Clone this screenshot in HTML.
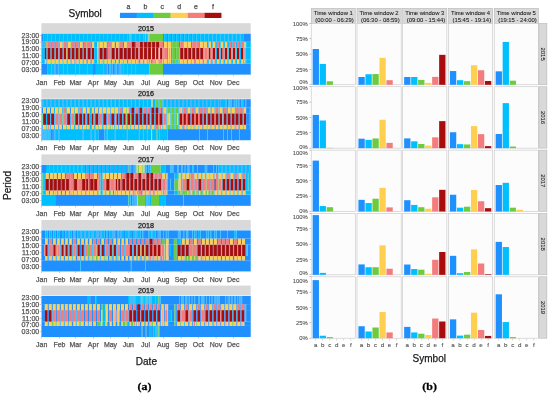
<!DOCTYPE html><html><head><meta charset="utf-8"><style>html,body{margin:0;padding:0;background:#fff;}svg{display:block;will-change:transform;filter:blur(0.3px)} text{stroke-width:0.25px}</style></head><body>
<svg width="550" height="395" viewBox="0 0 550 395" font-family='"Liberation Sans", sans-serif'>
<rect width="550" height="395" fill="#fff"/>
<text x="68.5" y="17.2" font-size="10" fill="#1a1a1a" shape-rendering="auto" stroke="#1a1a1a">Symbol</text>
<rect x="120.00" y="12.8" width="16.95" height="5.2" fill="#1E90FF"/>
<text x="128.45" y="8.6" font-size="7" fill="#4d4d4d" text-anchor="middle" stroke="#4d4d4d">a</text>
<rect x="136.90" y="12.8" width="16.95" height="5.2" fill="#00BFFF"/>
<text x="145.35" y="8.6" font-size="7" fill="#4d4d4d" text-anchor="middle" stroke="#4d4d4d">b</text>
<rect x="153.80" y="12.8" width="16.95" height="5.2" fill="#6CCB3F"/>
<text x="162.25" y="8.6" font-size="7" fill="#4d4d4d" text-anchor="middle" stroke="#4d4d4d">c</text>
<rect x="170.70" y="12.8" width="16.95" height="5.2" fill="#FFCF50"/>
<text x="179.15" y="8.6" font-size="7" fill="#4d4d4d" text-anchor="middle" stroke="#4d4d4d">d</text>
<rect x="187.60" y="12.8" width="16.95" height="5.2" fill="#F47C7C"/>
<text x="196.05" y="8.6" font-size="7" fill="#4d4d4d" text-anchor="middle" stroke="#4d4d4d">e</text>
<rect x="204.50" y="12.8" width="16.95" height="5.2" fill="#A80C0C"/>
<text x="212.95" y="8.6" font-size="7" fill="#4d4d4d" text-anchor="middle" stroke="#4d4d4d">f</text>
<rect x="41.4" y="23.20" width="209.30" height="9.9" fill="#D9D9D9"/>
<text x="146.05" y="30.80" font-size="7.2" fill="#1a1a1a" text-anchor="middle" stroke="#1a1a1a">2015</text>
<rect x="41.40" y="63.50" width="5.76" height="11.13" fill="#1E90FF"/>
<rect x="47.13" y="63.50" width="4.04" height="11.13" fill="#00BFFF"/>
<rect x="51.15" y="63.50" width="0.60" height="11.13" fill="#1E90FF"/>
<rect x="51.72" y="63.50" width="2.32" height="11.13" fill="#00BFFF"/>
<rect x="54.02" y="63.50" width="0.60" height="11.13" fill="#1E90FF"/>
<rect x="54.59" y="63.50" width="1.18" height="11.13" fill="#00BFFF"/>
<rect x="55.74" y="63.50" width="1.18" height="11.13" fill="#1E90FF"/>
<rect x="56.88" y="63.50" width="1.18" height="11.13" fill="#00BFFF"/>
<rect x="58.03" y="63.50" width="0.60" height="11.13" fill="#1E90FF"/>
<rect x="58.61" y="63.50" width="4.62" height="11.13" fill="#00BFFF"/>
<rect x="63.19" y="63.50" width="0.60" height="11.13" fill="#1E90FF"/>
<rect x="63.77" y="63.50" width="3.47" height="11.13" fill="#00BFFF"/>
<rect x="67.21" y="63.50" width="0.60" height="11.13" fill="#1E90FF"/>
<rect x="67.78" y="63.50" width="7.49" height="11.13" fill="#00BFFF"/>
<rect x="75.24" y="63.50" width="0.60" height="11.13" fill="#1E90FF"/>
<rect x="75.81" y="63.50" width="3.47" height="11.13" fill="#00BFFF"/>
<rect x="79.25" y="63.50" width="0.60" height="11.13" fill="#1E90FF"/>
<rect x="79.82" y="63.50" width="7.49" height="11.13" fill="#00BFFF"/>
<rect x="87.28" y="63.50" width="0.60" height="11.13" fill="#1E90FF"/>
<rect x="87.85" y="63.50" width="5.19" height="11.13" fill="#00BFFF"/>
<rect x="93.02" y="63.50" width="2.90" height="11.13" fill="#1E90FF"/>
<rect x="95.88" y="63.50" width="7.49" height="11.13" fill="#00BFFF"/>
<rect x="103.34" y="63.50" width="0.60" height="11.13" fill="#1E90FF"/>
<rect x="103.91" y="63.50" width="2.32" height="11.13" fill="#00BFFF"/>
<rect x="106.21" y="63.50" width="1.18" height="11.13" fill="#1E90FF"/>
<rect x="107.35" y="63.50" width="0.60" height="11.13" fill="#00BFFF"/>
<rect x="107.93" y="63.50" width="1.18" height="11.13" fill="#1E90FF"/>
<rect x="109.07" y="63.50" width="0.60" height="11.13" fill="#00BFFF"/>
<rect x="109.65" y="63.50" width="0.60" height="11.13" fill="#1E90FF"/>
<rect x="110.22" y="63.50" width="2.32" height="11.13" fill="#00BFFF"/>
<rect x="112.51" y="63.50" width="2.32" height="11.13" fill="#1E90FF"/>
<rect x="114.81" y="63.50" width="0.60" height="11.13" fill="#00BFFF"/>
<rect x="115.38" y="63.50" width="1.18" height="11.13" fill="#1E90FF"/>
<rect x="116.53" y="63.50" width="0.60" height="11.13" fill="#00BFFF"/>
<rect x="117.10" y="63.50" width="1.75" height="11.13" fill="#1E90FF"/>
<rect x="118.82" y="63.50" width="0.60" height="11.13" fill="#00BFFF"/>
<rect x="119.40" y="63.50" width="0.60" height="11.13" fill="#1E90FF"/>
<rect x="119.97" y="63.50" width="0.60" height="11.13" fill="#00BFFF"/>
<rect x="120.54" y="63.50" width="0.60" height="11.13" fill="#1E90FF"/>
<rect x="121.12" y="63.50" width="2.32" height="11.13" fill="#00BFFF"/>
<rect x="123.41" y="63.50" width="0.60" height="11.13" fill="#1E90FF"/>
<rect x="123.98" y="63.50" width="3.47" height="11.13" fill="#00BFFF"/>
<rect x="127.43" y="63.50" width="0.60" height="11.13" fill="#1E90FF"/>
<rect x="128.00" y="63.50" width="3.47" height="11.13" fill="#00BFFF"/>
<rect x="131.44" y="63.50" width="0.60" height="11.13" fill="#1E90FF"/>
<rect x="132.01" y="63.50" width="3.47" height="11.13" fill="#00BFFF"/>
<rect x="135.45" y="63.50" width="0.60" height="11.13" fill="#1E90FF"/>
<rect x="136.03" y="63.50" width="13.22" height="11.13" fill="#00BFFF"/>
<rect x="149.22" y="63.50" width="13.79" height="11.13" fill="#6CCB3F"/>
<rect x="162.98" y="63.50" width="87.75" height="11.13" fill="#1E90FF"/>
<rect x="41.40" y="59.23" width="3.47" height="4.30" fill="#00BFFF"/>
<rect x="44.84" y="59.23" width="1.18" height="4.30" fill="#FFCF50"/>
<rect x="45.99" y="59.23" width="0.60" height="4.30" fill="#F47C7C"/>
<rect x="46.56" y="59.23" width="0.60" height="4.30" fill="#00BFFF"/>
<rect x="47.13" y="59.23" width="0.60" height="4.30" fill="#6CCB3F"/>
<rect x="47.71" y="59.23" width="2.90" height="4.30" fill="#FFCF50"/>
<rect x="50.58" y="59.23" width="0.60" height="4.30" fill="#6CCB3F"/>
<rect x="51.15" y="59.23" width="0.60" height="4.30" fill="#00BFFF"/>
<rect x="51.72" y="59.23" width="2.90" height="4.30" fill="#FFCF50"/>
<rect x="54.59" y="59.23" width="0.60" height="4.30" fill="#6CCB3F"/>
<rect x="55.16" y="59.23" width="0.60" height="4.30" fill="#00BFFF"/>
<rect x="55.74" y="59.23" width="2.90" height="4.30" fill="#FFCF50"/>
<rect x="58.61" y="59.23" width="1.18" height="4.30" fill="#00BFFF"/>
<rect x="59.75" y="59.23" width="2.90" height="4.30" fill="#FFCF50"/>
<rect x="62.62" y="59.23" width="0.60" height="4.30" fill="#00BFFF"/>
<rect x="63.19" y="59.23" width="0.60" height="4.30" fill="#6CCB3F"/>
<rect x="63.77" y="59.23" width="2.90" height="4.30" fill="#FFCF50"/>
<rect x="66.63" y="59.23" width="1.18" height="4.30" fill="#00BFFF"/>
<rect x="67.78" y="59.23" width="2.90" height="4.30" fill="#FFCF50"/>
<rect x="70.65" y="59.23" width="0.60" height="4.30" fill="#1E90FF"/>
<rect x="71.22" y="59.23" width="0.60" height="4.30" fill="#00BFFF"/>
<rect x="71.80" y="59.23" width="0.60" height="4.30" fill="#F47C7C"/>
<rect x="72.37" y="59.23" width="1.75" height="4.30" fill="#FFCF50"/>
<rect x="74.09" y="59.23" width="0.60" height="4.30" fill="#F47C7C"/>
<rect x="74.66" y="59.23" width="0.60" height="4.30" fill="#00BFFF"/>
<rect x="75.24" y="59.23" width="0.60" height="4.30" fill="#6CCB3F"/>
<rect x="75.81" y="59.23" width="0.60" height="4.30" fill="#FFCF50"/>
<rect x="76.38" y="59.23" width="0.60" height="4.30" fill="#F47C7C"/>
<rect x="76.96" y="59.23" width="1.75" height="4.30" fill="#FFCF50"/>
<rect x="78.68" y="59.23" width="0.60" height="4.30" fill="#00BFFF"/>
<rect x="79.25" y="59.23" width="0.60" height="4.30" fill="#1E90FF"/>
<rect x="79.82" y="59.23" width="2.90" height="4.30" fill="#FFCF50"/>
<rect x="82.69" y="59.23" width="1.18" height="4.30" fill="#00BFFF"/>
<rect x="83.84" y="59.23" width="2.32" height="4.30" fill="#FFCF50"/>
<rect x="86.13" y="59.23" width="0.60" height="4.30" fill="#F47C7C"/>
<rect x="86.71" y="59.23" width="1.18" height="4.30" fill="#00BFFF"/>
<rect x="87.85" y="59.23" width="2.32" height="4.30" fill="#FFCF50"/>
<rect x="90.15" y="59.23" width="0.60" height="4.30" fill="#F47C7C"/>
<rect x="90.72" y="59.23" width="1.18" height="4.30" fill="#00BFFF"/>
<rect x="91.87" y="59.23" width="1.75" height="4.30" fill="#FFCF50"/>
<rect x="93.59" y="59.23" width="0.60" height="4.30" fill="#6CCB3F"/>
<rect x="94.16" y="59.23" width="2.90" height="4.30" fill="#00BFFF"/>
<rect x="97.03" y="59.23" width="0.60" height="4.30" fill="#6CCB3F"/>
<rect x="97.60" y="59.23" width="0.60" height="4.30" fill="#FFCF50"/>
<rect x="98.18" y="59.23" width="0.60" height="4.30" fill="#6CCB3F"/>
<rect x="98.75" y="59.23" width="0.60" height="4.30" fill="#00BFFF"/>
<rect x="99.32" y="59.23" width="0.60" height="4.30" fill="#1E90FF"/>
<rect x="99.90" y="59.23" width="1.75" height="4.30" fill="#FFCF50"/>
<rect x="101.62" y="59.23" width="0.60" height="4.30" fill="#6CCB3F"/>
<rect x="102.19" y="59.23" width="0.60" height="4.30" fill="#FFCF50"/>
<rect x="102.76" y="59.23" width="0.60" height="4.30" fill="#1E90FF"/>
<rect x="103.34" y="59.23" width="0.60" height="4.30" fill="#00BFFF"/>
<rect x="103.91" y="59.23" width="0.60" height="4.30" fill="#FFCF50"/>
<rect x="104.48" y="59.23" width="0.60" height="4.30" fill="#6CCB3F"/>
<rect x="105.06" y="59.23" width="1.75" height="4.30" fill="#FFCF50"/>
<rect x="106.78" y="59.23" width="0.60" height="4.30" fill="#6CCB3F"/>
<rect x="107.35" y="59.23" width="0.60" height="4.30" fill="#00BFFF"/>
<rect x="107.93" y="59.23" width="2.90" height="4.30" fill="#FFCF50"/>
<rect x="110.79" y="59.23" width="1.18" height="4.30" fill="#00BFFF"/>
<rect x="111.94" y="59.23" width="1.75" height="4.30" fill="#FFCF50"/>
<rect x="113.66" y="59.23" width="0.60" height="4.30" fill="#6CCB3F"/>
<rect x="114.23" y="59.23" width="0.60" height="4.30" fill="#FFCF50"/>
<rect x="114.81" y="59.23" width="1.18" height="4.30" fill="#00BFFF"/>
<rect x="115.96" y="59.23" width="2.32" height="4.30" fill="#FFCF50"/>
<rect x="118.25" y="59.23" width="0.60" height="4.30" fill="#6CCB3F"/>
<rect x="118.82" y="59.23" width="1.18" height="4.30" fill="#00BFFF"/>
<rect x="119.97" y="59.23" width="1.75" height="4.30" fill="#FFCF50"/>
<rect x="121.69" y="59.23" width="0.60" height="4.30" fill="#6CCB3F"/>
<rect x="122.26" y="59.23" width="0.60" height="4.30" fill="#FFCF50"/>
<rect x="122.84" y="59.23" width="0.60" height="4.30" fill="#1E90FF"/>
<rect x="123.41" y="59.23" width="0.60" height="4.30" fill="#6CCB3F"/>
<rect x="123.98" y="59.23" width="1.75" height="4.30" fill="#FFCF50"/>
<rect x="125.70" y="59.23" width="0.60" height="4.30" fill="#6CCB3F"/>
<rect x="126.28" y="59.23" width="0.60" height="4.30" fill="#FFCF50"/>
<rect x="126.85" y="59.23" width="1.18" height="4.30" fill="#00BFFF"/>
<rect x="128.00" y="59.23" width="0.60" height="4.30" fill="#F47C7C"/>
<rect x="128.57" y="59.23" width="0.60" height="4.30" fill="#FFCF50"/>
<rect x="129.15" y="59.23" width="0.60" height="4.30" fill="#F47C7C"/>
<rect x="129.72" y="59.23" width="1.18" height="4.30" fill="#FFCF50"/>
<rect x="130.87" y="59.23" width="0.60" height="4.30" fill="#00BFFF"/>
<rect x="131.44" y="59.23" width="0.60" height="4.30" fill="#6CCB3F"/>
<rect x="132.01" y="59.23" width="1.75" height="4.30" fill="#FFCF50"/>
<rect x="133.73" y="59.23" width="0.60" height="4.30" fill="#F47C7C"/>
<rect x="134.31" y="59.23" width="0.60" height="4.30" fill="#FFCF50"/>
<rect x="134.88" y="59.23" width="1.18" height="4.30" fill="#6CCB3F"/>
<rect x="136.03" y="59.23" width="1.18" height="4.30" fill="#FFCF50"/>
<rect x="137.17" y="59.23" width="0.60" height="4.30" fill="#F47C7C"/>
<rect x="137.75" y="59.23" width="0.60" height="4.30" fill="#FFCF50"/>
<rect x="138.32" y="59.23" width="0.60" height="4.30" fill="#F47C7C"/>
<rect x="138.90" y="59.23" width="1.18" height="4.30" fill="#00BFFF"/>
<rect x="140.04" y="59.23" width="0.60" height="4.30" fill="#F47C7C"/>
<rect x="140.62" y="59.23" width="1.18" height="4.30" fill="#FFCF50"/>
<rect x="141.76" y="59.23" width="0.60" height="4.30" fill="#F47C7C"/>
<rect x="142.34" y="59.23" width="0.60" height="4.30" fill="#FFCF50"/>
<rect x="142.91" y="59.23" width="0.60" height="4.30" fill="#00BFFF"/>
<rect x="143.48" y="59.23" width="0.60" height="4.30" fill="#1E90FF"/>
<rect x="144.06" y="59.23" width="0.60" height="4.30" fill="#FFCF50"/>
<rect x="144.63" y="59.23" width="0.60" height="4.30" fill="#F47C7C"/>
<rect x="145.20" y="59.23" width="1.75" height="4.30" fill="#FFCF50"/>
<rect x="146.92" y="59.23" width="0.60" height="4.30" fill="#00BFFF"/>
<rect x="147.50" y="59.23" width="0.60" height="4.30" fill="#6CCB3F"/>
<rect x="148.07" y="59.23" width="0.60" height="4.30" fill="#FFCF50"/>
<rect x="148.64" y="59.23" width="1.75" height="4.30" fill="#F47C7C"/>
<rect x="150.37" y="59.23" width="0.60" height="4.30" fill="#FFCF50"/>
<rect x="150.94" y="59.23" width="1.18" height="4.30" fill="#00BFFF"/>
<rect x="152.09" y="59.23" width="1.75" height="4.30" fill="#F47C7C"/>
<rect x="153.81" y="59.23" width="0.60" height="4.30" fill="#FFCF50"/>
<rect x="154.38" y="59.23" width="0.60" height="4.30" fill="#F47C7C"/>
<rect x="154.95" y="59.23" width="0.60" height="4.30" fill="#1E90FF"/>
<rect x="155.53" y="59.23" width="0.60" height="4.30" fill="#6CCB3F"/>
<rect x="156.10" y="59.23" width="2.32" height="4.30" fill="#FFCF50"/>
<rect x="158.39" y="59.23" width="0.60" height="4.30" fill="#F47C7C"/>
<rect x="158.97" y="59.23" width="0.60" height="4.30" fill="#00BFFF"/>
<rect x="159.54" y="59.23" width="0.60" height="4.30" fill="#6CCB3F"/>
<rect x="160.11" y="59.23" width="2.32" height="4.30" fill="#F47C7C"/>
<rect x="162.41" y="59.23" width="0.60" height="4.30" fill="#FFCF50"/>
<rect x="162.98" y="59.23" width="0.60" height="4.30" fill="#1E90FF"/>
<rect x="163.56" y="59.23" width="0.60" height="4.30" fill="#6CCB3F"/>
<rect x="164.13" y="59.23" width="2.90" height="4.30" fill="#FFCF50"/>
<rect x="167.00" y="59.23" width="0.60" height="4.30" fill="#6CCB3F"/>
<rect x="167.57" y="59.23" width="0.60" height="4.30" fill="#00BFFF"/>
<rect x="168.14" y="59.23" width="1.18" height="4.30" fill="#FFCF50"/>
<rect x="169.29" y="59.23" width="0.60" height="4.30" fill="#6CCB3F"/>
<rect x="169.86" y="59.23" width="1.18" height="4.30" fill="#FFCF50"/>
<rect x="171.01" y="59.23" width="1.18" height="4.30" fill="#00BFFF"/>
<rect x="172.16" y="59.23" width="0.60" height="4.30" fill="#6CCB3F"/>
<rect x="172.73" y="59.23" width="1.18" height="4.30" fill="#00BFFF"/>
<rect x="173.88" y="59.23" width="1.75" height="4.30" fill="#6CCB3F"/>
<rect x="175.60" y="59.23" width="1.18" height="4.30" fill="#00BFFF"/>
<rect x="176.75" y="59.23" width="1.18" height="4.30" fill="#6CCB3F"/>
<rect x="177.89" y="59.23" width="0.60" height="4.30" fill="#00BFFF"/>
<rect x="178.47" y="59.23" width="0.60" height="4.30" fill="#6CCB3F"/>
<rect x="179.04" y="59.23" width="0.60" height="4.30" fill="#00BFFF"/>
<rect x="179.61" y="59.23" width="0.60" height="4.30" fill="#6CCB3F"/>
<rect x="180.19" y="59.23" width="2.90" height="4.30" fill="#FFCF50"/>
<rect x="183.05" y="59.23" width="0.60" height="4.30" fill="#6CCB3F"/>
<rect x="183.63" y="59.23" width="0.60" height="4.30" fill="#00BFFF"/>
<rect x="184.20" y="59.23" width="2.90" height="4.30" fill="#FFCF50"/>
<rect x="187.07" y="59.23" width="1.18" height="4.30" fill="#00BFFF"/>
<rect x="188.22" y="59.23" width="2.90" height="4.30" fill="#FFCF50"/>
<rect x="191.08" y="59.23" width="0.60" height="4.30" fill="#00BFFF"/>
<rect x="191.66" y="59.23" width="0.60" height="4.30" fill="#6CCB3F"/>
<rect x="192.23" y="59.23" width="1.75" height="4.30" fill="#FFCF50"/>
<rect x="193.95" y="59.23" width="1.18" height="4.30" fill="#F47C7C"/>
<rect x="195.10" y="59.23" width="1.18" height="4.30" fill="#6CCB3F"/>
<rect x="196.25" y="59.23" width="0.60" height="4.30" fill="#FFCF50"/>
<rect x="196.82" y="59.23" width="0.60" height="4.30" fill="#F47C7C"/>
<rect x="197.39" y="59.23" width="1.75" height="4.30" fill="#FFCF50"/>
<rect x="199.11" y="59.23" width="0.60" height="4.30" fill="#00BFFF"/>
<rect x="199.69" y="59.23" width="0.60" height="4.30" fill="#6CCB3F"/>
<rect x="200.26" y="59.23" width="2.32" height="4.30" fill="#FFCF50"/>
<rect x="202.55" y="59.23" width="0.60" height="4.30" fill="#F47C7C"/>
<rect x="203.13" y="59.23" width="1.18" height="4.30" fill="#00BFFF"/>
<rect x="204.27" y="59.23" width="1.75" height="4.30" fill="#FFCF50"/>
<rect x="205.99" y="59.23" width="0.60" height="4.30" fill="#F47C7C"/>
<rect x="206.57" y="59.23" width="0.60" height="4.30" fill="#FFCF50"/>
<rect x="207.14" y="59.23" width="1.75" height="4.30" fill="#00BFFF"/>
<rect x="208.86" y="59.23" width="1.75" height="4.30" fill="#FFCF50"/>
<rect x="210.58" y="59.23" width="0.60" height="4.30" fill="#F47C7C"/>
<rect x="211.16" y="59.23" width="0.60" height="4.30" fill="#00BFFF"/>
<rect x="211.73" y="59.23" width="0.60" height="4.30" fill="#1E90FF"/>
<rect x="212.30" y="59.23" width="0.60" height="4.30" fill="#00BFFF"/>
<rect x="212.88" y="59.23" width="1.75" height="4.30" fill="#FFCF50"/>
<rect x="214.60" y="59.23" width="0.60" height="4.30" fill="#F47C7C"/>
<rect x="215.17" y="59.23" width="1.75" height="4.30" fill="#00BFFF"/>
<rect x="216.89" y="59.23" width="2.32" height="4.30" fill="#FFCF50"/>
<rect x="219.19" y="59.23" width="0.60" height="4.30" fill="#6CCB3F"/>
<rect x="219.76" y="59.23" width="1.18" height="4.30" fill="#00BFFF"/>
<rect x="220.91" y="59.23" width="2.32" height="4.30" fill="#FFCF50"/>
<rect x="223.20" y="59.23" width="0.60" height="4.30" fill="#6CCB3F"/>
<rect x="223.77" y="59.23" width="1.18" height="4.30" fill="#00BFFF"/>
<rect x="224.92" y="59.23" width="0.60" height="4.30" fill="#F47C7C"/>
<rect x="225.49" y="59.23" width="1.75" height="4.30" fill="#FFCF50"/>
<rect x="227.21" y="59.23" width="0.60" height="4.30" fill="#00BFFF"/>
<rect x="227.79" y="59.23" width="0.60" height="4.30" fill="#6CCB3F"/>
<rect x="228.36" y="59.23" width="0.60" height="4.30" fill="#00BFFF"/>
<rect x="228.93" y="59.23" width="2.32" height="4.30" fill="#FFCF50"/>
<rect x="231.23" y="59.23" width="1.75" height="4.30" fill="#00BFFF"/>
<rect x="232.95" y="59.23" width="2.32" height="4.30" fill="#FFCF50"/>
<rect x="235.24" y="59.23" width="1.75" height="4.30" fill="#00BFFF"/>
<rect x="236.96" y="59.23" width="2.32" height="4.30" fill="#FFCF50"/>
<rect x="239.26" y="59.23" width="1.75" height="4.30" fill="#00BFFF"/>
<rect x="240.98" y="59.23" width="0.60" height="4.30" fill="#FFCF50"/>
<rect x="241.55" y="59.23" width="0.60" height="4.30" fill="#F47C7C"/>
<rect x="242.12" y="59.23" width="1.18" height="4.30" fill="#FFCF50"/>
<rect x="243.27" y="59.23" width="1.18" height="4.30" fill="#00BFFF"/>
<rect x="244.42" y="59.23" width="0.60" height="4.30" fill="#FFCF50"/>
<rect x="244.99" y="59.23" width="0.60" height="4.30" fill="#00BFFF"/>
<rect x="245.57" y="59.23" width="0.60" height="4.30" fill="#F47C7C"/>
<rect x="246.14" y="59.23" width="4.59" height="4.30" fill="#00BFFF"/>
<rect x="41.40" y="47.69" width="3.47" height="11.56" fill="#00BFFF"/>
<rect x="44.84" y="47.69" width="1.75" height="11.56" fill="#A80C0C"/>
<rect x="46.56" y="47.69" width="1.18" height="11.56" fill="#00BFFF"/>
<rect x="47.71" y="47.69" width="2.90" height="11.56" fill="#A80C0C"/>
<rect x="50.58" y="47.69" width="0.60" height="11.56" fill="#00BFFF"/>
<rect x="51.15" y="47.69" width="0.60" height="11.56" fill="#1E90FF"/>
<rect x="51.72" y="47.69" width="2.90" height="11.56" fill="#A80C0C"/>
<rect x="54.59" y="47.69" width="0.60" height="11.56" fill="#00BFFF"/>
<rect x="55.16" y="47.69" width="0.60" height="11.56" fill="#6CCB3F"/>
<rect x="55.74" y="47.69" width="2.32" height="11.56" fill="#A80C0C"/>
<rect x="58.03" y="47.69" width="0.60" height="11.56" fill="#F47C7C"/>
<rect x="58.61" y="47.69" width="0.60" height="11.56" fill="#1E90FF"/>
<rect x="59.18" y="47.69" width="0.60" height="11.56" fill="#00BFFF"/>
<rect x="59.75" y="47.69" width="2.90" height="11.56" fill="#A80C0C"/>
<rect x="62.62" y="47.69" width="0.60" height="11.56" fill="#1E90FF"/>
<rect x="63.19" y="47.69" width="0.60" height="11.56" fill="#F47C7C"/>
<rect x="63.77" y="47.69" width="2.32" height="11.56" fill="#A80C0C"/>
<rect x="66.06" y="47.69" width="0.60" height="11.56" fill="#F47C7C"/>
<rect x="66.63" y="47.69" width="0.60" height="11.56" fill="#6CCB3F"/>
<rect x="67.21" y="47.69" width="0.60" height="11.56" fill="#00BFFF"/>
<rect x="67.78" y="47.69" width="2.90" height="11.56" fill="#A80C0C"/>
<rect x="70.65" y="47.69" width="0.60" height="11.56" fill="#00BFFF"/>
<rect x="71.22" y="47.69" width="0.60" height="11.56" fill="#1E90FF"/>
<rect x="71.80" y="47.69" width="2.90" height="11.56" fill="#A80C0C"/>
<rect x="74.66" y="47.69" width="0.60" height="11.56" fill="#00BFFF"/>
<rect x="75.24" y="47.69" width="0.60" height="11.56" fill="#1E90FF"/>
<rect x="75.81" y="47.69" width="2.90" height="11.56" fill="#A80C0C"/>
<rect x="78.68" y="47.69" width="0.60" height="11.56" fill="#6CCB3F"/>
<rect x="79.25" y="47.69" width="0.60" height="11.56" fill="#00BFFF"/>
<rect x="79.82" y="47.69" width="2.90" height="11.56" fill="#A80C0C"/>
<rect x="82.69" y="47.69" width="1.18" height="11.56" fill="#00BFFF"/>
<rect x="83.84" y="47.69" width="2.32" height="11.56" fill="#A80C0C"/>
<rect x="86.13" y="47.69" width="0.60" height="11.56" fill="#F47C7C"/>
<rect x="86.71" y="47.69" width="1.18" height="11.56" fill="#00BFFF"/>
<rect x="87.85" y="47.69" width="2.90" height="11.56" fill="#A80C0C"/>
<rect x="90.72" y="47.69" width="0.60" height="11.56" fill="#1E90FF"/>
<rect x="91.29" y="47.69" width="0.60" height="11.56" fill="#00BFFF"/>
<rect x="91.87" y="47.69" width="2.32" height="11.56" fill="#A80C0C"/>
<rect x="94.16" y="47.69" width="2.90" height="11.56" fill="#00BFFF"/>
<rect x="97.03" y="47.69" width="0.60" height="11.56" fill="#F47C7C"/>
<rect x="97.60" y="47.69" width="0.60" height="11.56" fill="#FFCF50"/>
<rect x="98.18" y="47.69" width="0.60" height="11.56" fill="#F47C7C"/>
<rect x="98.75" y="47.69" width="1.18" height="11.56" fill="#00BFFF"/>
<rect x="99.90" y="47.69" width="2.90" height="11.56" fill="#A80C0C"/>
<rect x="102.76" y="47.69" width="1.18" height="11.56" fill="#00BFFF"/>
<rect x="103.91" y="47.69" width="2.90" height="11.56" fill="#A80C0C"/>
<rect x="106.78" y="47.69" width="1.18" height="11.56" fill="#1E90FF"/>
<rect x="107.93" y="47.69" width="2.90" height="11.56" fill="#F47C7C"/>
<rect x="110.79" y="47.69" width="1.18" height="11.56" fill="#00BFFF"/>
<rect x="111.94" y="47.69" width="2.90" height="11.56" fill="#A80C0C"/>
<rect x="114.81" y="47.69" width="0.60" height="11.56" fill="#00BFFF"/>
<rect x="115.38" y="47.69" width="0.60" height="11.56" fill="#F47C7C"/>
<rect x="115.96" y="47.69" width="2.32" height="11.56" fill="#A80C0C"/>
<rect x="118.25" y="47.69" width="0.60" height="11.56" fill="#F47C7C"/>
<rect x="118.82" y="47.69" width="1.18" height="11.56" fill="#1E90FF"/>
<rect x="119.97" y="47.69" width="2.90" height="11.56" fill="#A80C0C"/>
<rect x="122.84" y="47.69" width="0.60" height="11.56" fill="#1E90FF"/>
<rect x="123.41" y="47.69" width="0.60" height="11.56" fill="#00BFFF"/>
<rect x="123.98" y="47.69" width="2.90" height="11.56" fill="#A80C0C"/>
<rect x="126.85" y="47.69" width="1.18" height="11.56" fill="#1E90FF"/>
<rect x="128.00" y="47.69" width="2.90" height="11.56" fill="#A80C0C"/>
<rect x="130.87" y="47.69" width="0.60" height="11.56" fill="#1E90FF"/>
<rect x="131.44" y="47.69" width="0.60" height="11.56" fill="#6CCB3F"/>
<rect x="132.01" y="47.69" width="2.90" height="11.56" fill="#A80C0C"/>
<rect x="134.88" y="47.69" width="1.18" height="11.56" fill="#00BFFF"/>
<rect x="136.03" y="47.69" width="2.32" height="11.56" fill="#A80C0C"/>
<rect x="138.32" y="47.69" width="0.60" height="11.56" fill="#F47C7C"/>
<rect x="138.90" y="47.69" width="0.60" height="11.56" fill="#1E90FF"/>
<rect x="139.47" y="47.69" width="0.60" height="11.56" fill="#00BFFF"/>
<rect x="140.04" y="47.69" width="2.90" height="11.56" fill="#A80C0C"/>
<rect x="142.91" y="47.69" width="0.60" height="11.56" fill="#F47C7C"/>
<rect x="143.48" y="47.69" width="0.60" height="11.56" fill="#6CCB3F"/>
<rect x="144.06" y="47.69" width="2.90" height="11.56" fill="#A80C0C"/>
<rect x="146.92" y="47.69" width="0.60" height="11.56" fill="#1E90FF"/>
<rect x="147.50" y="47.69" width="0.60" height="11.56" fill="#00BFFF"/>
<rect x="148.07" y="47.69" width="2.90" height="11.56" fill="#A80C0C"/>
<rect x="150.94" y="47.69" width="1.18" height="11.56" fill="#FFCF50"/>
<rect x="152.09" y="47.69" width="2.90" height="11.56" fill="#A80C0C"/>
<rect x="154.95" y="47.69" width="1.18" height="11.56" fill="#FFCF50"/>
<rect x="156.10" y="47.69" width="2.32" height="11.56" fill="#A80C0C"/>
<rect x="158.39" y="47.69" width="0.60" height="11.56" fill="#F47C7C"/>
<rect x="158.97" y="47.69" width="1.18" height="11.56" fill="#FFCF50"/>
<rect x="160.11" y="47.69" width="2.32" height="11.56" fill="#A80C0C"/>
<rect x="162.41" y="47.69" width="1.18" height="11.56" fill="#F47C7C"/>
<rect x="163.56" y="47.69" width="0.60" height="11.56" fill="#00BFFF"/>
<rect x="164.13" y="47.69" width="2.90" height="11.56" fill="#F47C7C"/>
<rect x="167.00" y="47.69" width="1.18" height="11.56" fill="#00BFFF"/>
<rect x="168.14" y="47.69" width="1.18" height="11.56" fill="#FFCF50"/>
<rect x="169.29" y="47.69" width="1.18" height="11.56" fill="#F47C7C"/>
<rect x="170.44" y="47.69" width="0.60" height="11.56" fill="#FFCF50"/>
<rect x="171.01" y="47.69" width="1.18" height="11.56" fill="#00BFFF"/>
<rect x="172.16" y="47.69" width="2.90" height="11.56" fill="#6CCB3F"/>
<rect x="175.03" y="47.69" width="1.18" height="11.56" fill="#00BFFF"/>
<rect x="176.17" y="47.69" width="3.47" height="11.56" fill="#6CCB3F"/>
<rect x="179.61" y="47.69" width="0.60" height="11.56" fill="#F47C7C"/>
<rect x="180.19" y="47.69" width="2.90" height="11.56" fill="#A80C0C"/>
<rect x="183.05" y="47.69" width="0.60" height="11.56" fill="#1E90FF"/>
<rect x="183.63" y="47.69" width="0.60" height="11.56" fill="#00BFFF"/>
<rect x="184.20" y="47.69" width="2.90" height="11.56" fill="#A80C0C"/>
<rect x="187.07" y="47.69" width="1.18" height="11.56" fill="#00BFFF"/>
<rect x="188.22" y="47.69" width="2.90" height="11.56" fill="#A80C0C"/>
<rect x="191.08" y="47.69" width="0.60" height="11.56" fill="#00BFFF"/>
<rect x="191.66" y="47.69" width="0.60" height="11.56" fill="#6CCB3F"/>
<rect x="192.23" y="47.69" width="2.90" height="11.56" fill="#A80C0C"/>
<rect x="195.10" y="47.69" width="0.60" height="11.56" fill="#F47C7C"/>
<rect x="195.67" y="47.69" width="0.60" height="11.56" fill="#00BFFF"/>
<rect x="196.25" y="47.69" width="2.90" height="11.56" fill="#A80C0C"/>
<rect x="199.11" y="47.69" width="1.18" height="11.56" fill="#00BFFF"/>
<rect x="200.26" y="47.69" width="2.90" height="11.56" fill="#A80C0C"/>
<rect x="203.13" y="47.69" width="0.60" height="11.56" fill="#00BFFF"/>
<rect x="203.70" y="47.69" width="0.60" height="11.56" fill="#6CCB3F"/>
<rect x="204.27" y="47.69" width="3.47" height="11.56" fill="#F47C7C"/>
<rect x="207.72" y="47.69" width="0.60" height="11.56" fill="#6CCB3F"/>
<rect x="208.29" y="47.69" width="0.60" height="11.56" fill="#F47C7C"/>
<rect x="208.86" y="47.69" width="1.75" height="11.56" fill="#A80C0C"/>
<rect x="210.58" y="47.69" width="0.60" height="11.56" fill="#F47C7C"/>
<rect x="211.16" y="47.69" width="0.60" height="11.56" fill="#00BFFF"/>
<rect x="211.73" y="47.69" width="1.18" height="11.56" fill="#F47C7C"/>
<rect x="212.88" y="47.69" width="2.32" height="11.56" fill="#A80C0C"/>
<rect x="215.17" y="47.69" width="0.60" height="11.56" fill="#6CCB3F"/>
<rect x="215.74" y="47.69" width="1.18" height="11.56" fill="#00BFFF"/>
<rect x="216.89" y="47.69" width="2.32" height="11.56" fill="#A80C0C"/>
<rect x="219.19" y="47.69" width="0.60" height="11.56" fill="#00BFFF"/>
<rect x="219.76" y="47.69" width="0.60" height="11.56" fill="#F47C7C"/>
<rect x="220.33" y="47.69" width="0.60" height="11.56" fill="#00BFFF"/>
<rect x="220.91" y="47.69" width="1.75" height="11.56" fill="#A80C0C"/>
<rect x="222.63" y="47.69" width="0.60" height="11.56" fill="#F47C7C"/>
<rect x="223.20" y="47.69" width="1.18" height="11.56" fill="#00BFFF"/>
<rect x="224.35" y="47.69" width="0.60" height="11.56" fill="#F47C7C"/>
<rect x="224.92" y="47.69" width="2.32" height="11.56" fill="#A80C0C"/>
<rect x="227.21" y="47.69" width="0.60" height="11.56" fill="#00BFFF"/>
<rect x="227.79" y="47.69" width="0.60" height="11.56" fill="#6CCB3F"/>
<rect x="228.36" y="47.69" width="0.60" height="11.56" fill="#00BFFF"/>
<rect x="228.93" y="47.69" width="2.32" height="11.56" fill="#A80C0C"/>
<rect x="231.23" y="47.69" width="0.60" height="11.56" fill="#6CCB3F"/>
<rect x="231.80" y="47.69" width="0.60" height="11.56" fill="#00BFFF"/>
<rect x="232.38" y="47.69" width="0.60" height="11.56" fill="#F47C7C"/>
<rect x="232.95" y="47.69" width="2.32" height="11.56" fill="#A80C0C"/>
<rect x="235.24" y="47.69" width="0.60" height="11.56" fill="#00BFFF"/>
<rect x="235.82" y="47.69" width="0.60" height="11.56" fill="#6CCB3F"/>
<rect x="236.39" y="47.69" width="0.60" height="11.56" fill="#00BFFF"/>
<rect x="236.96" y="47.69" width="2.32" height="11.56" fill="#A80C0C"/>
<rect x="239.26" y="47.69" width="1.75" height="11.56" fill="#00BFFF"/>
<rect x="240.98" y="47.69" width="2.32" height="11.56" fill="#A80C0C"/>
<rect x="243.27" y="47.69" width="0.60" height="11.56" fill="#6CCB3F"/>
<rect x="243.85" y="47.69" width="0.60" height="11.56" fill="#00BFFF"/>
<rect x="244.42" y="47.69" width="1.18" height="11.56" fill="#F47C7C"/>
<rect x="245.57" y="47.69" width="5.16" height="11.56" fill="#00BFFF"/>
<rect x="41.40" y="41.71" width="1.18" height="6.01" fill="#00BFFF"/>
<rect x="42.55" y="41.71" width="0.60" height="6.01" fill="#1E90FF"/>
<rect x="43.12" y="41.71" width="1.75" height="6.01" fill="#00BFFF"/>
<rect x="44.84" y="41.71" width="1.75" height="6.01" fill="#F47C7C"/>
<rect x="46.56" y="41.71" width="1.18" height="6.01" fill="#6CCB3F"/>
<rect x="47.71" y="41.71" width="2.90" height="6.01" fill="#F47C7C"/>
<rect x="50.58" y="41.71" width="1.18" height="6.01" fill="#1E90FF"/>
<rect x="51.72" y="41.71" width="2.90" height="6.01" fill="#F47C7C"/>
<rect x="54.59" y="41.71" width="1.18" height="6.01" fill="#1E90FF"/>
<rect x="55.74" y="41.71" width="2.90" height="6.01" fill="#F47C7C"/>
<rect x="58.61" y="41.71" width="1.18" height="6.01" fill="#1E90FF"/>
<rect x="59.75" y="41.71" width="2.90" height="6.01" fill="#FFCF50"/>
<rect x="62.62" y="41.71" width="0.60" height="6.01" fill="#1E90FF"/>
<rect x="63.19" y="41.71" width="0.60" height="6.01" fill="#6CCB3F"/>
<rect x="63.77" y="41.71" width="2.90" height="6.01" fill="#F47C7C"/>
<rect x="66.63" y="41.71" width="1.18" height="6.01" fill="#1E90FF"/>
<rect x="67.78" y="41.71" width="2.90" height="6.01" fill="#FFCF50"/>
<rect x="70.65" y="41.71" width="0.60" height="6.01" fill="#6CCB3F"/>
<rect x="71.22" y="41.71" width="0.60" height="6.01" fill="#1E90FF"/>
<rect x="71.80" y="41.71" width="2.90" height="6.01" fill="#F47C7C"/>
<rect x="74.66" y="41.71" width="1.18" height="6.01" fill="#1E90FF"/>
<rect x="75.81" y="41.71" width="2.90" height="6.01" fill="#F47C7C"/>
<rect x="78.68" y="41.71" width="1.18" height="6.01" fill="#1E90FF"/>
<rect x="79.82" y="41.71" width="2.90" height="6.01" fill="#FFCF50"/>
<rect x="82.69" y="41.71" width="1.18" height="6.01" fill="#1E90FF"/>
<rect x="83.84" y="41.71" width="2.90" height="6.01" fill="#F47C7C"/>
<rect x="86.71" y="41.71" width="0.60" height="6.01" fill="#6CCB3F"/>
<rect x="87.28" y="41.71" width="0.60" height="6.01" fill="#1E90FF"/>
<rect x="87.85" y="41.71" width="2.90" height="6.01" fill="#F47C7C"/>
<rect x="90.72" y="41.71" width="1.18" height="6.01" fill="#1E90FF"/>
<rect x="91.87" y="41.71" width="2.32" height="6.01" fill="#FFCF50"/>
<rect x="94.16" y="41.71" width="2.90" height="6.01" fill="#00BFFF"/>
<rect x="97.03" y="41.71" width="1.75" height="6.01" fill="#FFCF50"/>
<rect x="98.75" y="41.71" width="0.60" height="6.01" fill="#1E90FF"/>
<rect x="99.32" y="41.71" width="0.60" height="6.01" fill="#6CCB3F"/>
<rect x="99.90" y="41.71" width="2.90" height="6.01" fill="#FFCF50"/>
<rect x="102.76" y="41.71" width="0.60" height="6.01" fill="#6CCB3F"/>
<rect x="103.34" y="41.71" width="0.60" height="6.01" fill="#1E90FF"/>
<rect x="103.91" y="41.71" width="2.90" height="6.01" fill="#FFCF50"/>
<rect x="106.78" y="41.71" width="1.18" height="6.01" fill="#00BFFF"/>
<rect x="107.93" y="41.71" width="2.90" height="6.01" fill="#F47C7C"/>
<rect x="110.79" y="41.71" width="0.60" height="6.01" fill="#1E90FF"/>
<rect x="111.37" y="41.71" width="0.60" height="6.01" fill="#00BFFF"/>
<rect x="111.94" y="41.71" width="2.90" height="6.01" fill="#FFCF50"/>
<rect x="114.81" y="41.71" width="1.18" height="6.01" fill="#1E90FF"/>
<rect x="115.96" y="41.71" width="2.90" height="6.01" fill="#FFCF50"/>
<rect x="118.82" y="41.71" width="0.60" height="6.01" fill="#1E90FF"/>
<rect x="119.40" y="41.71" width="0.60" height="6.01" fill="#6CCB3F"/>
<rect x="119.97" y="41.71" width="2.90" height="6.01" fill="#F47C7C"/>
<rect x="122.84" y="41.71" width="1.18" height="6.01" fill="#1E90FF"/>
<rect x="123.98" y="41.71" width="2.90" height="6.01" fill="#FFCF50"/>
<rect x="126.85" y="41.71" width="0.60" height="6.01" fill="#1E90FF"/>
<rect x="127.43" y="41.71" width="0.60" height="6.01" fill="#00BFFF"/>
<rect x="128.00" y="41.71" width="2.90" height="6.01" fill="#F47C7C"/>
<rect x="130.87" y="41.71" width="0.60" height="6.01" fill="#00BFFF"/>
<rect x="131.44" y="41.71" width="0.60" height="6.01" fill="#1E90FF"/>
<rect x="132.01" y="41.71" width="2.90" height="6.01" fill="#A80C0C"/>
<rect x="134.88" y="41.71" width="1.18" height="6.01" fill="#1E90FF"/>
<rect x="136.03" y="41.71" width="2.90" height="6.01" fill="#F47C7C"/>
<rect x="138.90" y="41.71" width="0.60" height="6.01" fill="#1E90FF"/>
<rect x="139.47" y="41.71" width="0.60" height="6.01" fill="#00BFFF"/>
<rect x="140.04" y="41.71" width="2.90" height="6.01" fill="#A80C0C"/>
<rect x="142.91" y="41.71" width="0.60" height="6.01" fill="#00BFFF"/>
<rect x="143.48" y="41.71" width="0.60" height="6.01" fill="#1E90FF"/>
<rect x="144.06" y="41.71" width="2.90" height="6.01" fill="#A80C0C"/>
<rect x="146.92" y="41.71" width="1.18" height="6.01" fill="#1E90FF"/>
<rect x="148.07" y="41.71" width="2.90" height="6.01" fill="#A80C0C"/>
<rect x="150.94" y="41.71" width="1.18" height="6.01" fill="#6CCB3F"/>
<rect x="152.09" y="41.71" width="2.90" height="6.01" fill="#A80C0C"/>
<rect x="154.95" y="41.71" width="1.18" height="6.01" fill="#6CCB3F"/>
<rect x="156.10" y="41.71" width="2.90" height="6.01" fill="#A80C0C"/>
<rect x="158.97" y="41.71" width="1.18" height="6.01" fill="#6CCB3F"/>
<rect x="160.11" y="41.71" width="2.90" height="6.01" fill="#F47C7C"/>
<rect x="162.98" y="41.71" width="1.18" height="6.01" fill="#1E90FF"/>
<rect x="164.13" y="41.71" width="2.90" height="6.01" fill="#FFCF50"/>
<rect x="167.00" y="41.71" width="0.60" height="6.01" fill="#00BFFF"/>
<rect x="167.57" y="41.71" width="0.60" height="6.01" fill="#1E90FF"/>
<rect x="168.14" y="41.71" width="2.90" height="6.01" fill="#FFCF50"/>
<rect x="171.01" y="41.71" width="0.60" height="6.01" fill="#1E90FF"/>
<rect x="171.58" y="41.71" width="0.60" height="6.01" fill="#00BFFF"/>
<rect x="172.16" y="41.71" width="3.47" height="6.01" fill="#6CCB3F"/>
<rect x="175.60" y="41.71" width="0.60" height="6.01" fill="#1E90FF"/>
<rect x="176.17" y="41.71" width="2.90" height="6.01" fill="#6CCB3F"/>
<rect x="179.04" y="41.71" width="1.18" height="6.01" fill="#1E90FF"/>
<rect x="180.19" y="41.71" width="2.90" height="6.01" fill="#F47C7C"/>
<rect x="183.05" y="41.71" width="0.60" height="6.01" fill="#00BFFF"/>
<rect x="183.63" y="41.71" width="0.60" height="6.01" fill="#6CCB3F"/>
<rect x="184.20" y="41.71" width="2.90" height="6.01" fill="#FFCF50"/>
<rect x="187.07" y="41.71" width="0.60" height="6.01" fill="#6CCB3F"/>
<rect x="187.64" y="41.71" width="0.60" height="6.01" fill="#1E90FF"/>
<rect x="188.22" y="41.71" width="2.90" height="6.01" fill="#FFCF50"/>
<rect x="191.08" y="41.71" width="1.18" height="6.01" fill="#1E90FF"/>
<rect x="192.23" y="41.71" width="2.90" height="6.01" fill="#F47C7C"/>
<rect x="195.10" y="41.71" width="0.60" height="6.01" fill="#1E90FF"/>
<rect x="195.67" y="41.71" width="0.60" height="6.01" fill="#00BFFF"/>
<rect x="196.25" y="41.71" width="2.90" height="6.01" fill="#F47C7C"/>
<rect x="199.11" y="41.71" width="1.18" height="6.01" fill="#00BFFF"/>
<rect x="200.26" y="41.71" width="2.90" height="6.01" fill="#FFCF50"/>
<rect x="203.13" y="41.71" width="0.60" height="6.01" fill="#00BFFF"/>
<rect x="203.70" y="41.71" width="0.60" height="6.01" fill="#1E90FF"/>
<rect x="204.27" y="41.71" width="2.90" height="6.01" fill="#FFCF50"/>
<rect x="207.14" y="41.71" width="1.18" height="6.01" fill="#1E90FF"/>
<rect x="208.29" y="41.71" width="0.60" height="6.01" fill="#00BFFF"/>
<rect x="208.86" y="41.71" width="2.32" height="6.01" fill="#FFCF50"/>
<rect x="211.16" y="41.71" width="1.18" height="6.01" fill="#1E90FF"/>
<rect x="212.30" y="41.71" width="0.60" height="6.01" fill="#00BFFF"/>
<rect x="212.88" y="41.71" width="2.32" height="6.01" fill="#FFCF50"/>
<rect x="215.17" y="41.71" width="0.60" height="6.01" fill="#1E90FF"/>
<rect x="215.74" y="41.71" width="1.18" height="6.01" fill="#00BFFF"/>
<rect x="216.89" y="41.71" width="2.32" height="6.01" fill="#F47C7C"/>
<rect x="219.19" y="41.71" width="1.18" height="6.01" fill="#1E90FF"/>
<rect x="220.33" y="41.71" width="0.60" height="6.01" fill="#00BFFF"/>
<rect x="220.91" y="41.71" width="2.32" height="6.01" fill="#FFCF50"/>
<rect x="223.20" y="41.71" width="0.60" height="6.01" fill="#1E90FF"/>
<rect x="223.77" y="41.71" width="1.18" height="6.01" fill="#00BFFF"/>
<rect x="224.92" y="41.71" width="2.32" height="6.01" fill="#FFCF50"/>
<rect x="227.21" y="41.71" width="1.75" height="6.01" fill="#00BFFF"/>
<rect x="228.93" y="41.71" width="2.32" height="6.01" fill="#F47C7C"/>
<rect x="231.23" y="41.71" width="1.18" height="6.01" fill="#1E90FF"/>
<rect x="232.38" y="41.71" width="0.60" height="6.01" fill="#00BFFF"/>
<rect x="232.95" y="41.71" width="2.32" height="6.01" fill="#F47C7C"/>
<rect x="235.24" y="41.71" width="0.60" height="6.01" fill="#6CCB3F"/>
<rect x="235.82" y="41.71" width="1.18" height="6.01" fill="#00BFFF"/>
<rect x="236.96" y="41.71" width="2.32" height="6.01" fill="#F47C7C"/>
<rect x="239.26" y="41.71" width="1.18" height="6.01" fill="#1E90FF"/>
<rect x="240.40" y="41.71" width="0.60" height="6.01" fill="#00BFFF"/>
<rect x="240.98" y="41.71" width="2.32" height="6.01" fill="#F47C7C"/>
<rect x="243.27" y="41.71" width="0.60" height="6.01" fill="#1E90FF"/>
<rect x="243.85" y="41.71" width="0.60" height="6.01" fill="#00BFFF"/>
<rect x="244.42" y="41.71" width="0.60" height="6.01" fill="#FFCF50"/>
<rect x="244.99" y="41.71" width="0.60" height="6.01" fill="#F47C7C"/>
<rect x="245.57" y="41.71" width="0.60" height="6.01" fill="#FFCF50"/>
<rect x="246.14" y="41.71" width="4.59" height="6.01" fill="#00BFFF"/>
<rect x="41.40" y="33.60" width="2.32" height="8.14" fill="#1E90FF"/>
<rect x="43.69" y="33.60" width="3.47" height="8.14" fill="#00BFFF"/>
<rect x="47.13" y="33.60" width="0.60" height="8.14" fill="#1E90FF"/>
<rect x="47.71" y="33.60" width="3.47" height="8.14" fill="#00BFFF"/>
<rect x="51.15" y="33.60" width="0.60" height="8.14" fill="#1E90FF"/>
<rect x="51.72" y="33.60" width="3.47" height="8.14" fill="#00BFFF"/>
<rect x="55.16" y="33.60" width="0.60" height="8.14" fill="#1E90FF"/>
<rect x="55.74" y="33.60" width="3.47" height="8.14" fill="#00BFFF"/>
<rect x="59.18" y="33.60" width="0.60" height="8.14" fill="#1E90FF"/>
<rect x="59.75" y="33.60" width="3.47" height="8.14" fill="#00BFFF"/>
<rect x="63.19" y="33.60" width="0.60" height="8.14" fill="#1E90FF"/>
<rect x="63.77" y="33.60" width="3.47" height="8.14" fill="#00BFFF"/>
<rect x="67.21" y="33.60" width="0.60" height="8.14" fill="#1E90FF"/>
<rect x="67.78" y="33.60" width="3.47" height="8.14" fill="#00BFFF"/>
<rect x="71.22" y="33.60" width="0.60" height="8.14" fill="#1E90FF"/>
<rect x="71.80" y="33.60" width="3.47" height="8.14" fill="#00BFFF"/>
<rect x="75.24" y="33.60" width="0.60" height="8.14" fill="#1E90FF"/>
<rect x="75.81" y="33.60" width="3.47" height="8.14" fill="#00BFFF"/>
<rect x="79.25" y="33.60" width="0.60" height="8.14" fill="#1E90FF"/>
<rect x="79.82" y="33.60" width="3.47" height="8.14" fill="#00BFFF"/>
<rect x="83.27" y="33.60" width="0.60" height="8.14" fill="#1E90FF"/>
<rect x="83.84" y="33.60" width="3.47" height="8.14" fill="#00BFFF"/>
<rect x="87.28" y="33.60" width="0.60" height="8.14" fill="#1E90FF"/>
<rect x="87.85" y="33.60" width="3.47" height="8.14" fill="#00BFFF"/>
<rect x="91.29" y="33.60" width="0.60" height="8.14" fill="#1E90FF"/>
<rect x="91.87" y="33.60" width="3.47" height="8.14" fill="#00BFFF"/>
<rect x="95.31" y="33.60" width="0.60" height="8.14" fill="#1E90FF"/>
<rect x="95.88" y="33.60" width="3.47" height="8.14" fill="#00BFFF"/>
<rect x="99.32" y="33.60" width="0.60" height="8.14" fill="#1E90FF"/>
<rect x="99.90" y="33.60" width="3.47" height="8.14" fill="#00BFFF"/>
<rect x="103.34" y="33.60" width="0.60" height="8.14" fill="#1E90FF"/>
<rect x="103.91" y="33.60" width="3.47" height="8.14" fill="#00BFFF"/>
<rect x="107.35" y="33.60" width="0.60" height="8.14" fill="#1E90FF"/>
<rect x="107.93" y="33.60" width="3.47" height="8.14" fill="#00BFFF"/>
<rect x="111.37" y="33.60" width="0.60" height="8.14" fill="#1E90FF"/>
<rect x="111.94" y="33.60" width="3.47" height="8.14" fill="#00BFFF"/>
<rect x="115.38" y="33.60" width="0.60" height="8.14" fill="#1E90FF"/>
<rect x="115.96" y="33.60" width="3.47" height="8.14" fill="#00BFFF"/>
<rect x="119.40" y="33.60" width="0.60" height="8.14" fill="#1E90FF"/>
<rect x="119.97" y="33.60" width="3.47" height="8.14" fill="#00BFFF"/>
<rect x="123.41" y="33.60" width="0.60" height="8.14" fill="#1E90FF"/>
<rect x="123.98" y="33.60" width="3.47" height="8.14" fill="#00BFFF"/>
<rect x="127.43" y="33.60" width="0.60" height="8.14" fill="#1E90FF"/>
<rect x="128.00" y="33.60" width="1.75" height="8.14" fill="#00BFFF"/>
<rect x="129.72" y="33.60" width="0.60" height="8.14" fill="#6CCB3F"/>
<rect x="130.29" y="33.60" width="1.18" height="8.14" fill="#00BFFF"/>
<rect x="131.44" y="33.60" width="0.60" height="8.14" fill="#1E90FF"/>
<rect x="132.01" y="33.60" width="3.47" height="8.14" fill="#00BFFF"/>
<rect x="135.45" y="33.60" width="0.60" height="8.14" fill="#1E90FF"/>
<rect x="136.03" y="33.60" width="3.47" height="8.14" fill="#00BFFF"/>
<rect x="139.47" y="33.60" width="0.60" height="8.14" fill="#1E90FF"/>
<rect x="140.04" y="33.60" width="3.47" height="8.14" fill="#00BFFF"/>
<rect x="143.48" y="33.60" width="0.60" height="8.14" fill="#1E90FF"/>
<rect x="144.06" y="33.60" width="1.18" height="8.14" fill="#00BFFF"/>
<rect x="145.20" y="33.60" width="0.60" height="8.14" fill="#6CCB3F"/>
<rect x="145.78" y="33.60" width="1.75" height="8.14" fill="#00BFFF"/>
<rect x="147.50" y="33.60" width="0.60" height="8.14" fill="#1E90FF"/>
<rect x="148.07" y="33.60" width="0.60" height="8.14" fill="#00BFFF"/>
<rect x="148.64" y="33.60" width="0.60" height="8.14" fill="#FFCF50"/>
<rect x="149.22" y="33.60" width="13.79" height="8.14" fill="#6CCB3F"/>
<rect x="162.98" y="33.60" width="1.18" height="8.14" fill="#1E90FF"/>
<rect x="164.13" y="33.60" width="2.90" height="8.14" fill="#00BFFF"/>
<rect x="167.00" y="33.60" width="1.18" height="8.14" fill="#1E90FF"/>
<rect x="168.14" y="33.60" width="2.90" height="8.14" fill="#00BFFF"/>
<rect x="171.01" y="33.60" width="1.18" height="8.14" fill="#1E90FF"/>
<rect x="172.16" y="33.60" width="2.90" height="8.14" fill="#00BFFF"/>
<rect x="175.03" y="33.60" width="1.18" height="8.14" fill="#1E90FF"/>
<rect x="176.17" y="33.60" width="2.90" height="8.14" fill="#00BFFF"/>
<rect x="179.04" y="33.60" width="1.18" height="8.14" fill="#1E90FF"/>
<rect x="180.19" y="33.60" width="2.90" height="8.14" fill="#00BFFF"/>
<rect x="183.05" y="33.60" width="1.18" height="8.14" fill="#1E90FF"/>
<rect x="184.20" y="33.60" width="2.90" height="8.14" fill="#00BFFF"/>
<rect x="187.07" y="33.60" width="1.18" height="8.14" fill="#1E90FF"/>
<rect x="188.22" y="33.60" width="2.90" height="8.14" fill="#00BFFF"/>
<rect x="191.08" y="33.60" width="1.18" height="8.14" fill="#1E90FF"/>
<rect x="192.23" y="33.60" width="2.90" height="8.14" fill="#00BFFF"/>
<rect x="195.10" y="33.60" width="1.18" height="8.14" fill="#1E90FF"/>
<rect x="196.25" y="33.60" width="2.90" height="8.14" fill="#00BFFF"/>
<rect x="199.11" y="33.60" width="1.18" height="8.14" fill="#1E90FF"/>
<rect x="200.26" y="33.60" width="2.90" height="8.14" fill="#00BFFF"/>
<rect x="203.13" y="33.60" width="1.18" height="8.14" fill="#1E90FF"/>
<rect x="204.27" y="33.60" width="2.90" height="8.14" fill="#00BFFF"/>
<rect x="207.14" y="33.60" width="1.18" height="8.14" fill="#1E90FF"/>
<rect x="208.29" y="33.60" width="2.90" height="8.14" fill="#00BFFF"/>
<rect x="211.16" y="33.60" width="1.18" height="8.14" fill="#1E90FF"/>
<rect x="212.30" y="33.60" width="2.90" height="8.14" fill="#00BFFF"/>
<rect x="215.17" y="33.60" width="1.18" height="8.14" fill="#1E90FF"/>
<rect x="216.32" y="33.60" width="2.90" height="8.14" fill="#00BFFF"/>
<rect x="219.19" y="33.60" width="1.18" height="8.14" fill="#1E90FF"/>
<rect x="220.33" y="33.60" width="2.90" height="8.14" fill="#00BFFF"/>
<rect x="223.20" y="33.60" width="1.18" height="8.14" fill="#1E90FF"/>
<rect x="224.35" y="33.60" width="2.90" height="8.14" fill="#00BFFF"/>
<rect x="227.21" y="33.60" width="1.18" height="8.14" fill="#1E90FF"/>
<rect x="228.36" y="33.60" width="2.90" height="8.14" fill="#00BFFF"/>
<rect x="231.23" y="33.60" width="1.18" height="8.14" fill="#1E90FF"/>
<rect x="232.38" y="33.60" width="2.90" height="8.14" fill="#00BFFF"/>
<rect x="235.24" y="33.60" width="1.18" height="8.14" fill="#1E90FF"/>
<rect x="236.39" y="33.60" width="2.90" height="8.14" fill="#00BFFF"/>
<rect x="239.26" y="33.60" width="1.18" height="8.14" fill="#1E90FF"/>
<rect x="240.40" y="33.60" width="2.90" height="8.14" fill="#00BFFF"/>
<rect x="243.27" y="33.60" width="7.46" height="8.14" fill="#1E90FF"/>
<text x="39.3" y="37.51" font-size="7.1" fill="#555555" text-anchor="end" stroke="#555555">23:00</text>
<rect x="39.6" y="35.06" width="1.6" height="0.5" fill="#999"/>
<text x="39.3" y="44.40" font-size="7.1" fill="#555555" text-anchor="end" stroke="#555555">19:00</text>
<rect x="39.6" y="41.89" width="1.6" height="0.5" fill="#999"/>
<text x="39.3" y="51.30" font-size="7.1" fill="#555555" text-anchor="end" stroke="#555555">15:00</text>
<rect x="39.6" y="48.73" width="1.6" height="0.5" fill="#999"/>
<text x="39.3" y="58.19" font-size="7.1" fill="#555555" text-anchor="end" stroke="#555555">11:00</text>
<rect x="39.6" y="55.56" width="1.6" height="0.5" fill="#999"/>
<text x="39.3" y="65.08" font-size="7.1" fill="#555555" text-anchor="end" stroke="#555555">07:00</text>
<rect x="39.6" y="62.39" width="1.6" height="0.5" fill="#999"/>
<text x="39.3" y="71.97" font-size="7.1" fill="#555555" text-anchor="end" stroke="#555555">03:00</text>
<rect x="39.6" y="69.22" width="1.6" height="0.5" fill="#999"/>
<text x="41.69" y="84.80" font-size="7" fill="#555555" text-anchor="middle" stroke="#555555">Jan</text>
<rect x="41.44" y="74.60" width="0.5" height="1.6" fill="#999"/>
<text x="59.47" y="84.80" font-size="7" fill="#555555" text-anchor="middle" stroke="#555555">Feb</text>
<rect x="59.22" y="74.60" width="0.5" height="1.6" fill="#999"/>
<text x="75.52" y="84.80" font-size="7" fill="#555555" text-anchor="middle" stroke="#555555">Mar</text>
<rect x="75.27" y="74.60" width="0.5" height="1.6" fill="#999"/>
<text x="93.30" y="84.80" font-size="7" fill="#555555" text-anchor="middle" stroke="#555555">Apr</text>
<rect x="93.05" y="74.60" width="0.5" height="1.6" fill="#999"/>
<text x="110.51" y="84.80" font-size="7" fill="#555555" text-anchor="middle" stroke="#555555">May</text>
<rect x="110.26" y="74.60" width="0.5" height="1.6" fill="#999"/>
<text x="128.29" y="84.80" font-size="7" fill="#555555" text-anchor="middle" stroke="#555555">Jun</text>
<rect x="128.04" y="74.60" width="0.5" height="1.6" fill="#999"/>
<text x="145.49" y="84.80" font-size="7" fill="#555555" text-anchor="middle" stroke="#555555">Jul</text>
<rect x="145.24" y="74.60" width="0.5" height="1.6" fill="#999"/>
<text x="163.27" y="84.80" font-size="7" fill="#555555" text-anchor="middle" stroke="#555555">Aug</text>
<rect x="163.02" y="74.60" width="0.5" height="1.6" fill="#999"/>
<text x="181.05" y="84.80" font-size="7" fill="#555555" text-anchor="middle" stroke="#555555">Sep</text>
<rect x="180.80" y="74.60" width="0.5" height="1.6" fill="#999"/>
<text x="198.25" y="84.80" font-size="7" fill="#555555" text-anchor="middle" stroke="#555555">Oct</text>
<rect x="198.00" y="74.60" width="0.5" height="1.6" fill="#999"/>
<text x="216.03" y="84.80" font-size="7" fill="#555555" text-anchor="middle" stroke="#555555">Nov</text>
<rect x="215.78" y="74.60" width="0.5" height="1.6" fill="#999"/>
<text x="233.24" y="84.80" font-size="7" fill="#555555" text-anchor="middle" stroke="#555555">Dec</text>
<rect x="232.99" y="74.60" width="0.5" height="1.6" fill="#999"/>
<rect x="41.4" y="88.80" width="209.30" height="9.9" fill="#D9D9D9"/>
<text x="146.05" y="96.40" font-size="7.2" fill="#1a1a1a" text-anchor="middle" stroke="#1a1a1a">2016</text>
<rect x="41.40" y="129.10" width="1.18" height="11.13" fill="#00BFFF"/>
<rect x="42.55" y="129.10" width="0.60" height="11.13" fill="#1E90FF"/>
<rect x="43.12" y="129.10" width="0.60" height="11.13" fill="#00BFFF"/>
<rect x="43.69" y="129.10" width="0.60" height="11.13" fill="#1E90FF"/>
<rect x="44.27" y="129.10" width="0.60" height="11.13" fill="#00BFFF"/>
<rect x="44.84" y="129.10" width="0.60" height="11.13" fill="#1E90FF"/>
<rect x="45.41" y="129.10" width="0.60" height="11.13" fill="#00BFFF"/>
<rect x="45.99" y="129.10" width="0.60" height="11.13" fill="#1E90FF"/>
<rect x="46.56" y="129.10" width="1.18" height="11.13" fill="#00BFFF"/>
<rect x="47.71" y="129.10" width="0.60" height="11.13" fill="#1E90FF"/>
<rect x="48.28" y="129.10" width="1.18" height="11.13" fill="#00BFFF"/>
<rect x="49.43" y="129.10" width="0.60" height="11.13" fill="#1E90FF"/>
<rect x="50.00" y="129.10" width="0.60" height="11.13" fill="#00BFFF"/>
<rect x="50.58" y="129.10" width="2.32" height="11.13" fill="#1E90FF"/>
<rect x="52.87" y="129.10" width="1.75" height="11.13" fill="#00BFFF"/>
<rect x="54.59" y="129.10" width="0.60" height="11.13" fill="#1E90FF"/>
<rect x="55.16" y="129.10" width="3.47" height="11.13" fill="#00BFFF"/>
<rect x="58.61" y="129.10" width="0.60" height="11.13" fill="#1E90FF"/>
<rect x="59.18" y="129.10" width="23.54" height="11.13" fill="#00BFFF"/>
<rect x="82.69" y="129.10" width="0.60" height="11.13" fill="#1E90FF"/>
<rect x="83.27" y="129.10" width="7.49" height="11.13" fill="#00BFFF"/>
<rect x="90.72" y="129.10" width="0.60" height="11.13" fill="#1E90FF"/>
<rect x="91.29" y="129.10" width="3.47" height="11.13" fill="#00BFFF"/>
<rect x="94.74" y="129.10" width="0.60" height="11.13" fill="#1E90FF"/>
<rect x="95.31" y="129.10" width="3.47" height="11.13" fill="#00BFFF"/>
<rect x="98.75" y="129.10" width="5.76" height="11.13" fill="#1E90FF"/>
<rect x="104.48" y="129.10" width="2.32" height="11.13" fill="#00BFFF"/>
<rect x="106.78" y="129.10" width="0.60" height="11.13" fill="#1E90FF"/>
<rect x="107.35" y="129.10" width="7.49" height="11.13" fill="#00BFFF"/>
<rect x="114.81" y="129.10" width="0.60" height="11.13" fill="#1E90FF"/>
<rect x="115.38" y="129.10" width="11.50" height="11.13" fill="#00BFFF"/>
<rect x="126.85" y="129.10" width="0.60" height="11.13" fill="#1E90FF"/>
<rect x="127.43" y="129.10" width="11.50" height="11.13" fill="#00BFFF"/>
<rect x="138.90" y="129.10" width="0.60" height="11.13" fill="#1E90FF"/>
<rect x="139.47" y="129.10" width="3.47" height="11.13" fill="#00BFFF"/>
<rect x="142.91" y="129.10" width="0.60" height="11.13" fill="#1E90FF"/>
<rect x="143.48" y="129.10" width="3.47" height="11.13" fill="#00BFFF"/>
<rect x="146.92" y="129.10" width="0.60" height="11.13" fill="#1E90FF"/>
<rect x="147.50" y="129.10" width="4.04" height="11.13" fill="#00BFFF"/>
<rect x="151.51" y="129.10" width="0.60" height="11.13" fill="#FFCF50"/>
<rect x="152.09" y="129.10" width="4.62" height="11.13" fill="#00BFFF"/>
<rect x="156.67" y="129.10" width="0.60" height="11.13" fill="#6CCB3F"/>
<rect x="157.25" y="129.10" width="1.75" height="11.13" fill="#00BFFF"/>
<rect x="158.97" y="129.10" width="0.60" height="11.13" fill="#1E90FF"/>
<rect x="159.54" y="129.10" width="8.06" height="11.13" fill="#00BFFF"/>
<rect x="167.57" y="129.10" width="31.57" height="11.13" fill="#1E90FF"/>
<rect x="199.11" y="129.10" width="0.60" height="11.13" fill="#00BFFF"/>
<rect x="199.69" y="129.10" width="7.49" height="11.13" fill="#1E90FF"/>
<rect x="207.14" y="129.10" width="0.60" height="11.13" fill="#00BFFF"/>
<rect x="207.72" y="129.10" width="15.51" height="11.13" fill="#1E90FF"/>
<rect x="223.20" y="129.10" width="0.60" height="11.13" fill="#00BFFF"/>
<rect x="223.77" y="129.10" width="3.47" height="11.13" fill="#1E90FF"/>
<rect x="227.21" y="129.10" width="0.60" height="11.13" fill="#00BFFF"/>
<rect x="227.79" y="129.10" width="3.47" height="11.13" fill="#1E90FF"/>
<rect x="231.23" y="129.10" width="0.60" height="11.13" fill="#00BFFF"/>
<rect x="231.80" y="129.10" width="7.49" height="11.13" fill="#1E90FF"/>
<rect x="239.26" y="129.10" width="0.60" height="11.13" fill="#00BFFF"/>
<rect x="239.83" y="129.10" width="10.90" height="11.13" fill="#1E90FF"/>
<rect x="41.40" y="124.83" width="0.60" height="4.30" fill="#6CCB3F"/>
<rect x="41.97" y="124.83" width="0.60" height="4.30" fill="#00BFFF"/>
<rect x="42.55" y="124.83" width="0.60" height="4.30" fill="#1E90FF"/>
<rect x="43.12" y="124.83" width="2.90" height="4.30" fill="#FFCF50"/>
<rect x="45.99" y="124.83" width="0.60" height="4.30" fill="#00BFFF"/>
<rect x="46.56" y="124.83" width="0.60" height="4.30" fill="#6CCB3F"/>
<rect x="47.13" y="124.83" width="0.60" height="4.30" fill="#FFCF50"/>
<rect x="47.71" y="124.83" width="1.18" height="4.30" fill="#F47C7C"/>
<rect x="48.86" y="124.83" width="1.18" height="4.30" fill="#FFCF50"/>
<rect x="50.00" y="124.83" width="0.60" height="4.30" fill="#00BFFF"/>
<rect x="50.58" y="124.83" width="0.60" height="4.30" fill="#1E90FF"/>
<rect x="51.15" y="124.83" width="2.90" height="4.30" fill="#FFCF50"/>
<rect x="54.02" y="124.83" width="0.60" height="4.30" fill="#00BFFF"/>
<rect x="54.59" y="124.83" width="0.60" height="4.30" fill="#1E90FF"/>
<rect x="55.16" y="124.83" width="2.90" height="4.30" fill="#FFCF50"/>
<rect x="58.03" y="124.83" width="0.60" height="4.30" fill="#00BFFF"/>
<rect x="58.61" y="124.83" width="0.60" height="4.30" fill="#1E90FF"/>
<rect x="59.18" y="124.83" width="0.60" height="4.30" fill="#FFCF50"/>
<rect x="59.75" y="124.83" width="0.60" height="4.30" fill="#F47C7C"/>
<rect x="60.33" y="124.83" width="1.75" height="4.30" fill="#FFCF50"/>
<rect x="62.05" y="124.83" width="1.18" height="4.30" fill="#1E90FF"/>
<rect x="63.19" y="124.83" width="2.90" height="4.30" fill="#FFCF50"/>
<rect x="66.06" y="124.83" width="0.60" height="4.30" fill="#6CCB3F"/>
<rect x="66.63" y="124.83" width="0.60" height="4.30" fill="#00BFFF"/>
<rect x="67.21" y="124.83" width="2.90" height="4.30" fill="#FFCF50"/>
<rect x="70.08" y="124.83" width="0.60" height="4.30" fill="#1E90FF"/>
<rect x="70.65" y="124.83" width="0.60" height="4.30" fill="#00BFFF"/>
<rect x="71.22" y="124.83" width="2.90" height="4.30" fill="#FFCF50"/>
<rect x="74.09" y="124.83" width="1.18" height="4.30" fill="#00BFFF"/>
<rect x="75.24" y="124.83" width="0.60" height="4.30" fill="#F47C7C"/>
<rect x="75.81" y="124.83" width="2.32" height="4.30" fill="#FFCF50"/>
<rect x="78.10" y="124.83" width="0.60" height="4.30" fill="#1E90FF"/>
<rect x="78.68" y="124.83" width="0.60" height="4.30" fill="#00BFFF"/>
<rect x="79.25" y="124.83" width="0.60" height="4.30" fill="#F47C7C"/>
<rect x="79.82" y="124.83" width="2.32" height="4.30" fill="#FFCF50"/>
<rect x="82.12" y="124.83" width="0.60" height="4.30" fill="#1E90FF"/>
<rect x="82.69" y="124.83" width="0.60" height="4.30" fill="#00BFFF"/>
<rect x="83.27" y="124.83" width="2.90" height="4.30" fill="#FFCF50"/>
<rect x="86.13" y="124.83" width="0.60" height="4.30" fill="#6CCB3F"/>
<rect x="86.71" y="124.83" width="0.60" height="4.30" fill="#00BFFF"/>
<rect x="87.28" y="124.83" width="2.32" height="4.30" fill="#FFCF50"/>
<rect x="89.57" y="124.83" width="2.32" height="4.30" fill="#00BFFF"/>
<rect x="91.87" y="124.83" width="2.32" height="4.30" fill="#FFCF50"/>
<rect x="94.16" y="124.83" width="1.18" height="4.30" fill="#00BFFF"/>
<rect x="95.31" y="124.83" width="0.60" height="4.30" fill="#6CCB3F"/>
<rect x="95.88" y="124.83" width="2.32" height="4.30" fill="#FFCF50"/>
<rect x="98.18" y="124.83" width="0.60" height="4.30" fill="#6CCB3F"/>
<rect x="98.75" y="124.83" width="0.60" height="4.30" fill="#00BFFF"/>
<rect x="99.32" y="124.83" width="2.90" height="4.30" fill="#FFCF50"/>
<rect x="102.19" y="124.83" width="1.18" height="4.30" fill="#00BFFF"/>
<rect x="103.34" y="124.83" width="0.60" height="4.30" fill="#6CCB3F"/>
<rect x="103.91" y="124.83" width="1.18" height="4.30" fill="#FFCF50"/>
<rect x="105.06" y="124.83" width="0.60" height="4.30" fill="#6CCB3F"/>
<rect x="105.63" y="124.83" width="0.60" height="4.30" fill="#FFCF50"/>
<rect x="106.21" y="124.83" width="0.60" height="4.30" fill="#00BFFF"/>
<rect x="106.78" y="124.83" width="0.60" height="4.30" fill="#6CCB3F"/>
<rect x="107.35" y="124.83" width="0.60" height="4.30" fill="#FFCF50"/>
<rect x="107.93" y="124.83" width="0.60" height="4.30" fill="#6CCB3F"/>
<rect x="108.50" y="124.83" width="0.60" height="4.30" fill="#FFCF50"/>
<rect x="109.07" y="124.83" width="0.60" height="4.30" fill="#6CCB3F"/>
<rect x="109.65" y="124.83" width="0.60" height="4.30" fill="#FFCF50"/>
<rect x="110.22" y="124.83" width="1.18" height="4.30" fill="#6CCB3F"/>
<rect x="111.37" y="124.83" width="1.18" height="4.30" fill="#FFCF50"/>
<rect x="112.51" y="124.83" width="0.60" height="4.30" fill="#6CCB3F"/>
<rect x="113.09" y="124.83" width="1.18" height="4.30" fill="#FFCF50"/>
<rect x="114.23" y="124.83" width="0.60" height="4.30" fill="#00BFFF"/>
<rect x="114.81" y="124.83" width="0.60" height="4.30" fill="#1E90FF"/>
<rect x="115.38" y="124.83" width="1.18" height="4.30" fill="#FFCF50"/>
<rect x="116.53" y="124.83" width="0.60" height="4.30" fill="#6CCB3F"/>
<rect x="117.10" y="124.83" width="1.18" height="4.30" fill="#FFCF50"/>
<rect x="118.25" y="124.83" width="0.60" height="4.30" fill="#1E90FF"/>
<rect x="118.82" y="124.83" width="0.60" height="4.30" fill="#00BFFF"/>
<rect x="119.40" y="124.83" width="2.90" height="4.30" fill="#FFCF50"/>
<rect x="122.26" y="124.83" width="0.60" height="4.30" fill="#1E90FF"/>
<rect x="122.84" y="124.83" width="0.60" height="4.30" fill="#00BFFF"/>
<rect x="123.41" y="124.83" width="2.90" height="4.30" fill="#FFCF50"/>
<rect x="126.28" y="124.83" width="0.60" height="4.30" fill="#6CCB3F"/>
<rect x="126.85" y="124.83" width="0.60" height="4.30" fill="#00BFFF"/>
<rect x="127.43" y="124.83" width="0.60" height="4.30" fill="#F47C7C"/>
<rect x="128.00" y="124.83" width="2.32" height="4.30" fill="#FFCF50"/>
<rect x="130.29" y="124.83" width="1.18" height="4.30" fill="#00BFFF"/>
<rect x="131.44" y="124.83" width="2.90" height="4.30" fill="#FFCF50"/>
<rect x="134.31" y="124.83" width="0.60" height="4.30" fill="#1E90FF"/>
<rect x="134.88" y="124.83" width="0.60" height="4.30" fill="#6CCB3F"/>
<rect x="135.45" y="124.83" width="2.90" height="4.30" fill="#FFCF50"/>
<rect x="138.32" y="124.83" width="1.18" height="4.30" fill="#1E90FF"/>
<rect x="139.47" y="124.83" width="1.75" height="4.30" fill="#FFCF50"/>
<rect x="141.19" y="124.83" width="0.60" height="4.30" fill="#F47C7C"/>
<rect x="141.76" y="124.83" width="0.60" height="4.30" fill="#FFCF50"/>
<rect x="142.34" y="124.83" width="0.60" height="4.30" fill="#6CCB3F"/>
<rect x="142.91" y="124.83" width="0.60" height="4.30" fill="#00BFFF"/>
<rect x="143.48" y="124.83" width="2.90" height="4.30" fill="#FFCF50"/>
<rect x="146.35" y="124.83" width="0.60" height="4.30" fill="#1E90FF"/>
<rect x="146.92" y="124.83" width="0.60" height="4.30" fill="#00BFFF"/>
<rect x="147.50" y="124.83" width="1.75" height="4.30" fill="#FFCF50"/>
<rect x="149.22" y="124.83" width="0.60" height="4.30" fill="#F47C7C"/>
<rect x="149.79" y="124.83" width="0.60" height="4.30" fill="#FFCF50"/>
<rect x="150.37" y="124.83" width="0.60" height="4.30" fill="#1E90FF"/>
<rect x="150.94" y="124.83" width="0.60" height="4.30" fill="#00BFFF"/>
<rect x="151.51" y="124.83" width="0.60" height="4.30" fill="#F47C7C"/>
<rect x="152.09" y="124.83" width="2.32" height="4.30" fill="#FFCF50"/>
<rect x="154.38" y="124.83" width="0.60" height="4.30" fill="#00BFFF"/>
<rect x="154.95" y="124.83" width="0.60" height="4.30" fill="#1E90FF"/>
<rect x="155.53" y="124.83" width="2.90" height="4.30" fill="#F47C7C"/>
<rect x="158.39" y="124.83" width="0.60" height="4.30" fill="#6CCB3F"/>
<rect x="158.97" y="124.83" width="0.60" height="4.30" fill="#00BFFF"/>
<rect x="159.54" y="124.83" width="0.60" height="4.30" fill="#FFCF50"/>
<rect x="160.11" y="124.83" width="1.18" height="4.30" fill="#F47C7C"/>
<rect x="161.26" y="124.83" width="1.18" height="4.30" fill="#FFCF50"/>
<rect x="162.41" y="124.83" width="0.60" height="4.30" fill="#00BFFF"/>
<rect x="162.98" y="124.83" width="0.60" height="4.30" fill="#6CCB3F"/>
<rect x="163.56" y="124.83" width="2.90" height="4.30" fill="#FFCF50"/>
<rect x="166.42" y="124.83" width="1.18" height="4.30" fill="#00BFFF"/>
<rect x="167.57" y="124.83" width="2.90" height="4.30" fill="#6CCB3F"/>
<rect x="170.44" y="124.83" width="1.18" height="4.30" fill="#00BFFF"/>
<rect x="171.58" y="124.83" width="2.90" height="4.30" fill="#6CCB3F"/>
<rect x="174.45" y="124.83" width="1.18" height="4.30" fill="#00BFFF"/>
<rect x="175.60" y="124.83" width="2.90" height="4.30" fill="#6CCB3F"/>
<rect x="178.47" y="124.83" width="1.18" height="4.30" fill="#00BFFF"/>
<rect x="179.61" y="124.83" width="2.90" height="4.30" fill="#FFCF50"/>
<rect x="182.48" y="124.83" width="1.18" height="4.30" fill="#1E90FF"/>
<rect x="183.63" y="124.83" width="1.18" height="4.30" fill="#F47C7C"/>
<rect x="184.78" y="124.83" width="1.75" height="4.30" fill="#FFCF50"/>
<rect x="186.50" y="124.83" width="1.18" height="4.30" fill="#00BFFF"/>
<rect x="187.64" y="124.83" width="2.90" height="4.30" fill="#FFCF50"/>
<rect x="190.51" y="124.83" width="0.60" height="4.30" fill="#6CCB3F"/>
<rect x="191.08" y="124.83" width="0.60" height="4.30" fill="#00BFFF"/>
<rect x="191.66" y="124.83" width="1.75" height="4.30" fill="#FFCF50"/>
<rect x="193.38" y="124.83" width="0.60" height="4.30" fill="#F47C7C"/>
<rect x="193.95" y="124.83" width="0.60" height="4.30" fill="#FFCF50"/>
<rect x="194.52" y="124.83" width="0.60" height="4.30" fill="#00BFFF"/>
<rect x="195.10" y="124.83" width="0.60" height="4.30" fill="#6CCB3F"/>
<rect x="195.67" y="124.83" width="2.90" height="4.30" fill="#FFCF50"/>
<rect x="198.54" y="124.83" width="0.60" height="4.30" fill="#00BFFF"/>
<rect x="199.11" y="124.83" width="0.60" height="4.30" fill="#6CCB3F"/>
<rect x="199.69" y="124.83" width="1.18" height="4.30" fill="#FFCF50"/>
<rect x="200.83" y="124.83" width="0.60" height="4.30" fill="#F47C7C"/>
<rect x="201.41" y="124.83" width="0.60" height="4.30" fill="#FFCF50"/>
<rect x="201.98" y="124.83" width="0.60" height="4.30" fill="#F47C7C"/>
<rect x="202.55" y="124.83" width="0.60" height="4.30" fill="#1E90FF"/>
<rect x="203.13" y="124.83" width="0.60" height="4.30" fill="#00BFFF"/>
<rect x="203.70" y="124.83" width="2.90" height="4.30" fill="#FFCF50"/>
<rect x="206.57" y="124.83" width="0.60" height="4.30" fill="#6CCB3F"/>
<rect x="207.14" y="124.83" width="0.60" height="4.30" fill="#00BFFF"/>
<rect x="207.72" y="124.83" width="2.90" height="4.30" fill="#FFCF50"/>
<rect x="210.58" y="124.83" width="0.60" height="4.30" fill="#1E90FF"/>
<rect x="211.16" y="124.83" width="0.60" height="4.30" fill="#00BFFF"/>
<rect x="211.73" y="124.83" width="2.90" height="4.30" fill="#FFCF50"/>
<rect x="214.60" y="124.83" width="1.18" height="4.30" fill="#1E90FF"/>
<rect x="215.74" y="124.83" width="2.32" height="4.30" fill="#FFCF50"/>
<rect x="218.04" y="124.83" width="0.60" height="4.30" fill="#F47C7C"/>
<rect x="218.61" y="124.83" width="0.60" height="4.30" fill="#00BFFF"/>
<rect x="219.19" y="124.83" width="0.60" height="4.30" fill="#1E90FF"/>
<rect x="219.76" y="124.83" width="2.90" height="4.30" fill="#FFCF50"/>
<rect x="222.63" y="124.83" width="0.60" height="4.30" fill="#00BFFF"/>
<rect x="223.20" y="124.83" width="0.60" height="4.30" fill="#6CCB3F"/>
<rect x="223.77" y="124.83" width="2.90" height="4.30" fill="#FFCF50"/>
<rect x="226.64" y="124.83" width="1.18" height="4.30" fill="#00BFFF"/>
<rect x="227.79" y="124.83" width="2.32" height="4.30" fill="#FFCF50"/>
<rect x="230.08" y="124.83" width="0.60" height="4.30" fill="#F47C7C"/>
<rect x="230.66" y="124.83" width="1.18" height="4.30" fill="#6CCB3F"/>
<rect x="231.80" y="124.83" width="2.90" height="4.30" fill="#FFCF50"/>
<rect x="234.67" y="124.83" width="0.60" height="4.30" fill="#1E90FF"/>
<rect x="235.24" y="124.83" width="0.60" height="4.30" fill="#00BFFF"/>
<rect x="235.82" y="124.83" width="0.60" height="4.30" fill="#FFCF50"/>
<rect x="236.39" y="124.83" width="0.60" height="4.30" fill="#F47C7C"/>
<rect x="236.96" y="124.83" width="1.18" height="4.30" fill="#FFCF50"/>
<rect x="238.11" y="124.83" width="0.60" height="4.30" fill="#F47C7C"/>
<rect x="238.68" y="124.83" width="1.18" height="4.30" fill="#00BFFF"/>
<rect x="239.83" y="124.83" width="2.90" height="4.30" fill="#FFCF50"/>
<rect x="242.70" y="124.83" width="0.60" height="4.30" fill="#6CCB3F"/>
<rect x="243.27" y="124.83" width="0.60" height="4.30" fill="#00BFFF"/>
<rect x="243.85" y="124.83" width="2.32" height="4.30" fill="#FFCF50"/>
<rect x="246.14" y="124.83" width="2.90" height="4.30" fill="#1E90FF"/>
<rect x="249.01" y="124.83" width="1.18" height="4.30" fill="#00BFFF"/>
<rect x="250.15" y="124.83" width="0.58" height="4.30" fill="#1E90FF"/>
<rect x="41.40" y="113.29" width="0.60" height="11.56" fill="#6CCB3F"/>
<rect x="41.97" y="113.29" width="0.60" height="11.56" fill="#00BFFF"/>
<rect x="42.55" y="113.29" width="0.60" height="11.56" fill="#6CCB3F"/>
<rect x="43.12" y="113.29" width="2.90" height="11.56" fill="#A80C0C"/>
<rect x="45.99" y="113.29" width="1.18" height="11.56" fill="#00BFFF"/>
<rect x="47.13" y="113.29" width="2.90" height="11.56" fill="#A80C0C"/>
<rect x="50.00" y="113.29" width="0.60" height="11.56" fill="#1E90FF"/>
<rect x="50.58" y="113.29" width="0.60" height="11.56" fill="#00BFFF"/>
<rect x="51.15" y="113.29" width="2.90" height="11.56" fill="#A80C0C"/>
<rect x="54.02" y="113.29" width="0.60" height="11.56" fill="#1E90FF"/>
<rect x="54.59" y="113.29" width="0.60" height="11.56" fill="#00BFFF"/>
<rect x="55.16" y="113.29" width="3.47" height="11.56" fill="#F47C7C"/>
<rect x="58.61" y="113.29" width="0.60" height="11.56" fill="#00BFFF"/>
<rect x="59.18" y="113.29" width="2.90" height="11.56" fill="#F47C7C"/>
<rect x="62.05" y="113.29" width="0.60" height="11.56" fill="#00BFFF"/>
<rect x="62.62" y="113.29" width="0.60" height="11.56" fill="#6CCB3F"/>
<rect x="63.19" y="113.29" width="2.90" height="11.56" fill="#F47C7C"/>
<rect x="66.06" y="113.29" width="0.60" height="11.56" fill="#1E90FF"/>
<rect x="66.63" y="113.29" width="0.60" height="11.56" fill="#F47C7C"/>
<rect x="67.21" y="113.29" width="2.90" height="11.56" fill="#A80C0C"/>
<rect x="70.08" y="113.29" width="0.60" height="11.56" fill="#1E90FF"/>
<rect x="70.65" y="113.29" width="0.60" height="11.56" fill="#00BFFF"/>
<rect x="71.22" y="113.29" width="2.90" height="11.56" fill="#F47C7C"/>
<rect x="74.09" y="113.29" width="0.60" height="11.56" fill="#00BFFF"/>
<rect x="74.66" y="113.29" width="0.60" height="11.56" fill="#6CCB3F"/>
<rect x="75.24" y="113.29" width="2.90" height="11.56" fill="#A80C0C"/>
<rect x="78.10" y="113.29" width="0.60" height="11.56" fill="#F47C7C"/>
<rect x="78.68" y="113.29" width="0.60" height="11.56" fill="#1E90FF"/>
<rect x="79.25" y="113.29" width="2.90" height="11.56" fill="#A80C0C"/>
<rect x="82.12" y="113.29" width="0.60" height="11.56" fill="#00BFFF"/>
<rect x="82.69" y="113.29" width="0.60" height="11.56" fill="#1E90FF"/>
<rect x="83.27" y="113.29" width="2.32" height="11.56" fill="#A80C0C"/>
<rect x="85.56" y="113.29" width="0.60" height="11.56" fill="#F47C7C"/>
<rect x="86.13" y="113.29" width="0.60" height="11.56" fill="#00BFFF"/>
<rect x="86.71" y="113.29" width="0.60" height="11.56" fill="#1E90FF"/>
<rect x="87.28" y="113.29" width="2.32" height="11.56" fill="#A80C0C"/>
<rect x="89.57" y="113.29" width="2.32" height="11.56" fill="#00BFFF"/>
<rect x="91.87" y="113.29" width="1.75" height="11.56" fill="#A80C0C"/>
<rect x="93.59" y="113.29" width="0.60" height="11.56" fill="#F47C7C"/>
<rect x="94.16" y="113.29" width="0.60" height="11.56" fill="#1E90FF"/>
<rect x="94.74" y="113.29" width="0.60" height="11.56" fill="#6CCB3F"/>
<rect x="95.31" y="113.29" width="2.90" height="11.56" fill="#A80C0C"/>
<rect x="98.18" y="113.29" width="0.60" height="11.56" fill="#1E90FF"/>
<rect x="98.75" y="113.29" width="3.47" height="11.56" fill="#F47C7C"/>
<rect x="102.19" y="113.29" width="0.60" height="11.56" fill="#00BFFF"/>
<rect x="102.76" y="113.29" width="0.60" height="11.56" fill="#1E90FF"/>
<rect x="103.34" y="113.29" width="2.90" height="11.56" fill="#A80C0C"/>
<rect x="106.21" y="113.29" width="1.18" height="11.56" fill="#1E90FF"/>
<rect x="107.35" y="113.29" width="2.90" height="11.56" fill="#F47C7C"/>
<rect x="110.22" y="113.29" width="1.18" height="11.56" fill="#1E90FF"/>
<rect x="111.37" y="113.29" width="2.90" height="11.56" fill="#A80C0C"/>
<rect x="114.23" y="113.29" width="1.18" height="11.56" fill="#1E90FF"/>
<rect x="115.38" y="113.29" width="1.18" height="11.56" fill="#F47C7C"/>
<rect x="116.53" y="113.29" width="1.75" height="11.56" fill="#A80C0C"/>
<rect x="118.25" y="113.29" width="1.18" height="11.56" fill="#1E90FF"/>
<rect x="119.40" y="113.29" width="2.90" height="11.56" fill="#A80C0C"/>
<rect x="122.26" y="113.29" width="1.18" height="11.56" fill="#00BFFF"/>
<rect x="123.41" y="113.29" width="2.32" height="11.56" fill="#A80C0C"/>
<rect x="125.70" y="113.29" width="0.60" height="11.56" fill="#F47C7C"/>
<rect x="126.28" y="113.29" width="0.60" height="11.56" fill="#6CCB3F"/>
<rect x="126.85" y="113.29" width="0.60" height="11.56" fill="#00BFFF"/>
<rect x="127.43" y="113.29" width="2.90" height="11.56" fill="#A80C0C"/>
<rect x="130.29" y="113.29" width="0.60" height="11.56" fill="#6CCB3F"/>
<rect x="130.87" y="113.29" width="0.60" height="11.56" fill="#00BFFF"/>
<rect x="131.44" y="113.29" width="2.90" height="11.56" fill="#A80C0C"/>
<rect x="134.31" y="113.29" width="1.18" height="11.56" fill="#00BFFF"/>
<rect x="135.45" y="113.29" width="2.90" height="11.56" fill="#A80C0C"/>
<rect x="138.32" y="113.29" width="1.18" height="11.56" fill="#1E90FF"/>
<rect x="139.47" y="113.29" width="2.90" height="11.56" fill="#A80C0C"/>
<rect x="142.34" y="113.29" width="0.60" height="11.56" fill="#00BFFF"/>
<rect x="142.91" y="113.29" width="0.60" height="11.56" fill="#1E90FF"/>
<rect x="143.48" y="113.29" width="2.90" height="11.56" fill="#A80C0C"/>
<rect x="146.35" y="113.29" width="0.60" height="11.56" fill="#1E90FF"/>
<rect x="146.92" y="113.29" width="0.60" height="11.56" fill="#F47C7C"/>
<rect x="147.50" y="113.29" width="2.32" height="11.56" fill="#A80C0C"/>
<rect x="149.79" y="113.29" width="0.60" height="11.56" fill="#F47C7C"/>
<rect x="150.37" y="113.29" width="0.60" height="11.56" fill="#00BFFF"/>
<rect x="150.94" y="113.29" width="0.60" height="11.56" fill="#1E90FF"/>
<rect x="151.51" y="113.29" width="2.90" height="11.56" fill="#A80C0C"/>
<rect x="154.38" y="113.29" width="1.18" height="11.56" fill="#00BFFF"/>
<rect x="155.53" y="113.29" width="2.90" height="11.56" fill="#A80C0C"/>
<rect x="158.39" y="113.29" width="0.60" height="11.56" fill="#F47C7C"/>
<rect x="158.97" y="113.29" width="0.60" height="11.56" fill="#1E90FF"/>
<rect x="159.54" y="113.29" width="2.90" height="11.56" fill="#A80C0C"/>
<rect x="162.41" y="113.29" width="0.60" height="11.56" fill="#1E90FF"/>
<rect x="162.98" y="113.29" width="0.60" height="11.56" fill="#00BFFF"/>
<rect x="163.56" y="113.29" width="2.90" height="11.56" fill="#F47C7C"/>
<rect x="166.42" y="113.29" width="1.18" height="11.56" fill="#00BFFF"/>
<rect x="167.57" y="113.29" width="1.18" height="11.56" fill="#FFCF50"/>
<rect x="168.72" y="113.29" width="0.60" height="11.56" fill="#6CCB3F"/>
<rect x="169.29" y="113.29" width="1.18" height="11.56" fill="#FFCF50"/>
<rect x="170.44" y="113.29" width="1.18" height="11.56" fill="#00BFFF"/>
<rect x="171.58" y="113.29" width="2.90" height="11.56" fill="#6CCB3F"/>
<rect x="174.45" y="113.29" width="1.18" height="11.56" fill="#00BFFF"/>
<rect x="175.60" y="113.29" width="1.75" height="11.56" fill="#6CCB3F"/>
<rect x="177.32" y="113.29" width="0.60" height="11.56" fill="#FFCF50"/>
<rect x="177.89" y="113.29" width="0.60" height="11.56" fill="#6CCB3F"/>
<rect x="178.47" y="113.29" width="1.18" height="11.56" fill="#00BFFF"/>
<rect x="179.61" y="113.29" width="2.90" height="11.56" fill="#A80C0C"/>
<rect x="182.48" y="113.29" width="0.60" height="11.56" fill="#F47C7C"/>
<rect x="183.05" y="113.29" width="0.60" height="11.56" fill="#1E90FF"/>
<rect x="183.63" y="113.29" width="2.32" height="11.56" fill="#A80C0C"/>
<rect x="185.92" y="113.29" width="1.18" height="11.56" fill="#F47C7C"/>
<rect x="187.07" y="113.29" width="0.60" height="11.56" fill="#1E90FF"/>
<rect x="187.64" y="113.29" width="2.90" height="11.56" fill="#A80C0C"/>
<rect x="190.51" y="113.29" width="0.60" height="11.56" fill="#1E90FF"/>
<rect x="191.08" y="113.29" width="0.60" height="11.56" fill="#6CCB3F"/>
<rect x="191.66" y="113.29" width="2.90" height="11.56" fill="#A80C0C"/>
<rect x="194.52" y="113.29" width="0.60" height="11.56" fill="#F47C7C"/>
<rect x="195.10" y="113.29" width="0.60" height="11.56" fill="#6CCB3F"/>
<rect x="195.67" y="113.29" width="2.32" height="11.56" fill="#A80C0C"/>
<rect x="197.97" y="113.29" width="1.18" height="11.56" fill="#F47C7C"/>
<rect x="199.11" y="113.29" width="0.60" height="11.56" fill="#00BFFF"/>
<rect x="199.69" y="113.29" width="2.90" height="11.56" fill="#A80C0C"/>
<rect x="202.55" y="113.29" width="0.60" height="11.56" fill="#1E90FF"/>
<rect x="203.13" y="113.29" width="0.60" height="11.56" fill="#6CCB3F"/>
<rect x="203.70" y="113.29" width="2.32" height="11.56" fill="#A80C0C"/>
<rect x="205.99" y="113.29" width="0.60" height="11.56" fill="#F47C7C"/>
<rect x="206.57" y="113.29" width="0.60" height="11.56" fill="#00BFFF"/>
<rect x="207.14" y="113.29" width="0.60" height="11.56" fill="#1E90FF"/>
<rect x="207.72" y="113.29" width="2.90" height="11.56" fill="#A80C0C"/>
<rect x="210.58" y="113.29" width="1.18" height="11.56" fill="#1E90FF"/>
<rect x="211.73" y="113.29" width="2.90" height="11.56" fill="#A80C0C"/>
<rect x="214.60" y="113.29" width="1.18" height="11.56" fill="#F47C7C"/>
<rect x="215.74" y="113.29" width="2.90" height="11.56" fill="#A80C0C"/>
<rect x="218.61" y="113.29" width="0.60" height="11.56" fill="#00BFFF"/>
<rect x="219.19" y="113.29" width="0.60" height="11.56" fill="#1E90FF"/>
<rect x="219.76" y="113.29" width="2.32" height="11.56" fill="#A80C0C"/>
<rect x="222.05" y="113.29" width="0.60" height="11.56" fill="#F47C7C"/>
<rect x="222.63" y="113.29" width="0.60" height="11.56" fill="#00BFFF"/>
<rect x="223.20" y="113.29" width="0.60" height="11.56" fill="#F47C7C"/>
<rect x="223.77" y="113.29" width="2.90" height="11.56" fill="#A80C0C"/>
<rect x="226.64" y="113.29" width="0.60" height="11.56" fill="#00BFFF"/>
<rect x="227.21" y="113.29" width="0.60" height="11.56" fill="#1E90FF"/>
<rect x="227.79" y="113.29" width="2.90" height="11.56" fill="#A80C0C"/>
<rect x="230.66" y="113.29" width="0.60" height="11.56" fill="#1E90FF"/>
<rect x="231.23" y="113.29" width="0.60" height="11.56" fill="#00BFFF"/>
<rect x="231.80" y="113.29" width="2.90" height="11.56" fill="#A80C0C"/>
<rect x="234.67" y="113.29" width="1.18" height="11.56" fill="#1E90FF"/>
<rect x="235.82" y="113.29" width="2.90" height="11.56" fill="#A80C0C"/>
<rect x="238.68" y="113.29" width="1.18" height="11.56" fill="#00BFFF"/>
<rect x="239.83" y="113.29" width="2.90" height="11.56" fill="#A80C0C"/>
<rect x="242.70" y="113.29" width="0.60" height="11.56" fill="#00BFFF"/>
<rect x="243.27" y="113.29" width="0.60" height="11.56" fill="#F47C7C"/>
<rect x="243.85" y="113.29" width="2.32" height="11.56" fill="#A80C0C"/>
<rect x="246.14" y="113.29" width="2.90" height="11.56" fill="#1E90FF"/>
<rect x="249.01" y="113.29" width="1.18" height="11.56" fill="#00BFFF"/>
<rect x="250.15" y="113.29" width="0.58" height="11.56" fill="#1E90FF"/>
<rect x="41.40" y="107.31" width="0.60" height="6.01" fill="#6CCB3F"/>
<rect x="41.97" y="107.31" width="1.18" height="6.01" fill="#1E90FF"/>
<rect x="43.12" y="107.31" width="2.90" height="6.01" fill="#FFCF50"/>
<rect x="45.99" y="107.31" width="1.18" height="6.01" fill="#1E90FF"/>
<rect x="47.13" y="107.31" width="2.90" height="6.01" fill="#FFCF50"/>
<rect x="50.00" y="107.31" width="1.18" height="6.01" fill="#1E90FF"/>
<rect x="51.15" y="107.31" width="2.90" height="6.01" fill="#FFCF50"/>
<rect x="54.02" y="107.31" width="1.18" height="6.01" fill="#00BFFF"/>
<rect x="55.16" y="107.31" width="2.90" height="6.01" fill="#FFCF50"/>
<rect x="58.03" y="107.31" width="0.60" height="6.01" fill="#6CCB3F"/>
<rect x="58.61" y="107.31" width="0.60" height="6.01" fill="#1E90FF"/>
<rect x="59.18" y="107.31" width="2.90" height="6.01" fill="#FFCF50"/>
<rect x="62.05" y="107.31" width="0.60" height="6.01" fill="#00BFFF"/>
<rect x="62.62" y="107.31" width="0.60" height="6.01" fill="#1E90FF"/>
<rect x="63.19" y="107.31" width="2.90" height="6.01" fill="#F47C7C"/>
<rect x="66.06" y="107.31" width="0.60" height="6.01" fill="#1E90FF"/>
<rect x="66.63" y="107.31" width="0.60" height="6.01" fill="#6CCB3F"/>
<rect x="67.21" y="107.31" width="2.90" height="6.01" fill="#FFCF50"/>
<rect x="70.08" y="107.31" width="1.18" height="6.01" fill="#1E90FF"/>
<rect x="71.22" y="107.31" width="2.90" height="6.01" fill="#FFCF50"/>
<rect x="74.09" y="107.31" width="0.60" height="6.01" fill="#1E90FF"/>
<rect x="74.66" y="107.31" width="0.60" height="6.01" fill="#6CCB3F"/>
<rect x="75.24" y="107.31" width="2.90" height="6.01" fill="#FFCF50"/>
<rect x="78.10" y="107.31" width="0.60" height="6.01" fill="#00BFFF"/>
<rect x="78.68" y="107.31" width="0.60" height="6.01" fill="#1E90FF"/>
<rect x="79.25" y="107.31" width="2.90" height="6.01" fill="#F47C7C"/>
<rect x="82.12" y="107.31" width="0.60" height="6.01" fill="#00BFFF"/>
<rect x="82.69" y="107.31" width="0.60" height="6.01" fill="#1E90FF"/>
<rect x="83.27" y="107.31" width="2.90" height="6.01" fill="#FFCF50"/>
<rect x="86.13" y="107.31" width="1.18" height="6.01" fill="#1E90FF"/>
<rect x="87.28" y="107.31" width="2.32" height="6.01" fill="#FFCF50"/>
<rect x="89.57" y="107.31" width="2.32" height="6.01" fill="#00BFFF"/>
<rect x="91.87" y="107.31" width="2.32" height="6.01" fill="#FFCF50"/>
<rect x="94.16" y="107.31" width="1.18" height="6.01" fill="#1E90FF"/>
<rect x="95.31" y="107.31" width="2.90" height="6.01" fill="#FFCF50"/>
<rect x="98.18" y="107.31" width="1.18" height="6.01" fill="#1E90FF"/>
<rect x="99.32" y="107.31" width="2.90" height="6.01" fill="#FFCF50"/>
<rect x="102.19" y="107.31" width="0.60" height="6.01" fill="#1E90FF"/>
<rect x="102.76" y="107.31" width="0.60" height="6.01" fill="#00BFFF"/>
<rect x="103.34" y="107.31" width="2.90" height="6.01" fill="#FFCF50"/>
<rect x="106.21" y="107.31" width="0.60" height="6.01" fill="#00BFFF"/>
<rect x="106.78" y="107.31" width="0.60" height="6.01" fill="#1E90FF"/>
<rect x="107.35" y="107.31" width="2.90" height="6.01" fill="#FFCF50"/>
<rect x="110.22" y="107.31" width="0.60" height="6.01" fill="#1E90FF"/>
<rect x="110.79" y="107.31" width="0.60" height="6.01" fill="#00BFFF"/>
<rect x="111.37" y="107.31" width="2.90" height="6.01" fill="#FFCF50"/>
<rect x="114.23" y="107.31" width="0.60" height="6.01" fill="#6CCB3F"/>
<rect x="114.81" y="107.31" width="0.60" height="6.01" fill="#1E90FF"/>
<rect x="115.38" y="107.31" width="2.90" height="6.01" fill="#FFCF50"/>
<rect x="118.25" y="107.31" width="0.60" height="6.01" fill="#1E90FF"/>
<rect x="118.82" y="107.31" width="0.60" height="6.01" fill="#00BFFF"/>
<rect x="119.40" y="107.31" width="2.90" height="6.01" fill="#F47C7C"/>
<rect x="122.26" y="107.31" width="1.18" height="6.01" fill="#1E90FF"/>
<rect x="123.41" y="107.31" width="2.90" height="6.01" fill="#FFCF50"/>
<rect x="126.28" y="107.31" width="1.18" height="6.01" fill="#6CCB3F"/>
<rect x="127.43" y="107.31" width="1.18" height="6.01" fill="#FFCF50"/>
<rect x="128.57" y="107.31" width="1.75" height="6.01" fill="#F47C7C"/>
<rect x="130.29" y="107.31" width="1.18" height="6.01" fill="#1E90FF"/>
<rect x="131.44" y="107.31" width="2.90" height="6.01" fill="#A80C0C"/>
<rect x="134.31" y="107.31" width="1.18" height="6.01" fill="#1E90FF"/>
<rect x="135.45" y="107.31" width="2.90" height="6.01" fill="#F47C7C"/>
<rect x="138.32" y="107.31" width="1.18" height="6.01" fill="#1E90FF"/>
<rect x="139.47" y="107.31" width="2.90" height="6.01" fill="#A80C0C"/>
<rect x="142.34" y="107.31" width="0.60" height="6.01" fill="#00BFFF"/>
<rect x="142.91" y="107.31" width="0.60" height="6.01" fill="#1E90FF"/>
<rect x="143.48" y="107.31" width="2.90" height="6.01" fill="#F47C7C"/>
<rect x="146.35" y="107.31" width="1.18" height="6.01" fill="#1E90FF"/>
<rect x="147.50" y="107.31" width="2.90" height="6.01" fill="#F47C7C"/>
<rect x="150.37" y="107.31" width="1.18" height="6.01" fill="#1E90FF"/>
<rect x="151.51" y="107.31" width="2.90" height="6.01" fill="#A80C0C"/>
<rect x="154.38" y="107.31" width="0.60" height="6.01" fill="#1E90FF"/>
<rect x="154.95" y="107.31" width="0.60" height="6.01" fill="#00BFFF"/>
<rect x="155.53" y="107.31" width="2.90" height="6.01" fill="#A80C0C"/>
<rect x="158.39" y="107.31" width="1.18" height="6.01" fill="#1E90FF"/>
<rect x="159.54" y="107.31" width="1.75" height="6.01" fill="#F47C7C"/>
<rect x="161.26" y="107.31" width="0.60" height="6.01" fill="#A80C0C"/>
<rect x="161.84" y="107.31" width="0.60" height="6.01" fill="#F47C7C"/>
<rect x="162.41" y="107.31" width="1.18" height="6.01" fill="#1E90FF"/>
<rect x="163.56" y="107.31" width="2.90" height="6.01" fill="#FFCF50"/>
<rect x="166.42" y="107.31" width="1.18" height="6.01" fill="#00BFFF"/>
<rect x="167.57" y="107.31" width="2.90" height="6.01" fill="#6CCB3F"/>
<rect x="170.44" y="107.31" width="1.18" height="6.01" fill="#00BFFF"/>
<rect x="171.58" y="107.31" width="2.90" height="6.01" fill="#6CCB3F"/>
<rect x="174.45" y="107.31" width="1.18" height="6.01" fill="#00BFFF"/>
<rect x="175.60" y="107.31" width="2.90" height="6.01" fill="#6CCB3F"/>
<rect x="178.47" y="107.31" width="1.18" height="6.01" fill="#00BFFF"/>
<rect x="179.61" y="107.31" width="0.60" height="6.01" fill="#FFCF50"/>
<rect x="180.19" y="107.31" width="0.60" height="6.01" fill="#F47C7C"/>
<rect x="180.76" y="107.31" width="1.75" height="6.01" fill="#FFCF50"/>
<rect x="182.48" y="107.31" width="0.60" height="6.01" fill="#1E90FF"/>
<rect x="183.05" y="107.31" width="0.60" height="6.01" fill="#00BFFF"/>
<rect x="183.63" y="107.31" width="2.90" height="6.01" fill="#F47C7C"/>
<rect x="186.50" y="107.31" width="1.18" height="6.01" fill="#1E90FF"/>
<rect x="187.64" y="107.31" width="2.90" height="6.01" fill="#FFCF50"/>
<rect x="190.51" y="107.31" width="0.60" height="6.01" fill="#1E90FF"/>
<rect x="191.08" y="107.31" width="0.60" height="6.01" fill="#6CCB3F"/>
<rect x="191.66" y="107.31" width="2.90" height="6.01" fill="#F47C7C"/>
<rect x="194.52" y="107.31" width="1.18" height="6.01" fill="#1E90FF"/>
<rect x="195.67" y="107.31" width="2.90" height="6.01" fill="#FFCF50"/>
<rect x="198.54" y="107.31" width="1.18" height="6.01" fill="#1E90FF"/>
<rect x="199.69" y="107.31" width="2.90" height="6.01" fill="#F47C7C"/>
<rect x="202.55" y="107.31" width="0.60" height="6.01" fill="#1E90FF"/>
<rect x="203.13" y="107.31" width="0.60" height="6.01" fill="#00BFFF"/>
<rect x="203.70" y="107.31" width="2.90" height="6.01" fill="#F47C7C"/>
<rect x="206.57" y="107.31" width="1.18" height="6.01" fill="#1E90FF"/>
<rect x="207.72" y="107.31" width="2.90" height="6.01" fill="#FFCF50"/>
<rect x="210.58" y="107.31" width="1.18" height="6.01" fill="#1E90FF"/>
<rect x="211.73" y="107.31" width="2.90" height="6.01" fill="#FFCF50"/>
<rect x="214.60" y="107.31" width="0.60" height="6.01" fill="#1E90FF"/>
<rect x="215.17" y="107.31" width="0.60" height="6.01" fill="#00BFFF"/>
<rect x="215.74" y="107.31" width="2.90" height="6.01" fill="#F47C7C"/>
<rect x="218.61" y="107.31" width="0.60" height="6.01" fill="#00BFFF"/>
<rect x="219.19" y="107.31" width="0.60" height="6.01" fill="#1E90FF"/>
<rect x="219.76" y="107.31" width="2.90" height="6.01" fill="#FFCF50"/>
<rect x="222.63" y="107.31" width="1.18" height="6.01" fill="#1E90FF"/>
<rect x="223.77" y="107.31" width="2.90" height="6.01" fill="#F47C7C"/>
<rect x="226.64" y="107.31" width="1.18" height="6.01" fill="#1E90FF"/>
<rect x="227.79" y="107.31" width="2.90" height="6.01" fill="#FFCF50"/>
<rect x="230.66" y="107.31" width="0.60" height="6.01" fill="#1E90FF"/>
<rect x="231.23" y="107.31" width="0.60" height="6.01" fill="#00BFFF"/>
<rect x="231.80" y="107.31" width="2.90" height="6.01" fill="#FFCF50"/>
<rect x="234.67" y="107.31" width="0.60" height="6.01" fill="#6CCB3F"/>
<rect x="235.24" y="107.31" width="0.60" height="6.01" fill="#1E90FF"/>
<rect x="235.82" y="107.31" width="2.90" height="6.01" fill="#F47C7C"/>
<rect x="238.68" y="107.31" width="0.60" height="6.01" fill="#1E90FF"/>
<rect x="239.26" y="107.31" width="0.60" height="6.01" fill="#00BFFF"/>
<rect x="239.83" y="107.31" width="2.90" height="6.01" fill="#F47C7C"/>
<rect x="242.70" y="107.31" width="0.60" height="6.01" fill="#1E90FF"/>
<rect x="243.27" y="107.31" width="0.60" height="6.01" fill="#00BFFF"/>
<rect x="243.85" y="107.31" width="2.32" height="6.01" fill="#FFCF50"/>
<rect x="246.14" y="107.31" width="2.90" height="6.01" fill="#1E90FF"/>
<rect x="249.01" y="107.31" width="1.18" height="6.01" fill="#00BFFF"/>
<rect x="250.15" y="107.31" width="0.58" height="6.01" fill="#1E90FF"/>
<rect x="41.40" y="99.20" width="1.18" height="8.14" fill="#00BFFF"/>
<rect x="42.55" y="99.20" width="0.60" height="8.14" fill="#1E90FF"/>
<rect x="43.12" y="99.20" width="3.47" height="8.14" fill="#00BFFF"/>
<rect x="46.56" y="99.20" width="0.60" height="8.14" fill="#1E90FF"/>
<rect x="47.13" y="99.20" width="3.47" height="8.14" fill="#00BFFF"/>
<rect x="50.58" y="99.20" width="0.60" height="8.14" fill="#1E90FF"/>
<rect x="51.15" y="99.20" width="3.47" height="8.14" fill="#00BFFF"/>
<rect x="54.59" y="99.20" width="0.60" height="8.14" fill="#1E90FF"/>
<rect x="55.16" y="99.20" width="3.47" height="8.14" fill="#00BFFF"/>
<rect x="58.61" y="99.20" width="0.60" height="8.14" fill="#1E90FF"/>
<rect x="59.18" y="99.20" width="3.47" height="8.14" fill="#00BFFF"/>
<rect x="62.62" y="99.20" width="0.60" height="8.14" fill="#1E90FF"/>
<rect x="63.19" y="99.20" width="3.47" height="8.14" fill="#00BFFF"/>
<rect x="66.63" y="99.20" width="0.60" height="8.14" fill="#1E90FF"/>
<rect x="67.21" y="99.20" width="3.47" height="8.14" fill="#00BFFF"/>
<rect x="70.65" y="99.20" width="0.60" height="8.14" fill="#1E90FF"/>
<rect x="71.22" y="99.20" width="3.47" height="8.14" fill="#00BFFF"/>
<rect x="74.66" y="99.20" width="0.60" height="8.14" fill="#1E90FF"/>
<rect x="75.24" y="99.20" width="3.47" height="8.14" fill="#00BFFF"/>
<rect x="78.68" y="99.20" width="0.60" height="8.14" fill="#1E90FF"/>
<rect x="79.25" y="99.20" width="3.47" height="8.14" fill="#00BFFF"/>
<rect x="82.69" y="99.20" width="0.60" height="8.14" fill="#1E90FF"/>
<rect x="83.27" y="99.20" width="3.47" height="8.14" fill="#00BFFF"/>
<rect x="86.71" y="99.20" width="0.60" height="8.14" fill="#1E90FF"/>
<rect x="87.28" y="99.20" width="3.47" height="8.14" fill="#00BFFF"/>
<rect x="90.72" y="99.20" width="0.60" height="8.14" fill="#1E90FF"/>
<rect x="91.29" y="99.20" width="3.47" height="8.14" fill="#00BFFF"/>
<rect x="94.74" y="99.20" width="0.60" height="8.14" fill="#1E90FF"/>
<rect x="95.31" y="99.20" width="3.47" height="8.14" fill="#00BFFF"/>
<rect x="98.75" y="99.20" width="0.60" height="8.14" fill="#1E90FF"/>
<rect x="99.32" y="99.20" width="3.47" height="8.14" fill="#00BFFF"/>
<rect x="102.76" y="99.20" width="0.60" height="8.14" fill="#1E90FF"/>
<rect x="103.34" y="99.20" width="3.47" height="8.14" fill="#00BFFF"/>
<rect x="106.78" y="99.20" width="0.60" height="8.14" fill="#1E90FF"/>
<rect x="107.35" y="99.20" width="3.47" height="8.14" fill="#00BFFF"/>
<rect x="110.79" y="99.20" width="0.60" height="8.14" fill="#1E90FF"/>
<rect x="111.37" y="99.20" width="3.47" height="8.14" fill="#00BFFF"/>
<rect x="114.81" y="99.20" width="0.60" height="8.14" fill="#1E90FF"/>
<rect x="115.38" y="99.20" width="3.47" height="8.14" fill="#00BFFF"/>
<rect x="118.82" y="99.20" width="0.60" height="8.14" fill="#1E90FF"/>
<rect x="119.40" y="99.20" width="3.47" height="8.14" fill="#00BFFF"/>
<rect x="122.84" y="99.20" width="0.60" height="8.14" fill="#1E90FF"/>
<rect x="123.41" y="99.20" width="3.47" height="8.14" fill="#00BFFF"/>
<rect x="126.85" y="99.20" width="0.60" height="8.14" fill="#1E90FF"/>
<rect x="127.43" y="99.20" width="3.47" height="8.14" fill="#00BFFF"/>
<rect x="130.87" y="99.20" width="0.60" height="8.14" fill="#1E90FF"/>
<rect x="131.44" y="99.20" width="3.47" height="8.14" fill="#00BFFF"/>
<rect x="134.88" y="99.20" width="0.60" height="8.14" fill="#1E90FF"/>
<rect x="135.45" y="99.20" width="3.47" height="8.14" fill="#00BFFF"/>
<rect x="138.90" y="99.20" width="0.60" height="8.14" fill="#1E90FF"/>
<rect x="139.47" y="99.20" width="3.47" height="8.14" fill="#00BFFF"/>
<rect x="142.91" y="99.20" width="0.60" height="8.14" fill="#1E90FF"/>
<rect x="143.48" y="99.20" width="3.47" height="8.14" fill="#00BFFF"/>
<rect x="146.92" y="99.20" width="0.60" height="8.14" fill="#1E90FF"/>
<rect x="147.50" y="99.20" width="3.47" height="8.14" fill="#00BFFF"/>
<rect x="150.94" y="99.20" width="0.60" height="8.14" fill="#1E90FF"/>
<rect x="151.51" y="99.20" width="1.18" height="8.14" fill="#FFCF50"/>
<rect x="152.66" y="99.20" width="2.32" height="8.14" fill="#00BFFF"/>
<rect x="154.95" y="99.20" width="0.60" height="8.14" fill="#1E90FF"/>
<rect x="155.53" y="99.20" width="2.90" height="8.14" fill="#6CCB3F"/>
<rect x="158.39" y="99.20" width="0.60" height="8.14" fill="#00BFFF"/>
<rect x="158.97" y="99.20" width="0.60" height="8.14" fill="#1E90FF"/>
<rect x="159.54" y="99.20" width="2.90" height="8.14" fill="#6CCB3F"/>
<rect x="162.41" y="99.20" width="0.60" height="8.14" fill="#00BFFF"/>
<rect x="162.98" y="99.20" width="0.60" height="8.14" fill="#1E90FF"/>
<rect x="163.56" y="99.20" width="2.90" height="8.14" fill="#00BFFF"/>
<rect x="166.42" y="99.20" width="1.18" height="8.14" fill="#1E90FF"/>
<rect x="167.57" y="99.20" width="2.90" height="8.14" fill="#00BFFF"/>
<rect x="170.44" y="99.20" width="1.18" height="8.14" fill="#1E90FF"/>
<rect x="171.58" y="99.20" width="2.90" height="8.14" fill="#00BFFF"/>
<rect x="174.45" y="99.20" width="1.18" height="8.14" fill="#1E90FF"/>
<rect x="175.60" y="99.20" width="2.90" height="8.14" fill="#00BFFF"/>
<rect x="178.47" y="99.20" width="1.18" height="8.14" fill="#1E90FF"/>
<rect x="179.61" y="99.20" width="2.90" height="8.14" fill="#00BFFF"/>
<rect x="182.48" y="99.20" width="1.18" height="8.14" fill="#1E90FF"/>
<rect x="183.63" y="99.20" width="2.90" height="8.14" fill="#00BFFF"/>
<rect x="186.50" y="99.20" width="1.18" height="8.14" fill="#1E90FF"/>
<rect x="187.64" y="99.20" width="2.90" height="8.14" fill="#00BFFF"/>
<rect x="190.51" y="99.20" width="1.18" height="8.14" fill="#1E90FF"/>
<rect x="191.66" y="99.20" width="2.90" height="8.14" fill="#00BFFF"/>
<rect x="194.52" y="99.20" width="1.18" height="8.14" fill="#1E90FF"/>
<rect x="195.67" y="99.20" width="2.90" height="8.14" fill="#00BFFF"/>
<rect x="198.54" y="99.20" width="1.18" height="8.14" fill="#1E90FF"/>
<rect x="199.69" y="99.20" width="2.90" height="8.14" fill="#00BFFF"/>
<rect x="202.55" y="99.20" width="1.18" height="8.14" fill="#1E90FF"/>
<rect x="203.70" y="99.20" width="2.90" height="8.14" fill="#00BFFF"/>
<rect x="206.57" y="99.20" width="1.18" height="8.14" fill="#1E90FF"/>
<rect x="207.72" y="99.20" width="2.90" height="8.14" fill="#00BFFF"/>
<rect x="210.58" y="99.20" width="1.18" height="8.14" fill="#1E90FF"/>
<rect x="211.73" y="99.20" width="2.90" height="8.14" fill="#00BFFF"/>
<rect x="214.60" y="99.20" width="1.18" height="8.14" fill="#1E90FF"/>
<rect x="215.74" y="99.20" width="2.32" height="8.14" fill="#00BFFF"/>
<rect x="218.04" y="99.20" width="0.60" height="8.14" fill="#1E90FF"/>
<rect x="218.61" y="99.20" width="1.75" height="8.14" fill="#00BFFF"/>
<rect x="220.33" y="99.20" width="0.60" height="8.14" fill="#1E90FF"/>
<rect x="220.91" y="99.20" width="4.62" height="8.14" fill="#00BFFF"/>
<rect x="225.49" y="99.20" width="0.60" height="8.14" fill="#1E90FF"/>
<rect x="226.07" y="99.20" width="0.60" height="8.14" fill="#00BFFF"/>
<rect x="226.64" y="99.20" width="1.75" height="8.14" fill="#1E90FF"/>
<rect x="228.36" y="99.20" width="0.60" height="8.14" fill="#00BFFF"/>
<rect x="228.93" y="99.20" width="0.60" height="8.14" fill="#1E90FF"/>
<rect x="229.51" y="99.20" width="1.18" height="8.14" fill="#00BFFF"/>
<rect x="230.66" y="99.20" width="0.60" height="8.14" fill="#1E90FF"/>
<rect x="231.23" y="99.20" width="0.60" height="8.14" fill="#00BFFF"/>
<rect x="231.80" y="99.20" width="1.18" height="8.14" fill="#1E90FF"/>
<rect x="232.95" y="99.20" width="1.18" height="8.14" fill="#00BFFF"/>
<rect x="234.10" y="99.20" width="0.60" height="8.14" fill="#1E90FF"/>
<rect x="234.67" y="99.20" width="0.60" height="8.14" fill="#00BFFF"/>
<rect x="235.24" y="99.20" width="1.18" height="8.14" fill="#1E90FF"/>
<rect x="236.39" y="99.20" width="1.75" height="8.14" fill="#00BFFF"/>
<rect x="238.11" y="99.20" width="0.60" height="8.14" fill="#1E90FF"/>
<rect x="238.68" y="99.20" width="0.60" height="8.14" fill="#00BFFF"/>
<rect x="239.26" y="99.20" width="1.75" height="8.14" fill="#1E90FF"/>
<rect x="240.98" y="99.20" width="0.60" height="8.14" fill="#00BFFF"/>
<rect x="241.55" y="99.20" width="0.60" height="8.14" fill="#1E90FF"/>
<rect x="242.12" y="99.20" width="1.18" height="8.14" fill="#00BFFF"/>
<rect x="243.27" y="99.20" width="2.32" height="8.14" fill="#1E90FF"/>
<rect x="245.57" y="99.20" width="0.60" height="8.14" fill="#00BFFF"/>
<rect x="246.14" y="99.20" width="4.59" height="8.14" fill="#1E90FF"/>
<text x="39.3" y="103.11" font-size="7.1" fill="#555555" text-anchor="end" stroke="#555555">23:00</text>
<rect x="39.6" y="100.66" width="1.6" height="0.5" fill="#999"/>
<text x="39.3" y="110.00" font-size="7.1" fill="#555555" text-anchor="end" stroke="#555555">19:00</text>
<rect x="39.6" y="107.49" width="1.6" height="0.5" fill="#999"/>
<text x="39.3" y="116.90" font-size="7.1" fill="#555555" text-anchor="end" stroke="#555555">15:00</text>
<rect x="39.6" y="114.33" width="1.6" height="0.5" fill="#999"/>
<text x="39.3" y="123.79" font-size="7.1" fill="#555555" text-anchor="end" stroke="#555555">11:00</text>
<rect x="39.6" y="121.16" width="1.6" height="0.5" fill="#999"/>
<text x="39.3" y="130.68" font-size="7.1" fill="#555555" text-anchor="end" stroke="#555555">07:00</text>
<rect x="39.6" y="127.99" width="1.6" height="0.5" fill="#999"/>
<text x="39.3" y="137.57" font-size="7.1" fill="#555555" text-anchor="end" stroke="#555555">03:00</text>
<rect x="39.6" y="134.82" width="1.6" height="0.5" fill="#999"/>
<text x="41.69" y="150.40" font-size="7" fill="#555555" text-anchor="middle" stroke="#555555">Jan</text>
<rect x="41.44" y="140.20" width="0.5" height="1.6" fill="#999"/>
<text x="59.47" y="150.40" font-size="7" fill="#555555" text-anchor="middle" stroke="#555555">Feb</text>
<rect x="59.22" y="140.20" width="0.5" height="1.6" fill="#999"/>
<text x="75.52" y="150.40" font-size="7" fill="#555555" text-anchor="middle" stroke="#555555">Mar</text>
<rect x="75.27" y="140.20" width="0.5" height="1.6" fill="#999"/>
<text x="93.30" y="150.40" font-size="7" fill="#555555" text-anchor="middle" stroke="#555555">Apr</text>
<rect x="93.05" y="140.20" width="0.5" height="1.6" fill="#999"/>
<text x="110.51" y="150.40" font-size="7" fill="#555555" text-anchor="middle" stroke="#555555">May</text>
<rect x="110.26" y="140.20" width="0.5" height="1.6" fill="#999"/>
<text x="128.29" y="150.40" font-size="7" fill="#555555" text-anchor="middle" stroke="#555555">Jun</text>
<rect x="128.04" y="140.20" width="0.5" height="1.6" fill="#999"/>
<text x="145.49" y="150.40" font-size="7" fill="#555555" text-anchor="middle" stroke="#555555">Jul</text>
<rect x="145.24" y="140.20" width="0.5" height="1.6" fill="#999"/>
<text x="163.27" y="150.40" font-size="7" fill="#555555" text-anchor="middle" stroke="#555555">Aug</text>
<rect x="163.02" y="140.20" width="0.5" height="1.6" fill="#999"/>
<text x="181.05" y="150.40" font-size="7" fill="#555555" text-anchor="middle" stroke="#555555">Sep</text>
<rect x="180.80" y="140.20" width="0.5" height="1.6" fill="#999"/>
<text x="198.25" y="150.40" font-size="7" fill="#555555" text-anchor="middle" stroke="#555555">Oct</text>
<rect x="198.00" y="140.20" width="0.5" height="1.6" fill="#999"/>
<text x="216.03" y="150.40" font-size="7" fill="#555555" text-anchor="middle" stroke="#555555">Nov</text>
<rect x="215.78" y="140.20" width="0.5" height="1.6" fill="#999"/>
<text x="233.24" y="150.40" font-size="7" fill="#555555" text-anchor="middle" stroke="#555555">Dec</text>
<rect x="232.99" y="140.20" width="0.5" height="1.6" fill="#999"/>
<rect x="41.4" y="154.40" width="209.30" height="9.9" fill="#D9D9D9"/>
<text x="146.05" y="162.00" font-size="7.2" fill="#1a1a1a" text-anchor="middle" stroke="#1a1a1a">2017</text>
<rect x="41.40" y="194.70" width="13.79" height="11.13" fill="#00BFFF"/>
<rect x="55.16" y="194.70" width="72.86" height="11.13" fill="#1E90FF"/>
<rect x="128.00" y="194.70" width="0.60" height="11.13" fill="#6CCB3F"/>
<rect x="128.57" y="194.70" width="0.60" height="11.13" fill="#00BFFF"/>
<rect x="129.15" y="194.70" width="1.18" height="11.13" fill="#1E90FF"/>
<rect x="130.29" y="194.70" width="0.60" height="11.13" fill="#00BFFF"/>
<rect x="130.87" y="194.70" width="1.18" height="11.13" fill="#1E90FF"/>
<rect x="132.01" y="194.70" width="0.60" height="11.13" fill="#00BFFF"/>
<rect x="132.59" y="194.70" width="1.18" height="11.13" fill="#1E90FF"/>
<rect x="133.73" y="194.70" width="0.60" height="11.13" fill="#00BFFF"/>
<rect x="134.31" y="194.70" width="0.60" height="11.13" fill="#1E90FF"/>
<rect x="134.88" y="194.70" width="0.60" height="11.13" fill="#00BFFF"/>
<rect x="135.45" y="194.70" width="0.60" height="11.13" fill="#1E90FF"/>
<rect x="136.03" y="194.70" width="0.60" height="11.13" fill="#00BFFF"/>
<rect x="136.60" y="194.70" width="0.60" height="11.13" fill="#1E90FF"/>
<rect x="137.17" y="194.70" width="0.60" height="11.13" fill="#FFCF50"/>
<rect x="137.75" y="194.70" width="7.49" height="11.13" fill="#6CCB3F"/>
<rect x="145.20" y="194.70" width="1.18" height="11.13" fill="#1E90FF"/>
<rect x="146.35" y="194.70" width="0.60" height="11.13" fill="#00BFFF"/>
<rect x="146.92" y="194.70" width="0.60" height="11.13" fill="#1E90FF"/>
<rect x="147.50" y="194.70" width="1.18" height="11.13" fill="#00BFFF"/>
<rect x="148.64" y="194.70" width="0.60" height="11.13" fill="#1E90FF"/>
<rect x="149.22" y="194.70" width="1.75" height="11.13" fill="#00BFFF"/>
<rect x="150.94" y="194.70" width="8.06" height="11.13" fill="#6CCB3F"/>
<rect x="158.97" y="194.70" width="6.91" height="11.13" fill="#00BFFF"/>
<rect x="165.85" y="194.70" width="17.24" height="11.13" fill="#1E90FF"/>
<rect x="183.05" y="194.70" width="0.60" height="11.13" fill="#6CCB3F"/>
<rect x="183.63" y="194.70" width="67.10" height="11.13" fill="#1E90FF"/>
<rect x="41.40" y="190.42" width="1.18" height="4.30" fill="#00BFFF"/>
<rect x="42.55" y="190.42" width="0.60" height="4.30" fill="#6CCB3F"/>
<rect x="43.12" y="190.42" width="2.32" height="4.30" fill="#00BFFF"/>
<rect x="45.41" y="190.42" width="0.60" height="4.30" fill="#1E90FF"/>
<rect x="45.99" y="190.42" width="1.18" height="4.30" fill="#FFCF50"/>
<rect x="47.13" y="190.42" width="0.60" height="4.30" fill="#F47C7C"/>
<rect x="47.71" y="190.42" width="1.18" height="4.30" fill="#FFCF50"/>
<rect x="48.86" y="190.42" width="1.18" height="4.30" fill="#1E90FF"/>
<rect x="50.00" y="190.42" width="2.90" height="4.30" fill="#FFCF50"/>
<rect x="52.87" y="190.42" width="0.60" height="4.30" fill="#00BFFF"/>
<rect x="53.44" y="190.42" width="0.60" height="4.30" fill="#1E90FF"/>
<rect x="54.02" y="190.42" width="1.18" height="4.30" fill="#FFCF50"/>
<rect x="55.16" y="190.42" width="0.60" height="4.30" fill="#F47C7C"/>
<rect x="55.74" y="190.42" width="1.18" height="4.30" fill="#FFCF50"/>
<rect x="56.88" y="190.42" width="0.60" height="4.30" fill="#00BFFF"/>
<rect x="57.46" y="190.42" width="0.60" height="4.30" fill="#1E90FF"/>
<rect x="58.03" y="190.42" width="0.60" height="4.30" fill="#FFCF50"/>
<rect x="58.61" y="190.42" width="0.60" height="4.30" fill="#F47C7C"/>
<rect x="59.18" y="190.42" width="1.75" height="4.30" fill="#FFCF50"/>
<rect x="60.90" y="190.42" width="1.18" height="4.30" fill="#1E90FF"/>
<rect x="62.05" y="190.42" width="1.75" height="4.30" fill="#FFCF50"/>
<rect x="63.77" y="190.42" width="0.60" height="4.30" fill="#F47C7C"/>
<rect x="64.34" y="190.42" width="0.60" height="4.30" fill="#FFCF50"/>
<rect x="64.91" y="190.42" width="1.18" height="4.30" fill="#1E90FF"/>
<rect x="66.06" y="190.42" width="2.90" height="4.30" fill="#FFCF50"/>
<rect x="68.93" y="190.42" width="1.18" height="4.30" fill="#6CCB3F"/>
<rect x="70.08" y="190.42" width="0.60" height="4.30" fill="#F47C7C"/>
<rect x="70.65" y="190.42" width="0.60" height="4.30" fill="#FFCF50"/>
<rect x="71.22" y="190.42" width="0.60" height="4.30" fill="#F47C7C"/>
<rect x="71.80" y="190.42" width="1.18" height="4.30" fill="#FFCF50"/>
<rect x="72.94" y="190.42" width="0.60" height="4.30" fill="#1E90FF"/>
<rect x="73.52" y="190.42" width="0.60" height="4.30" fill="#6CCB3F"/>
<rect x="74.09" y="190.42" width="1.75" height="4.30" fill="#FFCF50"/>
<rect x="75.81" y="190.42" width="0.60" height="4.30" fill="#F47C7C"/>
<rect x="76.38" y="190.42" width="0.60" height="4.30" fill="#FFCF50"/>
<rect x="76.96" y="190.42" width="0.60" height="4.30" fill="#1E90FF"/>
<rect x="77.53" y="190.42" width="0.60" height="4.30" fill="#6CCB3F"/>
<rect x="78.10" y="190.42" width="2.90" height="4.30" fill="#FFCF50"/>
<rect x="80.97" y="190.42" width="0.60" height="4.30" fill="#1E90FF"/>
<rect x="81.55" y="190.42" width="0.60" height="4.30" fill="#6CCB3F"/>
<rect x="82.12" y="190.42" width="2.90" height="4.30" fill="#FFCF50"/>
<rect x="84.99" y="190.42" width="0.60" height="4.30" fill="#6CCB3F"/>
<rect x="85.56" y="190.42" width="0.60" height="4.30" fill="#1E90FF"/>
<rect x="86.13" y="190.42" width="0.60" height="4.30" fill="#F47C7C"/>
<rect x="86.71" y="190.42" width="2.32" height="4.30" fill="#FFCF50"/>
<rect x="89.00" y="190.42" width="0.60" height="4.30" fill="#00BFFF"/>
<rect x="89.57" y="190.42" width="0.60" height="4.30" fill="#6CCB3F"/>
<rect x="90.15" y="190.42" width="2.90" height="4.30" fill="#FFCF50"/>
<rect x="93.02" y="190.42" width="0.60" height="4.30" fill="#00BFFF"/>
<rect x="93.59" y="190.42" width="0.60" height="4.30" fill="#1E90FF"/>
<rect x="94.16" y="190.42" width="2.90" height="4.30" fill="#FFCF50"/>
<rect x="97.03" y="190.42" width="0.60" height="4.30" fill="#6CCB3F"/>
<rect x="97.60" y="190.42" width="0.60" height="4.30" fill="#1E90FF"/>
<rect x="98.18" y="190.42" width="0.60" height="4.30" fill="#6CCB3F"/>
<rect x="98.75" y="190.42" width="1.75" height="4.30" fill="#FFCF50"/>
<rect x="100.47" y="190.42" width="2.32" height="4.30" fill="#00BFFF"/>
<rect x="102.76" y="190.42" width="1.18" height="4.30" fill="#FFCF50"/>
<rect x="103.91" y="190.42" width="0.60" height="4.30" fill="#6CCB3F"/>
<rect x="104.48" y="190.42" width="0.60" height="4.30" fill="#FFCF50"/>
<rect x="105.06" y="190.42" width="0.60" height="4.30" fill="#6CCB3F"/>
<rect x="105.63" y="190.42" width="0.60" height="4.30" fill="#1E90FF"/>
<rect x="106.21" y="190.42" width="0.60" height="4.30" fill="#FFCF50"/>
<rect x="106.78" y="190.42" width="0.60" height="4.30" fill="#6CCB3F"/>
<rect x="107.35" y="190.42" width="1.75" height="4.30" fill="#FFCF50"/>
<rect x="109.07" y="190.42" width="0.60" height="4.30" fill="#1E90FF"/>
<rect x="109.65" y="190.42" width="0.60" height="4.30" fill="#00BFFF"/>
<rect x="110.22" y="190.42" width="1.18" height="4.30" fill="#6CCB3F"/>
<rect x="111.37" y="190.42" width="0.60" height="4.30" fill="#FFCF50"/>
<rect x="111.94" y="190.42" width="0.60" height="4.30" fill="#6CCB3F"/>
<rect x="112.51" y="190.42" width="0.60" height="4.30" fill="#FFCF50"/>
<rect x="113.09" y="190.42" width="1.18" height="4.30" fill="#1E90FF"/>
<rect x="114.23" y="190.42" width="1.18" height="4.30" fill="#FFCF50"/>
<rect x="115.38" y="190.42" width="0.60" height="4.30" fill="#6CCB3F"/>
<rect x="115.96" y="190.42" width="1.18" height="4.30" fill="#FFCF50"/>
<rect x="117.10" y="190.42" width="0.60" height="4.30" fill="#6CCB3F"/>
<rect x="117.68" y="190.42" width="0.60" height="4.30" fill="#1E90FF"/>
<rect x="118.25" y="190.42" width="2.90" height="4.30" fill="#FFCF50"/>
<rect x="121.12" y="190.42" width="1.18" height="4.30" fill="#6CCB3F"/>
<rect x="122.26" y="190.42" width="2.90" height="4.30" fill="#FFCF50"/>
<rect x="125.13" y="190.42" width="1.18" height="4.30" fill="#00BFFF"/>
<rect x="126.28" y="190.42" width="2.90" height="4.30" fill="#FFCF50"/>
<rect x="129.15" y="190.42" width="1.18" height="4.30" fill="#00BFFF"/>
<rect x="130.29" y="190.42" width="0.60" height="4.30" fill="#FFCF50"/>
<rect x="130.87" y="190.42" width="0.60" height="4.30" fill="#F47C7C"/>
<rect x="131.44" y="190.42" width="1.18" height="4.30" fill="#FFCF50"/>
<rect x="132.59" y="190.42" width="0.60" height="4.30" fill="#F47C7C"/>
<rect x="133.16" y="190.42" width="0.60" height="4.30" fill="#1E90FF"/>
<rect x="133.73" y="190.42" width="0.60" height="4.30" fill="#6CCB3F"/>
<rect x="134.31" y="190.42" width="0.60" height="4.30" fill="#F47C7C"/>
<rect x="134.88" y="190.42" width="0.60" height="4.30" fill="#FFCF50"/>
<rect x="135.45" y="190.42" width="0.60" height="4.30" fill="#F47C7C"/>
<rect x="136.03" y="190.42" width="1.18" height="4.30" fill="#FFCF50"/>
<rect x="137.17" y="190.42" width="1.18" height="4.30" fill="#6CCB3F"/>
<rect x="138.32" y="190.42" width="2.90" height="4.30" fill="#F47C7C"/>
<rect x="141.19" y="190.42" width="1.18" height="4.30" fill="#1E90FF"/>
<rect x="142.34" y="190.42" width="0.60" height="4.30" fill="#F47C7C"/>
<rect x="142.91" y="190.42" width="1.75" height="4.30" fill="#FFCF50"/>
<rect x="144.63" y="190.42" width="0.60" height="4.30" fill="#F47C7C"/>
<rect x="145.20" y="190.42" width="1.18" height="4.30" fill="#6CCB3F"/>
<rect x="146.35" y="190.42" width="0.60" height="4.30" fill="#FFCF50"/>
<rect x="146.92" y="190.42" width="0.60" height="4.30" fill="#F47C7C"/>
<rect x="147.50" y="190.42" width="0.60" height="4.30" fill="#FFCF50"/>
<rect x="148.07" y="190.42" width="0.60" height="4.30" fill="#F47C7C"/>
<rect x="148.64" y="190.42" width="0.60" height="4.30" fill="#FFCF50"/>
<rect x="149.22" y="190.42" width="0.60" height="4.30" fill="#6CCB3F"/>
<rect x="149.79" y="190.42" width="0.60" height="4.30" fill="#00BFFF"/>
<rect x="150.37" y="190.42" width="1.18" height="4.30" fill="#F47C7C"/>
<rect x="151.51" y="190.42" width="1.18" height="4.30" fill="#FFCF50"/>
<rect x="152.66" y="190.42" width="0.60" height="4.30" fill="#F47C7C"/>
<rect x="153.23" y="190.42" width="0.60" height="4.30" fill="#00BFFF"/>
<rect x="153.81" y="190.42" width="0.60" height="4.30" fill="#1E90FF"/>
<rect x="154.38" y="190.42" width="0.60" height="4.30" fill="#F47C7C"/>
<rect x="154.95" y="190.42" width="2.32" height="4.30" fill="#FFCF50"/>
<rect x="157.25" y="190.42" width="1.18" height="4.30" fill="#6CCB3F"/>
<rect x="158.39" y="190.42" width="0.60" height="4.30" fill="#FFCF50"/>
<rect x="158.97" y="190.42" width="0.60" height="4.30" fill="#F47C7C"/>
<rect x="159.54" y="190.42" width="1.75" height="4.30" fill="#FFCF50"/>
<rect x="161.26" y="190.42" width="0.60" height="4.30" fill="#6CCB3F"/>
<rect x="161.84" y="190.42" width="0.60" height="4.30" fill="#00BFFF"/>
<rect x="162.41" y="190.42" width="0.60" height="4.30" fill="#FFCF50"/>
<rect x="162.98" y="190.42" width="1.75" height="4.30" fill="#F47C7C"/>
<rect x="164.70" y="190.42" width="0.60" height="4.30" fill="#FFCF50"/>
<rect x="165.28" y="190.42" width="0.60" height="4.30" fill="#6CCB3F"/>
<rect x="165.85" y="190.42" width="0.60" height="4.30" fill="#00BFFF"/>
<rect x="166.42" y="190.42" width="0.60" height="4.30" fill="#FFCF50"/>
<rect x="167.00" y="190.42" width="0.60" height="4.30" fill="#F47C7C"/>
<rect x="167.57" y="190.42" width="6.91" height="4.30" fill="#1E90FF"/>
<rect x="174.45" y="190.42" width="2.90" height="4.30" fill="#00BFFF"/>
<rect x="177.32" y="190.42" width="1.18" height="4.30" fill="#1E90FF"/>
<rect x="178.47" y="190.42" width="2.32" height="4.30" fill="#6CCB3F"/>
<rect x="180.76" y="190.42" width="0.60" height="4.30" fill="#FFCF50"/>
<rect x="181.33" y="190.42" width="0.60" height="4.30" fill="#6CCB3F"/>
<rect x="181.91" y="190.42" width="0.60" height="4.30" fill="#1E90FF"/>
<rect x="182.48" y="190.42" width="2.90" height="4.30" fill="#6CCB3F"/>
<rect x="185.35" y="190.42" width="0.60" height="4.30" fill="#00BFFF"/>
<rect x="185.92" y="190.42" width="1.18" height="4.30" fill="#6CCB3F"/>
<rect x="187.07" y="190.42" width="0.60" height="4.30" fill="#FFCF50"/>
<rect x="187.64" y="190.42" width="1.18" height="4.30" fill="#6CCB3F"/>
<rect x="188.79" y="190.42" width="0.60" height="4.30" fill="#FFCF50"/>
<rect x="189.36" y="190.42" width="0.60" height="4.30" fill="#00BFFF"/>
<rect x="189.94" y="190.42" width="0.60" height="4.30" fill="#1E90FF"/>
<rect x="190.51" y="190.42" width="1.75" height="4.30" fill="#FFCF50"/>
<rect x="192.23" y="190.42" width="1.18" height="4.30" fill="#6CCB3F"/>
<rect x="193.38" y="190.42" width="1.18" height="4.30" fill="#1E90FF"/>
<rect x="194.52" y="190.42" width="0.60" height="4.30" fill="#6CCB3F"/>
<rect x="195.10" y="190.42" width="0.60" height="4.30" fill="#FFCF50"/>
<rect x="195.67" y="190.42" width="1.18" height="4.30" fill="#6CCB3F"/>
<rect x="196.82" y="190.42" width="0.60" height="4.30" fill="#FFCF50"/>
<rect x="197.39" y="190.42" width="0.60" height="4.30" fill="#00BFFF"/>
<rect x="197.97" y="190.42" width="0.60" height="4.30" fill="#1E90FF"/>
<rect x="198.54" y="190.42" width="0.60" height="4.30" fill="#6CCB3F"/>
<rect x="199.11" y="190.42" width="1.18" height="4.30" fill="#FFCF50"/>
<rect x="200.26" y="190.42" width="1.75" height="4.30" fill="#6CCB3F"/>
<rect x="201.98" y="190.42" width="0.60" height="4.30" fill="#1E90FF"/>
<rect x="202.55" y="190.42" width="0.60" height="4.30" fill="#6CCB3F"/>
<rect x="203.13" y="190.42" width="0.60" height="4.30" fill="#FFCF50"/>
<rect x="203.70" y="190.42" width="0.60" height="4.30" fill="#6CCB3F"/>
<rect x="204.27" y="190.42" width="1.18" height="4.30" fill="#FFCF50"/>
<rect x="205.42" y="190.42" width="1.75" height="4.30" fill="#6CCB3F"/>
<rect x="207.14" y="190.42" width="1.18" height="4.30" fill="#FFCF50"/>
<rect x="208.29" y="190.42" width="1.75" height="4.30" fill="#6CCB3F"/>
<rect x="210.01" y="190.42" width="0.60" height="4.30" fill="#1E90FF"/>
<rect x="210.58" y="190.42" width="0.60" height="4.30" fill="#FFCF50"/>
<rect x="211.16" y="190.42" width="2.32" height="4.30" fill="#6CCB3F"/>
<rect x="213.45" y="190.42" width="0.60" height="4.30" fill="#00BFFF"/>
<rect x="214.02" y="190.42" width="0.60" height="4.30" fill="#1E90FF"/>
<rect x="214.60" y="190.42" width="2.90" height="4.30" fill="#FFCF50"/>
<rect x="217.46" y="190.42" width="1.18" height="4.30" fill="#00BFFF"/>
<rect x="218.61" y="190.42" width="2.32" height="4.30" fill="#FFCF50"/>
<rect x="220.91" y="190.42" width="0.60" height="4.30" fill="#F47C7C"/>
<rect x="221.48" y="190.42" width="0.60" height="4.30" fill="#00BFFF"/>
<rect x="222.05" y="190.42" width="0.60" height="4.30" fill="#6CCB3F"/>
<rect x="222.63" y="190.42" width="2.90" height="4.30" fill="#FFCF50"/>
<rect x="225.49" y="190.42" width="0.60" height="4.30" fill="#00BFFF"/>
<rect x="226.07" y="190.42" width="0.60" height="4.30" fill="#1E90FF"/>
<rect x="226.64" y="190.42" width="2.90" height="4.30" fill="#FFCF50"/>
<rect x="229.51" y="190.42" width="0.60" height="4.30" fill="#6CCB3F"/>
<rect x="230.08" y="190.42" width="0.60" height="4.30" fill="#00BFFF"/>
<rect x="230.66" y="190.42" width="2.90" height="4.30" fill="#FFCF50"/>
<rect x="233.52" y="190.42" width="1.18" height="4.30" fill="#00BFFF"/>
<rect x="234.67" y="190.42" width="2.90" height="4.30" fill="#FFCF50"/>
<rect x="237.54" y="190.42" width="0.60" height="4.30" fill="#1E90FF"/>
<rect x="238.11" y="190.42" width="0.60" height="4.30" fill="#00BFFF"/>
<rect x="238.68" y="190.42" width="2.90" height="4.30" fill="#FFCF50"/>
<rect x="241.55" y="190.42" width="1.18" height="4.30" fill="#1E90FF"/>
<rect x="242.70" y="190.42" width="2.90" height="4.30" fill="#FFCF50"/>
<rect x="245.57" y="190.42" width="5.16" height="4.30" fill="#00BFFF"/>
<rect x="41.40" y="178.89" width="1.18" height="11.56" fill="#00BFFF"/>
<rect x="42.55" y="178.89" width="0.60" height="11.56" fill="#6CCB3F"/>
<rect x="43.12" y="178.89" width="1.75" height="11.56" fill="#00BFFF"/>
<rect x="44.84" y="178.89" width="1.18" height="11.56" fill="#1E90FF"/>
<rect x="45.99" y="178.89" width="2.90" height="11.56" fill="#A80C0C"/>
<rect x="48.86" y="178.89" width="0.60" height="11.56" fill="#00BFFF"/>
<rect x="49.43" y="178.89" width="0.60" height="11.56" fill="#1E90FF"/>
<rect x="50.00" y="178.89" width="2.90" height="11.56" fill="#A80C0C"/>
<rect x="52.87" y="178.89" width="1.18" height="11.56" fill="#1E90FF"/>
<rect x="54.02" y="178.89" width="2.90" height="11.56" fill="#A80C0C"/>
<rect x="56.88" y="178.89" width="1.18" height="11.56" fill="#00BFFF"/>
<rect x="58.03" y="178.89" width="2.90" height="11.56" fill="#A80C0C"/>
<rect x="60.90" y="178.89" width="1.18" height="11.56" fill="#1E90FF"/>
<rect x="62.05" y="178.89" width="2.90" height="11.56" fill="#A80C0C"/>
<rect x="64.91" y="178.89" width="0.60" height="11.56" fill="#1E90FF"/>
<rect x="65.49" y="178.89" width="0.60" height="11.56" fill="#00BFFF"/>
<rect x="66.06" y="178.89" width="2.90" height="11.56" fill="#A80C0C"/>
<rect x="68.93" y="178.89" width="0.60" height="11.56" fill="#00BFFF"/>
<rect x="69.50" y="178.89" width="0.60" height="11.56" fill="#1E90FF"/>
<rect x="70.08" y="178.89" width="2.90" height="11.56" fill="#F47C7C"/>
<rect x="72.94" y="178.89" width="1.18" height="11.56" fill="#00BFFF"/>
<rect x="74.09" y="178.89" width="2.90" height="11.56" fill="#A80C0C"/>
<rect x="76.96" y="178.89" width="0.60" height="11.56" fill="#1E90FF"/>
<rect x="77.53" y="178.89" width="0.60" height="11.56" fill="#00BFFF"/>
<rect x="78.10" y="178.89" width="2.90" height="11.56" fill="#F47C7C"/>
<rect x="80.97" y="178.89" width="0.60" height="11.56" fill="#00BFFF"/>
<rect x="81.55" y="178.89" width="0.60" height="11.56" fill="#1E90FF"/>
<rect x="82.12" y="178.89" width="2.90" height="11.56" fill="#A80C0C"/>
<rect x="84.99" y="178.89" width="1.18" height="11.56" fill="#00BFFF"/>
<rect x="86.13" y="178.89" width="2.32" height="11.56" fill="#A80C0C"/>
<rect x="88.43" y="178.89" width="0.60" height="11.56" fill="#F47C7C"/>
<rect x="89.00" y="178.89" width="1.18" height="11.56" fill="#1E90FF"/>
<rect x="90.15" y="178.89" width="2.90" height="11.56" fill="#A80C0C"/>
<rect x="93.02" y="178.89" width="1.18" height="11.56" fill="#1E90FF"/>
<rect x="94.16" y="178.89" width="2.90" height="11.56" fill="#A80C0C"/>
<rect x="97.03" y="178.89" width="0.60" height="11.56" fill="#00BFFF"/>
<rect x="97.60" y="178.89" width="0.60" height="11.56" fill="#1E90FF"/>
<rect x="98.18" y="178.89" width="2.32" height="11.56" fill="#F47C7C"/>
<rect x="100.47" y="178.89" width="2.32" height="11.56" fill="#00BFFF"/>
<rect x="102.76" y="178.89" width="2.32" height="11.56" fill="#F47C7C"/>
<rect x="105.06" y="178.89" width="0.60" height="11.56" fill="#1E90FF"/>
<rect x="105.63" y="178.89" width="0.60" height="11.56" fill="#6CCB3F"/>
<rect x="106.21" y="178.89" width="2.90" height="11.56" fill="#A80C0C"/>
<rect x="109.07" y="178.89" width="1.18" height="11.56" fill="#1E90FF"/>
<rect x="110.22" y="178.89" width="2.90" height="11.56" fill="#F47C7C"/>
<rect x="113.09" y="178.89" width="0.60" height="11.56" fill="#1E90FF"/>
<rect x="113.66" y="178.89" width="0.60" height="11.56" fill="#00BFFF"/>
<rect x="114.23" y="178.89" width="1.75" height="11.56" fill="#F47C7C"/>
<rect x="115.96" y="178.89" width="1.18" height="11.56" fill="#A80C0C"/>
<rect x="117.10" y="178.89" width="0.60" height="11.56" fill="#00BFFF"/>
<rect x="117.68" y="178.89" width="0.60" height="11.56" fill="#1E90FF"/>
<rect x="118.25" y="178.89" width="2.32" height="11.56" fill="#A80C0C"/>
<rect x="120.54" y="178.89" width="0.60" height="11.56" fill="#F47C7C"/>
<rect x="121.12" y="178.89" width="1.18" height="11.56" fill="#1E90FF"/>
<rect x="122.26" y="178.89" width="2.90" height="11.56" fill="#A80C0C"/>
<rect x="125.13" y="178.89" width="0.60" height="11.56" fill="#6CCB3F"/>
<rect x="125.70" y="178.89" width="0.60" height="11.56" fill="#1E90FF"/>
<rect x="126.28" y="178.89" width="2.90" height="11.56" fill="#A80C0C"/>
<rect x="129.15" y="178.89" width="0.60" height="11.56" fill="#1E90FF"/>
<rect x="129.72" y="178.89" width="0.60" height="11.56" fill="#00BFFF"/>
<rect x="130.29" y="178.89" width="2.90" height="11.56" fill="#A80C0C"/>
<rect x="133.16" y="178.89" width="0.60" height="11.56" fill="#1E90FF"/>
<rect x="133.73" y="178.89" width="0.60" height="11.56" fill="#00BFFF"/>
<rect x="134.31" y="178.89" width="2.90" height="11.56" fill="#A80C0C"/>
<rect x="137.17" y="178.89" width="0.60" height="11.56" fill="#6CCB3F"/>
<rect x="137.75" y="178.89" width="0.60" height="11.56" fill="#1E90FF"/>
<rect x="138.32" y="178.89" width="2.90" height="11.56" fill="#A80C0C"/>
<rect x="141.19" y="178.89" width="0.60" height="11.56" fill="#00BFFF"/>
<rect x="141.76" y="178.89" width="0.60" height="11.56" fill="#1E90FF"/>
<rect x="142.34" y="178.89" width="2.90" height="11.56" fill="#A80C0C"/>
<rect x="145.20" y="178.89" width="0.60" height="11.56" fill="#1E90FF"/>
<rect x="145.78" y="178.89" width="0.60" height="11.56" fill="#00BFFF"/>
<rect x="146.35" y="178.89" width="2.90" height="11.56" fill="#A80C0C"/>
<rect x="149.22" y="178.89" width="0.60" height="11.56" fill="#00BFFF"/>
<rect x="149.79" y="178.89" width="0.60" height="11.56" fill="#1E90FF"/>
<rect x="150.37" y="178.89" width="2.90" height="11.56" fill="#A80C0C"/>
<rect x="153.23" y="178.89" width="1.18" height="11.56" fill="#00BFFF"/>
<rect x="154.38" y="178.89" width="2.90" height="11.56" fill="#A80C0C"/>
<rect x="157.25" y="178.89" width="0.60" height="11.56" fill="#00BFFF"/>
<rect x="157.82" y="178.89" width="0.60" height="11.56" fill="#1E90FF"/>
<rect x="158.39" y="178.89" width="2.90" height="11.56" fill="#A80C0C"/>
<rect x="161.26" y="178.89" width="0.60" height="11.56" fill="#6CCB3F"/>
<rect x="161.84" y="178.89" width="0.60" height="11.56" fill="#1E90FF"/>
<rect x="162.41" y="178.89" width="2.90" height="11.56" fill="#F47C7C"/>
<rect x="165.28" y="178.89" width="0.60" height="11.56" fill="#6CCB3F"/>
<rect x="165.85" y="178.89" width="0.60" height="11.56" fill="#00BFFF"/>
<rect x="166.42" y="178.89" width="1.18" height="11.56" fill="#F47C7C"/>
<rect x="167.57" y="178.89" width="2.90" height="11.56" fill="#1E90FF"/>
<rect x="170.44" y="178.89" width="0.60" height="11.56" fill="#00BFFF"/>
<rect x="171.01" y="178.89" width="3.47" height="11.56" fill="#1E90FF"/>
<rect x="174.45" y="178.89" width="2.90" height="11.56" fill="#6CCB3F"/>
<rect x="177.32" y="178.89" width="0.60" height="11.56" fill="#1E90FF"/>
<rect x="177.89" y="178.89" width="0.60" height="11.56" fill="#00BFFF"/>
<rect x="178.47" y="178.89" width="2.32" height="11.56" fill="#FFCF50"/>
<rect x="180.76" y="178.89" width="0.60" height="11.56" fill="#F47C7C"/>
<rect x="181.33" y="178.89" width="0.60" height="11.56" fill="#1E90FF"/>
<rect x="181.91" y="178.89" width="0.60" height="11.56" fill="#00BFFF"/>
<rect x="182.48" y="178.89" width="2.90" height="11.56" fill="#F47C7C"/>
<rect x="185.35" y="178.89" width="0.60" height="11.56" fill="#1E90FF"/>
<rect x="185.92" y="178.89" width="0.60" height="11.56" fill="#6CCB3F"/>
<rect x="186.50" y="178.89" width="2.90" height="11.56" fill="#A80C0C"/>
<rect x="189.36" y="178.89" width="0.60" height="11.56" fill="#1E90FF"/>
<rect x="189.94" y="178.89" width="0.60" height="11.56" fill="#00BFFF"/>
<rect x="190.51" y="178.89" width="2.90" height="11.56" fill="#F47C7C"/>
<rect x="193.38" y="178.89" width="0.60" height="11.56" fill="#00BFFF"/>
<rect x="193.95" y="178.89" width="0.60" height="11.56" fill="#1E90FF"/>
<rect x="194.52" y="178.89" width="2.90" height="11.56" fill="#F47C7C"/>
<rect x="197.39" y="178.89" width="0.60" height="11.56" fill="#00BFFF"/>
<rect x="197.97" y="178.89" width="0.60" height="11.56" fill="#1E90FF"/>
<rect x="198.54" y="178.89" width="2.90" height="11.56" fill="#A80C0C"/>
<rect x="201.41" y="178.89" width="0.60" height="11.56" fill="#00BFFF"/>
<rect x="201.98" y="178.89" width="0.60" height="11.56" fill="#1E90FF"/>
<rect x="202.55" y="178.89" width="2.90" height="11.56" fill="#F47C7C"/>
<rect x="205.42" y="178.89" width="0.60" height="11.56" fill="#00BFFF"/>
<rect x="205.99" y="178.89" width="0.60" height="11.56" fill="#6CCB3F"/>
<rect x="206.57" y="178.89" width="2.90" height="11.56" fill="#F47C7C"/>
<rect x="209.44" y="178.89" width="1.18" height="11.56" fill="#1E90FF"/>
<rect x="210.58" y="178.89" width="2.90" height="11.56" fill="#F47C7C"/>
<rect x="213.45" y="178.89" width="1.18" height="11.56" fill="#1E90FF"/>
<rect x="214.60" y="178.89" width="1.18" height="11.56" fill="#A80C0C"/>
<rect x="215.74" y="178.89" width="1.75" height="11.56" fill="#F47C7C"/>
<rect x="217.46" y="178.89" width="0.60" height="11.56" fill="#1E90FF"/>
<rect x="218.04" y="178.89" width="0.60" height="11.56" fill="#6CCB3F"/>
<rect x="218.61" y="178.89" width="2.90" height="11.56" fill="#F47C7C"/>
<rect x="221.48" y="178.89" width="0.60" height="11.56" fill="#6CCB3F"/>
<rect x="222.05" y="178.89" width="0.60" height="11.56" fill="#00BFFF"/>
<rect x="222.63" y="178.89" width="2.90" height="11.56" fill="#A80C0C"/>
<rect x="225.49" y="178.89" width="1.18" height="11.56" fill="#00BFFF"/>
<rect x="226.64" y="178.89" width="2.90" height="11.56" fill="#A80C0C"/>
<rect x="229.51" y="178.89" width="1.18" height="11.56" fill="#1E90FF"/>
<rect x="230.66" y="178.89" width="2.90" height="11.56" fill="#A80C0C"/>
<rect x="233.52" y="178.89" width="0.60" height="11.56" fill="#00BFFF"/>
<rect x="234.10" y="178.89" width="0.60" height="11.56" fill="#1E90FF"/>
<rect x="234.67" y="178.89" width="2.90" height="11.56" fill="#A80C0C"/>
<rect x="237.54" y="178.89" width="0.60" height="11.56" fill="#00BFFF"/>
<rect x="238.11" y="178.89" width="0.60" height="11.56" fill="#1E90FF"/>
<rect x="238.68" y="178.89" width="2.90" height="11.56" fill="#A80C0C"/>
<rect x="241.55" y="178.89" width="0.60" height="11.56" fill="#6CCB3F"/>
<rect x="242.12" y="178.89" width="0.60" height="11.56" fill="#00BFFF"/>
<rect x="242.70" y="178.89" width="2.90" height="11.56" fill="#A80C0C"/>
<rect x="245.57" y="178.89" width="2.32" height="11.56" fill="#00BFFF"/>
<rect x="247.86" y="178.89" width="0.60" height="11.56" fill="#6CCB3F"/>
<rect x="248.43" y="178.89" width="2.30" height="11.56" fill="#00BFFF"/>
<rect x="41.40" y="172.91" width="1.18" height="6.01" fill="#00BFFF"/>
<rect x="42.55" y="172.91" width="0.60" height="6.01" fill="#6CCB3F"/>
<rect x="43.12" y="172.91" width="1.75" height="6.01" fill="#00BFFF"/>
<rect x="44.84" y="172.91" width="0.60" height="6.01" fill="#1E90FF"/>
<rect x="45.41" y="172.91" width="0.60" height="6.01" fill="#00BFFF"/>
<rect x="45.99" y="172.91" width="2.90" height="6.01" fill="#FFCF50"/>
<rect x="48.86" y="172.91" width="1.18" height="6.01" fill="#1E90FF"/>
<rect x="50.00" y="172.91" width="2.90" height="6.01" fill="#FFCF50"/>
<rect x="52.87" y="172.91" width="0.60" height="6.01" fill="#1E90FF"/>
<rect x="53.44" y="172.91" width="0.60" height="6.01" fill="#00BFFF"/>
<rect x="54.02" y="172.91" width="2.90" height="6.01" fill="#FFCF50"/>
<rect x="56.88" y="172.91" width="1.18" height="6.01" fill="#1E90FF"/>
<rect x="58.03" y="172.91" width="2.90" height="6.01" fill="#FFCF50"/>
<rect x="60.90" y="172.91" width="1.18" height="6.01" fill="#1E90FF"/>
<rect x="62.05" y="172.91" width="2.90" height="6.01" fill="#FFCF50"/>
<rect x="64.91" y="172.91" width="1.18" height="6.01" fill="#1E90FF"/>
<rect x="66.06" y="172.91" width="2.90" height="6.01" fill="#F47C7C"/>
<rect x="68.93" y="172.91" width="0.60" height="6.01" fill="#00BFFF"/>
<rect x="69.50" y="172.91" width="0.60" height="6.01" fill="#1E90FF"/>
<rect x="70.08" y="172.91" width="2.90" height="6.01" fill="#F47C7C"/>
<rect x="72.94" y="172.91" width="1.18" height="6.01" fill="#1E90FF"/>
<rect x="74.09" y="172.91" width="2.90" height="6.01" fill="#FFCF50"/>
<rect x="76.96" y="172.91" width="1.18" height="6.01" fill="#1E90FF"/>
<rect x="78.10" y="172.91" width="2.90" height="6.01" fill="#FFCF50"/>
<rect x="80.97" y="172.91" width="1.18" height="6.01" fill="#1E90FF"/>
<rect x="82.12" y="172.91" width="2.90" height="6.01" fill="#FFCF50"/>
<rect x="84.99" y="172.91" width="0.60" height="6.01" fill="#00BFFF"/>
<rect x="85.56" y="172.91" width="0.60" height="6.01" fill="#1E90FF"/>
<rect x="86.13" y="172.91" width="2.90" height="6.01" fill="#F47C7C"/>
<rect x="89.00" y="172.91" width="1.18" height="6.01" fill="#1E90FF"/>
<rect x="90.15" y="172.91" width="2.90" height="6.01" fill="#F47C7C"/>
<rect x="93.02" y="172.91" width="0.60" height="6.01" fill="#00BFFF"/>
<rect x="93.59" y="172.91" width="0.60" height="6.01" fill="#1E90FF"/>
<rect x="94.16" y="172.91" width="2.90" height="6.01" fill="#FFCF50"/>
<rect x="97.03" y="172.91" width="1.18" height="6.01" fill="#1E90FF"/>
<rect x="98.18" y="172.91" width="2.32" height="6.01" fill="#F47C7C"/>
<rect x="100.47" y="172.91" width="2.32" height="6.01" fill="#00BFFF"/>
<rect x="102.76" y="172.91" width="2.32" height="6.01" fill="#FFCF50"/>
<rect x="105.06" y="172.91" width="0.60" height="6.01" fill="#00BFFF"/>
<rect x="105.63" y="172.91" width="0.60" height="6.01" fill="#1E90FF"/>
<rect x="106.21" y="172.91" width="2.90" height="6.01" fill="#FFCF50"/>
<rect x="109.07" y="172.91" width="1.18" height="6.01" fill="#1E90FF"/>
<rect x="110.22" y="172.91" width="2.90" height="6.01" fill="#FFCF50"/>
<rect x="113.09" y="172.91" width="1.18" height="6.01" fill="#1E90FF"/>
<rect x="114.23" y="172.91" width="2.90" height="6.01" fill="#FFCF50"/>
<rect x="117.10" y="172.91" width="1.18" height="6.01" fill="#1E90FF"/>
<rect x="118.25" y="172.91" width="2.90" height="6.01" fill="#FFCF50"/>
<rect x="121.12" y="172.91" width="1.18" height="6.01" fill="#1E90FF"/>
<rect x="122.26" y="172.91" width="2.90" height="6.01" fill="#F47C7C"/>
<rect x="125.13" y="172.91" width="1.18" height="6.01" fill="#1E90FF"/>
<rect x="126.28" y="172.91" width="2.90" height="6.01" fill="#A80C0C"/>
<rect x="129.15" y="172.91" width="1.18" height="6.01" fill="#1E90FF"/>
<rect x="130.29" y="172.91" width="2.90" height="6.01" fill="#A80C0C"/>
<rect x="133.16" y="172.91" width="1.18" height="6.01" fill="#1E90FF"/>
<rect x="134.31" y="172.91" width="2.90" height="6.01" fill="#F47C7C"/>
<rect x="137.17" y="172.91" width="0.60" height="6.01" fill="#1E90FF"/>
<rect x="137.75" y="172.91" width="0.60" height="6.01" fill="#00BFFF"/>
<rect x="138.32" y="172.91" width="2.90" height="6.01" fill="#A80C0C"/>
<rect x="141.19" y="172.91" width="0.60" height="6.01" fill="#1E90FF"/>
<rect x="141.76" y="172.91" width="0.60" height="6.01" fill="#00BFFF"/>
<rect x="142.34" y="172.91" width="2.90" height="6.01" fill="#F47C7C"/>
<rect x="145.20" y="172.91" width="0.60" height="6.01" fill="#6CCB3F"/>
<rect x="145.78" y="172.91" width="0.60" height="6.01" fill="#00BFFF"/>
<rect x="146.35" y="172.91" width="2.90" height="6.01" fill="#A80C0C"/>
<rect x="149.22" y="172.91" width="1.18" height="6.01" fill="#1E90FF"/>
<rect x="150.37" y="172.91" width="2.90" height="6.01" fill="#A80C0C"/>
<rect x="153.23" y="172.91" width="0.60" height="6.01" fill="#6CCB3F"/>
<rect x="153.81" y="172.91" width="0.60" height="6.01" fill="#1E90FF"/>
<rect x="154.38" y="172.91" width="2.90" height="6.01" fill="#F47C7C"/>
<rect x="157.25" y="172.91" width="0.60" height="6.01" fill="#00BFFF"/>
<rect x="157.82" y="172.91" width="0.60" height="6.01" fill="#1E90FF"/>
<rect x="158.39" y="172.91" width="2.90" height="6.01" fill="#F47C7C"/>
<rect x="161.26" y="172.91" width="1.18" height="6.01" fill="#1E90FF"/>
<rect x="162.41" y="172.91" width="2.90" height="6.01" fill="#FFCF50"/>
<rect x="165.28" y="172.91" width="1.18" height="6.01" fill="#1E90FF"/>
<rect x="166.42" y="172.91" width="1.18" height="6.01" fill="#FFCF50"/>
<rect x="167.57" y="172.91" width="6.91" height="6.01" fill="#1E90FF"/>
<rect x="174.45" y="172.91" width="2.90" height="6.01" fill="#00BFFF"/>
<rect x="177.32" y="172.91" width="1.18" height="6.01" fill="#1E90FF"/>
<rect x="178.47" y="172.91" width="0.60" height="6.01" fill="#6CCB3F"/>
<rect x="179.04" y="172.91" width="1.18" height="6.01" fill="#FFCF50"/>
<rect x="180.19" y="172.91" width="0.60" height="6.01" fill="#6CCB3F"/>
<rect x="180.76" y="172.91" width="0.60" height="6.01" fill="#FFCF50"/>
<rect x="181.33" y="172.91" width="1.18" height="6.01" fill="#1E90FF"/>
<rect x="182.48" y="172.91" width="2.90" height="6.01" fill="#FFCF50"/>
<rect x="185.35" y="172.91" width="0.60" height="6.01" fill="#00BFFF"/>
<rect x="185.92" y="172.91" width="0.60" height="6.01" fill="#1E90FF"/>
<rect x="186.50" y="172.91" width="2.90" height="6.01" fill="#FFCF50"/>
<rect x="189.36" y="172.91" width="0.60" height="6.01" fill="#1E90FF"/>
<rect x="189.94" y="172.91" width="0.60" height="6.01" fill="#6CCB3F"/>
<rect x="190.51" y="172.91" width="2.90" height="6.01" fill="#F47C7C"/>
<rect x="193.38" y="172.91" width="0.60" height="6.01" fill="#00BFFF"/>
<rect x="193.95" y="172.91" width="0.60" height="6.01" fill="#1E90FF"/>
<rect x="194.52" y="172.91" width="2.90" height="6.01" fill="#FFCF50"/>
<rect x="197.39" y="172.91" width="1.18" height="6.01" fill="#1E90FF"/>
<rect x="198.54" y="172.91" width="2.90" height="6.01" fill="#FFCF50"/>
<rect x="201.41" y="172.91" width="0.60" height="6.01" fill="#1E90FF"/>
<rect x="201.98" y="172.91" width="0.60" height="6.01" fill="#00BFFF"/>
<rect x="202.55" y="172.91" width="2.90" height="6.01" fill="#FFCF50"/>
<rect x="205.42" y="172.91" width="0.60" height="6.01" fill="#1E90FF"/>
<rect x="205.99" y="172.91" width="0.60" height="6.01" fill="#00BFFF"/>
<rect x="206.57" y="172.91" width="2.90" height="6.01" fill="#FFCF50"/>
<rect x="209.44" y="172.91" width="1.18" height="6.01" fill="#6CCB3F"/>
<rect x="210.58" y="172.91" width="2.90" height="6.01" fill="#FFCF50"/>
<rect x="213.45" y="172.91" width="1.18" height="6.01" fill="#1E90FF"/>
<rect x="214.60" y="172.91" width="1.18" height="6.01" fill="#FFCF50"/>
<rect x="215.74" y="172.91" width="1.75" height="6.01" fill="#F47C7C"/>
<rect x="217.46" y="172.91" width="0.60" height="6.01" fill="#1E90FF"/>
<rect x="218.04" y="172.91" width="0.60" height="6.01" fill="#00BFFF"/>
<rect x="218.61" y="172.91" width="2.90" height="6.01" fill="#FFCF50"/>
<rect x="221.48" y="172.91" width="0.60" height="6.01" fill="#6CCB3F"/>
<rect x="222.05" y="172.91" width="0.60" height="6.01" fill="#1E90FF"/>
<rect x="222.63" y="172.91" width="2.90" height="6.01" fill="#FFCF50"/>
<rect x="225.49" y="172.91" width="0.60" height="6.01" fill="#00BFFF"/>
<rect x="226.07" y="172.91" width="0.60" height="6.01" fill="#1E90FF"/>
<rect x="226.64" y="172.91" width="2.90" height="6.01" fill="#F47C7C"/>
<rect x="229.51" y="172.91" width="0.60" height="6.01" fill="#1E90FF"/>
<rect x="230.08" y="172.91" width="0.60" height="6.01" fill="#00BFFF"/>
<rect x="230.66" y="172.91" width="2.90" height="6.01" fill="#FFCF50"/>
<rect x="233.52" y="172.91" width="1.18" height="6.01" fill="#1E90FF"/>
<rect x="234.67" y="172.91" width="2.90" height="6.01" fill="#F47C7C"/>
<rect x="237.54" y="172.91" width="0.60" height="6.01" fill="#00BFFF"/>
<rect x="238.11" y="172.91" width="0.60" height="6.01" fill="#1E90FF"/>
<rect x="238.68" y="172.91" width="2.90" height="6.01" fill="#FFCF50"/>
<rect x="241.55" y="172.91" width="0.60" height="6.01" fill="#00BFFF"/>
<rect x="242.12" y="172.91" width="0.60" height="6.01" fill="#1E90FF"/>
<rect x="242.70" y="172.91" width="2.90" height="6.01" fill="#F47C7C"/>
<rect x="245.57" y="172.91" width="2.32" height="6.01" fill="#00BFFF"/>
<rect x="247.86" y="172.91" width="0.60" height="6.01" fill="#6CCB3F"/>
<rect x="248.43" y="172.91" width="2.30" height="6.01" fill="#00BFFF"/>
<rect x="41.40" y="164.80" width="4.62" height="8.14" fill="#1E90FF"/>
<rect x="45.99" y="164.80" width="3.47" height="8.14" fill="#00BFFF"/>
<rect x="49.43" y="164.80" width="0.60" height="8.14" fill="#1E90FF"/>
<rect x="50.00" y="164.80" width="3.47" height="8.14" fill="#00BFFF"/>
<rect x="53.44" y="164.80" width="0.60" height="8.14" fill="#1E90FF"/>
<rect x="54.02" y="164.80" width="3.47" height="8.14" fill="#00BFFF"/>
<rect x="57.46" y="164.80" width="0.60" height="8.14" fill="#1E90FF"/>
<rect x="58.03" y="164.80" width="3.47" height="8.14" fill="#00BFFF"/>
<rect x="61.47" y="164.80" width="0.60" height="8.14" fill="#1E90FF"/>
<rect x="62.05" y="164.80" width="3.47" height="8.14" fill="#00BFFF"/>
<rect x="65.49" y="164.80" width="0.60" height="8.14" fill="#1E90FF"/>
<rect x="66.06" y="164.80" width="3.47" height="8.14" fill="#00BFFF"/>
<rect x="69.50" y="164.80" width="0.60" height="8.14" fill="#1E90FF"/>
<rect x="70.08" y="164.80" width="3.47" height="8.14" fill="#00BFFF"/>
<rect x="73.52" y="164.80" width="0.60" height="8.14" fill="#1E90FF"/>
<rect x="74.09" y="164.80" width="3.47" height="8.14" fill="#00BFFF"/>
<rect x="77.53" y="164.80" width="0.60" height="8.14" fill="#1E90FF"/>
<rect x="78.10" y="164.80" width="3.47" height="8.14" fill="#00BFFF"/>
<rect x="81.55" y="164.80" width="0.60" height="8.14" fill="#1E90FF"/>
<rect x="82.12" y="164.80" width="2.90" height="8.14" fill="#00BFFF"/>
<rect x="84.99" y="164.80" width="1.75" height="8.14" fill="#1E90FF"/>
<rect x="86.71" y="164.80" width="2.32" height="8.14" fill="#00BFFF"/>
<rect x="89.00" y="164.80" width="1.75" height="8.14" fill="#1E90FF"/>
<rect x="90.72" y="164.80" width="2.32" height="8.14" fill="#00BFFF"/>
<rect x="93.02" y="164.80" width="1.75" height="8.14" fill="#1E90FF"/>
<rect x="94.74" y="164.80" width="2.32" height="8.14" fill="#00BFFF"/>
<rect x="97.03" y="164.80" width="1.75" height="8.14" fill="#1E90FF"/>
<rect x="98.75" y="164.80" width="2.32" height="8.14" fill="#00BFFF"/>
<rect x="101.04" y="164.80" width="1.75" height="8.14" fill="#1E90FF"/>
<rect x="102.76" y="164.80" width="2.32" height="8.14" fill="#00BFFF"/>
<rect x="105.06" y="164.80" width="1.75" height="8.14" fill="#1E90FF"/>
<rect x="106.78" y="164.80" width="2.32" height="8.14" fill="#00BFFF"/>
<rect x="109.07" y="164.80" width="1.75" height="8.14" fill="#1E90FF"/>
<rect x="110.79" y="164.80" width="2.32" height="8.14" fill="#00BFFF"/>
<rect x="113.09" y="164.80" width="1.75" height="8.14" fill="#1E90FF"/>
<rect x="114.81" y="164.80" width="2.32" height="8.14" fill="#00BFFF"/>
<rect x="117.10" y="164.80" width="1.75" height="8.14" fill="#1E90FF"/>
<rect x="118.82" y="164.80" width="2.32" height="8.14" fill="#00BFFF"/>
<rect x="121.12" y="164.80" width="1.75" height="8.14" fill="#1E90FF"/>
<rect x="122.84" y="164.80" width="2.32" height="8.14" fill="#00BFFF"/>
<rect x="125.13" y="164.80" width="1.75" height="8.14" fill="#1E90FF"/>
<rect x="126.85" y="164.80" width="1.18" height="8.14" fill="#00BFFF"/>
<rect x="128.00" y="164.80" width="0.60" height="8.14" fill="#6CCB3F"/>
<rect x="128.57" y="164.80" width="0.60" height="8.14" fill="#1E90FF"/>
<rect x="129.15" y="164.80" width="1.18" height="8.14" fill="#00BFFF"/>
<rect x="130.29" y="164.80" width="0.60" height="8.14" fill="#1E90FF"/>
<rect x="130.87" y="164.80" width="1.18" height="8.14" fill="#00BFFF"/>
<rect x="132.01" y="164.80" width="1.75" height="8.14" fill="#1E90FF"/>
<rect x="133.73" y="164.80" width="0.60" height="8.14" fill="#00BFFF"/>
<rect x="134.31" y="164.80" width="1.18" height="8.14" fill="#1E90FF"/>
<rect x="135.45" y="164.80" width="1.18" height="8.14" fill="#00BFFF"/>
<rect x="136.60" y="164.80" width="1.18" height="8.14" fill="#FFCF50"/>
<rect x="137.75" y="164.80" width="1.18" height="8.14" fill="#6CCB3F"/>
<rect x="138.90" y="164.80" width="3.47" height="8.14" fill="#FFCF50"/>
<rect x="142.34" y="164.80" width="1.18" height="8.14" fill="#6CCB3F"/>
<rect x="143.48" y="164.80" width="1.18" height="8.14" fill="#FFCF50"/>
<rect x="144.63" y="164.80" width="1.18" height="8.14" fill="#00BFFF"/>
<rect x="145.78" y="164.80" width="0.60" height="8.14" fill="#1E90FF"/>
<rect x="146.35" y="164.80" width="0.60" height="8.14" fill="#00BFFF"/>
<rect x="146.92" y="164.80" width="1.75" height="8.14" fill="#1E90FF"/>
<rect x="148.64" y="164.80" width="0.60" height="8.14" fill="#00BFFF"/>
<rect x="149.22" y="164.80" width="1.18" height="8.14" fill="#1E90FF"/>
<rect x="150.37" y="164.80" width="0.60" height="8.14" fill="#00BFFF"/>
<rect x="150.94" y="164.80" width="9.78" height="8.14" fill="#6CCB3F"/>
<rect x="160.69" y="164.80" width="4.62" height="8.14" fill="#00BFFF"/>
<rect x="165.28" y="164.80" width="5.19" height="8.14" fill="#1E90FF"/>
<rect x="170.44" y="164.80" width="0.60" height="8.14" fill="#00BFFF"/>
<rect x="171.01" y="164.80" width="0.60" height="8.14" fill="#1E90FF"/>
<rect x="171.58" y="164.80" width="0.60" height="8.14" fill="#00BFFF"/>
<rect x="172.16" y="164.80" width="0.60" height="8.14" fill="#1E90FF"/>
<rect x="172.73" y="164.80" width="0.60" height="8.14" fill="#00BFFF"/>
<rect x="173.31" y="164.80" width="4.04" height="8.14" fill="#1E90FF"/>
<rect x="177.32" y="164.80" width="1.18" height="8.14" fill="#00BFFF"/>
<rect x="178.47" y="164.80" width="2.90" height="8.14" fill="#1E90FF"/>
<rect x="181.33" y="164.80" width="1.18" height="8.14" fill="#00BFFF"/>
<rect x="182.48" y="164.80" width="2.32" height="8.14" fill="#1E90FF"/>
<rect x="184.78" y="164.80" width="0.60" height="8.14" fill="#00BFFF"/>
<rect x="185.35" y="164.80" width="2.32" height="8.14" fill="#1E90FF"/>
<rect x="187.64" y="164.80" width="0.60" height="8.14" fill="#00BFFF"/>
<rect x="188.22" y="164.80" width="0.60" height="8.14" fill="#1E90FF"/>
<rect x="188.79" y="164.80" width="0.60" height="8.14" fill="#00BFFF"/>
<rect x="189.36" y="164.80" width="2.90" height="8.14" fill="#1E90FF"/>
<rect x="192.23" y="164.80" width="1.18" height="8.14" fill="#00BFFF"/>
<rect x="193.38" y="164.80" width="4.04" height="8.14" fill="#1E90FF"/>
<rect x="197.39" y="164.80" width="0.60" height="8.14" fill="#00BFFF"/>
<rect x="197.97" y="164.80" width="6.91" height="8.14" fill="#1E90FF"/>
<rect x="204.85" y="164.80" width="0.60" height="8.14" fill="#00BFFF"/>
<rect x="205.42" y="164.80" width="1.18" height="8.14" fill="#1E90FF"/>
<rect x="206.57" y="164.80" width="0.60" height="8.14" fill="#00BFFF"/>
<rect x="207.14" y="164.80" width="6.34" height="8.14" fill="#1E90FF"/>
<rect x="213.45" y="164.80" width="0.60" height="8.14" fill="#00BFFF"/>
<rect x="214.02" y="164.80" width="2.32" height="8.14" fill="#1E90FF"/>
<rect x="216.32" y="164.80" width="0.60" height="8.14" fill="#00BFFF"/>
<rect x="216.89" y="164.80" width="1.75" height="8.14" fill="#1E90FF"/>
<rect x="218.61" y="164.80" width="2.90" height="8.14" fill="#00BFFF"/>
<rect x="221.48" y="164.80" width="1.18" height="8.14" fill="#1E90FF"/>
<rect x="222.63" y="164.80" width="2.90" height="8.14" fill="#00BFFF"/>
<rect x="225.49" y="164.80" width="1.18" height="8.14" fill="#1E90FF"/>
<rect x="226.64" y="164.80" width="2.90" height="8.14" fill="#00BFFF"/>
<rect x="229.51" y="164.80" width="1.18" height="8.14" fill="#1E90FF"/>
<rect x="230.66" y="164.80" width="2.90" height="8.14" fill="#00BFFF"/>
<rect x="233.52" y="164.80" width="1.18" height="8.14" fill="#1E90FF"/>
<rect x="234.67" y="164.80" width="2.90" height="8.14" fill="#00BFFF"/>
<rect x="237.54" y="164.80" width="1.18" height="8.14" fill="#1E90FF"/>
<rect x="238.68" y="164.80" width="2.90" height="8.14" fill="#00BFFF"/>
<rect x="241.55" y="164.80" width="1.18" height="8.14" fill="#1E90FF"/>
<rect x="242.70" y="164.80" width="2.90" height="8.14" fill="#00BFFF"/>
<rect x="245.57" y="164.80" width="1.18" height="8.14" fill="#1E90FF"/>
<rect x="246.71" y="164.80" width="2.90" height="8.14" fill="#00BFFF"/>
<rect x="249.58" y="164.80" width="1.15" height="8.14" fill="#1E90FF"/>
<text x="39.3" y="168.71" font-size="7.1" fill="#555555" text-anchor="end" stroke="#555555">23:00</text>
<rect x="39.6" y="166.26" width="1.6" height="0.5" fill="#999"/>
<text x="39.3" y="175.60" font-size="7.1" fill="#555555" text-anchor="end" stroke="#555555">19:00</text>
<rect x="39.6" y="173.09" width="1.6" height="0.5" fill="#999"/>
<text x="39.3" y="182.49" font-size="7.1" fill="#555555" text-anchor="end" stroke="#555555">15:00</text>
<rect x="39.6" y="179.92" width="1.6" height="0.5" fill="#999"/>
<text x="39.3" y="189.39" font-size="7.1" fill="#555555" text-anchor="end" stroke="#555555">11:00</text>
<rect x="39.6" y="186.76" width="1.6" height="0.5" fill="#999"/>
<text x="39.3" y="196.28" font-size="7.1" fill="#555555" text-anchor="end" stroke="#555555">07:00</text>
<rect x="39.6" y="193.59" width="1.6" height="0.5" fill="#999"/>
<text x="39.3" y="203.17" font-size="7.1" fill="#555555" text-anchor="end" stroke="#555555">03:00</text>
<rect x="39.6" y="200.42" width="1.6" height="0.5" fill="#999"/>
<text x="41.69" y="216.00" font-size="7" fill="#555555" text-anchor="middle" stroke="#555555">Jan</text>
<rect x="41.44" y="205.80" width="0.5" height="1.6" fill="#999"/>
<text x="59.47" y="216.00" font-size="7" fill="#555555" text-anchor="middle" stroke="#555555">Feb</text>
<rect x="59.22" y="205.80" width="0.5" height="1.6" fill="#999"/>
<text x="75.52" y="216.00" font-size="7" fill="#555555" text-anchor="middle" stroke="#555555">Mar</text>
<rect x="75.27" y="205.80" width="0.5" height="1.6" fill="#999"/>
<text x="93.30" y="216.00" font-size="7" fill="#555555" text-anchor="middle" stroke="#555555">Apr</text>
<rect x="93.05" y="205.80" width="0.5" height="1.6" fill="#999"/>
<text x="110.51" y="216.00" font-size="7" fill="#555555" text-anchor="middle" stroke="#555555">May</text>
<rect x="110.26" y="205.80" width="0.5" height="1.6" fill="#999"/>
<text x="128.29" y="216.00" font-size="7" fill="#555555" text-anchor="middle" stroke="#555555">Jun</text>
<rect x="128.04" y="205.80" width="0.5" height="1.6" fill="#999"/>
<text x="145.49" y="216.00" font-size="7" fill="#555555" text-anchor="middle" stroke="#555555">Jul</text>
<rect x="145.24" y="205.80" width="0.5" height="1.6" fill="#999"/>
<text x="163.27" y="216.00" font-size="7" fill="#555555" text-anchor="middle" stroke="#555555">Aug</text>
<rect x="163.02" y="205.80" width="0.5" height="1.6" fill="#999"/>
<text x="181.05" y="216.00" font-size="7" fill="#555555" text-anchor="middle" stroke="#555555">Sep</text>
<rect x="180.80" y="205.80" width="0.5" height="1.6" fill="#999"/>
<text x="198.25" y="216.00" font-size="7" fill="#555555" text-anchor="middle" stroke="#555555">Oct</text>
<rect x="198.00" y="205.80" width="0.5" height="1.6" fill="#999"/>
<text x="216.03" y="216.00" font-size="7" fill="#555555" text-anchor="middle" stroke="#555555">Nov</text>
<rect x="215.78" y="205.80" width="0.5" height="1.6" fill="#999"/>
<text x="233.24" y="216.00" font-size="7" fill="#555555" text-anchor="middle" stroke="#555555">Dec</text>
<rect x="232.99" y="205.80" width="0.5" height="1.6" fill="#999"/>
<rect x="41.4" y="220.00" width="209.30" height="9.9" fill="#D9D9D9"/>
<text x="146.05" y="227.60" font-size="7.2" fill="#1a1a1a" text-anchor="middle" stroke="#1a1a1a">2018</text>
<rect x="41.40" y="260.30" width="39.03" height="11.13" fill="#1E90FF"/>
<rect x="80.40" y="260.30" width="0.60" height="11.13" fill="#00BFFF"/>
<rect x="80.97" y="260.30" width="49.92" height="11.13" fill="#1E90FF"/>
<rect x="130.87" y="260.30" width="0.60" height="11.13" fill="#00BFFF"/>
<rect x="131.44" y="260.30" width="13.79" height="11.13" fill="#1E90FF"/>
<rect x="145.20" y="260.30" width="0.60" height="11.13" fill="#00BFFF"/>
<rect x="145.78" y="260.30" width="104.95" height="11.13" fill="#1E90FF"/>
<rect x="41.40" y="256.02" width="4.04" height="4.30" fill="#1E90FF"/>
<rect x="45.41" y="256.02" width="1.75" height="4.30" fill="#FFCF50"/>
<rect x="47.13" y="256.02" width="0.60" height="4.30" fill="#F47C7C"/>
<rect x="47.71" y="256.02" width="0.60" height="4.30" fill="#1E90FF"/>
<rect x="48.28" y="256.02" width="0.60" height="4.30" fill="#00BFFF"/>
<rect x="48.86" y="256.02" width="0.60" height="4.30" fill="#1E90FF"/>
<rect x="49.43" y="256.02" width="0.60" height="4.30" fill="#FFCF50"/>
<rect x="50.00" y="256.02" width="0.60" height="4.30" fill="#F47C7C"/>
<rect x="50.58" y="256.02" width="1.18" height="4.30" fill="#FFCF50"/>
<rect x="51.72" y="256.02" width="0.60" height="4.30" fill="#00BFFF"/>
<rect x="52.30" y="256.02" width="1.18" height="4.30" fill="#1E90FF"/>
<rect x="53.44" y="256.02" width="2.32" height="4.30" fill="#FFCF50"/>
<rect x="55.74" y="256.02" width="0.60" height="4.30" fill="#1E90FF"/>
<rect x="56.31" y="256.02" width="1.18" height="4.30" fill="#00BFFF"/>
<rect x="57.46" y="256.02" width="2.32" height="4.30" fill="#FFCF50"/>
<rect x="59.75" y="256.02" width="0.60" height="4.30" fill="#00BFFF"/>
<rect x="60.33" y="256.02" width="0.60" height="4.30" fill="#1E90FF"/>
<rect x="60.90" y="256.02" width="0.60" height="4.30" fill="#00BFFF"/>
<rect x="61.47" y="256.02" width="2.32" height="4.30" fill="#FFCF50"/>
<rect x="63.77" y="256.02" width="1.18" height="4.30" fill="#1E90FF"/>
<rect x="64.91" y="256.02" width="0.60" height="4.30" fill="#6CCB3F"/>
<rect x="65.49" y="256.02" width="2.32" height="4.30" fill="#FFCF50"/>
<rect x="67.78" y="256.02" width="0.60" height="4.30" fill="#6CCB3F"/>
<rect x="68.35" y="256.02" width="0.60" height="4.30" fill="#1E90FF"/>
<rect x="68.93" y="256.02" width="0.60" height="4.30" fill="#6CCB3F"/>
<rect x="69.50" y="256.02" width="2.32" height="4.30" fill="#FFCF50"/>
<rect x="71.80" y="256.02" width="0.60" height="4.30" fill="#6CCB3F"/>
<rect x="72.37" y="256.02" width="0.60" height="4.30" fill="#00BFFF"/>
<rect x="72.94" y="256.02" width="0.60" height="4.30" fill="#6CCB3F"/>
<rect x="73.52" y="256.02" width="2.32" height="4.30" fill="#FFCF50"/>
<rect x="75.81" y="256.02" width="1.75" height="4.30" fill="#1E90FF"/>
<rect x="77.53" y="256.02" width="0.60" height="4.30" fill="#FFCF50"/>
<rect x="78.10" y="256.02" width="0.60" height="4.30" fill="#F47C7C"/>
<rect x="78.68" y="256.02" width="1.18" height="4.30" fill="#FFCF50"/>
<rect x="79.82" y="256.02" width="0.60" height="4.30" fill="#6CCB3F"/>
<rect x="80.40" y="256.02" width="0.60" height="4.30" fill="#1E90FF"/>
<rect x="80.97" y="256.02" width="0.60" height="4.30" fill="#00BFFF"/>
<rect x="81.55" y="256.02" width="2.32" height="4.30" fill="#FFCF50"/>
<rect x="83.84" y="256.02" width="0.60" height="4.30" fill="#00BFFF"/>
<rect x="84.41" y="256.02" width="1.18" height="4.30" fill="#1E90FF"/>
<rect x="85.56" y="256.02" width="2.32" height="4.30" fill="#FFCF50"/>
<rect x="87.85" y="256.02" width="0.60" height="4.30" fill="#00BFFF"/>
<rect x="88.43" y="256.02" width="1.18" height="4.30" fill="#1E90FF"/>
<rect x="89.57" y="256.02" width="1.18" height="4.30" fill="#FFCF50"/>
<rect x="90.72" y="256.02" width="0.60" height="4.30" fill="#6CCB3F"/>
<rect x="91.29" y="256.02" width="0.60" height="4.30" fill="#FFCF50"/>
<rect x="91.87" y="256.02" width="0.60" height="4.30" fill="#1E90FF"/>
<rect x="92.44" y="256.02" width="0.60" height="4.30" fill="#6CCB3F"/>
<rect x="93.02" y="256.02" width="0.60" height="4.30" fill="#1E90FF"/>
<rect x="93.59" y="256.02" width="1.18" height="4.30" fill="#FFCF50"/>
<rect x="94.74" y="256.02" width="0.60" height="4.30" fill="#6CCB3F"/>
<rect x="95.31" y="256.02" width="0.60" height="4.30" fill="#FFCF50"/>
<rect x="95.88" y="256.02" width="1.18" height="4.30" fill="#6CCB3F"/>
<rect x="97.03" y="256.02" width="0.60" height="4.30" fill="#1E90FF"/>
<rect x="97.60" y="256.02" width="2.32" height="4.30" fill="#FFCF50"/>
<rect x="99.90" y="256.02" width="0.60" height="4.30" fill="#1E90FF"/>
<rect x="100.47" y="256.02" width="0.60" height="4.30" fill="#00BFFF"/>
<rect x="101.04" y="256.02" width="0.60" height="4.30" fill="#6CCB3F"/>
<rect x="101.62" y="256.02" width="2.32" height="4.30" fill="#FFCF50"/>
<rect x="103.91" y="256.02" width="0.60" height="4.30" fill="#00BFFF"/>
<rect x="104.48" y="256.02" width="0.60" height="4.30" fill="#6CCB3F"/>
<rect x="105.06" y="256.02" width="0.60" height="4.30" fill="#00BFFF"/>
<rect x="105.63" y="256.02" width="0.60" height="4.30" fill="#FFCF50"/>
<rect x="106.21" y="256.02" width="0.60" height="4.30" fill="#6CCB3F"/>
<rect x="106.78" y="256.02" width="1.18" height="4.30" fill="#FFCF50"/>
<rect x="107.93" y="256.02" width="1.18" height="4.30" fill="#1E90FF"/>
<rect x="109.07" y="256.02" width="0.60" height="4.30" fill="#00BFFF"/>
<rect x="109.65" y="256.02" width="0.60" height="4.30" fill="#FFCF50"/>
<rect x="110.22" y="256.02" width="0.60" height="4.30" fill="#6CCB3F"/>
<rect x="110.79" y="256.02" width="0.60" height="4.30" fill="#FFCF50"/>
<rect x="111.37" y="256.02" width="0.60" height="4.30" fill="#6CCB3F"/>
<rect x="111.94" y="256.02" width="0.60" height="4.30" fill="#00BFFF"/>
<rect x="112.51" y="256.02" width="1.18" height="4.30" fill="#1E90FF"/>
<rect x="113.66" y="256.02" width="0.60" height="4.30" fill="#6CCB3F"/>
<rect x="114.23" y="256.02" width="1.18" height="4.30" fill="#FFCF50"/>
<rect x="115.38" y="256.02" width="0.60" height="4.30" fill="#6CCB3F"/>
<rect x="115.96" y="256.02" width="0.60" height="4.30" fill="#1E90FF"/>
<rect x="116.53" y="256.02" width="0.60" height="4.30" fill="#00BFFF"/>
<rect x="117.10" y="256.02" width="0.60" height="4.30" fill="#1E90FF"/>
<rect x="117.68" y="256.02" width="0.60" height="4.30" fill="#FFCF50"/>
<rect x="118.25" y="256.02" width="0.60" height="4.30" fill="#6CCB3F"/>
<rect x="118.82" y="256.02" width="1.18" height="4.30" fill="#FFCF50"/>
<rect x="119.97" y="256.02" width="1.75" height="4.30" fill="#1E90FF"/>
<rect x="121.69" y="256.02" width="2.32" height="4.30" fill="#FFCF50"/>
<rect x="123.98" y="256.02" width="1.75" height="4.30" fill="#1E90FF"/>
<rect x="125.70" y="256.02" width="2.32" height="4.30" fill="#FFCF50"/>
<rect x="128.00" y="256.02" width="1.18" height="4.30" fill="#1E90FF"/>
<rect x="129.15" y="256.02" width="0.60" height="4.30" fill="#6CCB3F"/>
<rect x="129.72" y="256.02" width="0.60" height="4.30" fill="#F47C7C"/>
<rect x="130.29" y="256.02" width="1.75" height="4.30" fill="#FFCF50"/>
<rect x="132.01" y="256.02" width="0.60" height="4.30" fill="#00BFFF"/>
<rect x="132.59" y="256.02" width="1.18" height="4.30" fill="#1E90FF"/>
<rect x="133.73" y="256.02" width="0.60" height="4.30" fill="#F47C7C"/>
<rect x="134.31" y="256.02" width="0.60" height="4.30" fill="#FFCF50"/>
<rect x="134.88" y="256.02" width="0.60" height="4.30" fill="#F47C7C"/>
<rect x="135.45" y="256.02" width="0.60" height="4.30" fill="#FFCF50"/>
<rect x="136.03" y="256.02" width="0.60" height="4.30" fill="#6CCB3F"/>
<rect x="136.60" y="256.02" width="0.60" height="4.30" fill="#00BFFF"/>
<rect x="137.17" y="256.02" width="0.60" height="4.30" fill="#1E90FF"/>
<rect x="137.75" y="256.02" width="1.75" height="4.30" fill="#FFCF50"/>
<rect x="139.47" y="256.02" width="0.60" height="4.30" fill="#F47C7C"/>
<rect x="140.04" y="256.02" width="0.60" height="4.30" fill="#1E90FF"/>
<rect x="140.62" y="256.02" width="0.60" height="4.30" fill="#00BFFF"/>
<rect x="141.19" y="256.02" width="0.60" height="4.30" fill="#1E90FF"/>
<rect x="141.76" y="256.02" width="0.60" height="4.30" fill="#F47C7C"/>
<rect x="142.34" y="256.02" width="1.18" height="4.30" fill="#FFCF50"/>
<rect x="143.48" y="256.02" width="0.60" height="4.30" fill="#F47C7C"/>
<rect x="144.06" y="256.02" width="0.60" height="4.30" fill="#6CCB3F"/>
<rect x="144.63" y="256.02" width="0.60" height="4.30" fill="#1E90FF"/>
<rect x="145.20" y="256.02" width="0.60" height="4.30" fill="#00BFFF"/>
<rect x="145.78" y="256.02" width="1.18" height="4.30" fill="#FFCF50"/>
<rect x="146.92" y="256.02" width="0.60" height="4.30" fill="#F47C7C"/>
<rect x="147.50" y="256.02" width="1.18" height="4.30" fill="#FFCF50"/>
<rect x="148.64" y="256.02" width="0.60" height="4.30" fill="#1E90FF"/>
<rect x="149.22" y="256.02" width="0.60" height="4.30" fill="#6CCB3F"/>
<rect x="149.79" y="256.02" width="1.18" height="4.30" fill="#F47C7C"/>
<rect x="150.94" y="256.02" width="0.60" height="4.30" fill="#FFCF50"/>
<rect x="151.51" y="256.02" width="0.60" height="4.30" fill="#F47C7C"/>
<rect x="152.09" y="256.02" width="0.60" height="4.30" fill="#FFCF50"/>
<rect x="152.66" y="256.02" width="0.60" height="4.30" fill="#1E90FF"/>
<rect x="153.23" y="256.02" width="0.60" height="4.30" fill="#00BFFF"/>
<rect x="153.81" y="256.02" width="0.60" height="4.30" fill="#FFCF50"/>
<rect x="154.38" y="256.02" width="0.60" height="4.30" fill="#F47C7C"/>
<rect x="154.95" y="256.02" width="0.60" height="4.30" fill="#FFCF50"/>
<rect x="155.53" y="256.02" width="0.60" height="4.30" fill="#F47C7C"/>
<rect x="156.10" y="256.02" width="0.60" height="4.30" fill="#FFCF50"/>
<rect x="156.67" y="256.02" width="0.60" height="4.30" fill="#6CCB3F"/>
<rect x="157.25" y="256.02" width="0.60" height="4.30" fill="#1E90FF"/>
<rect x="157.82" y="256.02" width="0.60" height="4.30" fill="#F47C7C"/>
<rect x="158.39" y="256.02" width="0.60" height="4.30" fill="#FFCF50"/>
<rect x="158.97" y="256.02" width="0.60" height="4.30" fill="#F47C7C"/>
<rect x="159.54" y="256.02" width="0.60" height="4.30" fill="#FFCF50"/>
<rect x="160.11" y="256.02" width="0.60" height="4.30" fill="#F47C7C"/>
<rect x="160.69" y="256.02" width="1.18" height="4.30" fill="#1E90FF"/>
<rect x="161.84" y="256.02" width="0.60" height="4.30" fill="#FFCF50"/>
<rect x="162.41" y="256.02" width="1.75" height="4.30" fill="#F47C7C"/>
<rect x="164.13" y="256.02" width="0.60" height="4.30" fill="#FFCF50"/>
<rect x="164.70" y="256.02" width="0.60" height="4.30" fill="#00BFFF"/>
<rect x="165.28" y="256.02" width="0.60" height="4.30" fill="#1E90FF"/>
<rect x="165.85" y="256.02" width="0.60" height="4.30" fill="#F47C7C"/>
<rect x="166.42" y="256.02" width="2.32" height="4.30" fill="#FFCF50"/>
<rect x="168.72" y="256.02" width="5.19" height="4.30" fill="#1E90FF"/>
<rect x="173.88" y="256.02" width="2.90" height="4.30" fill="#6CCB3F"/>
<rect x="176.75" y="256.02" width="1.18" height="4.30" fill="#1E90FF"/>
<rect x="177.89" y="256.02" width="2.90" height="4.30" fill="#FFCF50"/>
<rect x="180.76" y="256.02" width="0.60" height="4.30" fill="#6CCB3F"/>
<rect x="181.33" y="256.02" width="0.60" height="4.30" fill="#1E90FF"/>
<rect x="181.91" y="256.02" width="1.75" height="4.30" fill="#FFCF50"/>
<rect x="183.63" y="256.02" width="0.60" height="4.30" fill="#6CCB3F"/>
<rect x="184.20" y="256.02" width="0.60" height="4.30" fill="#FFCF50"/>
<rect x="184.78" y="256.02" width="0.60" height="4.30" fill="#1E90FF"/>
<rect x="185.35" y="256.02" width="0.60" height="4.30" fill="#00BFFF"/>
<rect x="185.92" y="256.02" width="1.18" height="4.30" fill="#6CCB3F"/>
<rect x="187.07" y="256.02" width="0.60" height="4.30" fill="#FFCF50"/>
<rect x="187.64" y="256.02" width="1.75" height="4.30" fill="#6CCB3F"/>
<rect x="189.36" y="256.02" width="0.60" height="4.30" fill="#1E90FF"/>
<rect x="189.94" y="256.02" width="1.75" height="4.30" fill="#FFCF50"/>
<rect x="191.66" y="256.02" width="1.75" height="4.30" fill="#6CCB3F"/>
<rect x="193.38" y="256.02" width="0.60" height="4.30" fill="#1E90FF"/>
<rect x="193.95" y="256.02" width="0.60" height="4.30" fill="#6CCB3F"/>
<rect x="194.52" y="256.02" width="0.60" height="4.30" fill="#FFCF50"/>
<rect x="195.10" y="256.02" width="1.75" height="4.30" fill="#6CCB3F"/>
<rect x="196.82" y="256.02" width="0.60" height="4.30" fill="#1E90FF"/>
<rect x="197.39" y="256.02" width="0.60" height="4.30" fill="#00BFFF"/>
<rect x="197.97" y="256.02" width="0.60" height="4.30" fill="#FFCF50"/>
<rect x="198.54" y="256.02" width="0.60" height="4.30" fill="#F47C7C"/>
<rect x="199.11" y="256.02" width="1.75" height="4.30" fill="#FFCF50"/>
<rect x="200.83" y="256.02" width="0.60" height="4.30" fill="#1E90FF"/>
<rect x="201.41" y="256.02" width="0.60" height="4.30" fill="#00BFFF"/>
<rect x="201.98" y="256.02" width="0.60" height="4.30" fill="#FFCF50"/>
<rect x="202.55" y="256.02" width="1.18" height="4.30" fill="#F47C7C"/>
<rect x="203.70" y="256.02" width="1.18" height="4.30" fill="#FFCF50"/>
<rect x="204.85" y="256.02" width="0.60" height="4.30" fill="#6CCB3F"/>
<rect x="205.42" y="256.02" width="0.60" height="4.30" fill="#1E90FF"/>
<rect x="205.99" y="256.02" width="2.90" height="4.30" fill="#FFCF50"/>
<rect x="208.86" y="256.02" width="1.18" height="4.30" fill="#00BFFF"/>
<rect x="210.01" y="256.02" width="2.90" height="4.30" fill="#FFCF50"/>
<rect x="212.88" y="256.02" width="0.60" height="4.30" fill="#1E90FF"/>
<rect x="213.45" y="256.02" width="0.60" height="4.30" fill="#00BFFF"/>
<rect x="214.02" y="256.02" width="1.75" height="4.30" fill="#FFCF50"/>
<rect x="215.74" y="256.02" width="0.60" height="4.30" fill="#F47C7C"/>
<rect x="216.32" y="256.02" width="0.60" height="4.30" fill="#FFCF50"/>
<rect x="216.89" y="256.02" width="0.60" height="4.30" fill="#6CCB3F"/>
<rect x="217.46" y="256.02" width="0.60" height="4.30" fill="#1E90FF"/>
<rect x="218.04" y="256.02" width="2.90" height="4.30" fill="#FFCF50"/>
<rect x="220.91" y="256.02" width="1.18" height="4.30" fill="#1E90FF"/>
<rect x="222.05" y="256.02" width="2.90" height="4.30" fill="#FFCF50"/>
<rect x="224.92" y="256.02" width="1.18" height="4.30" fill="#00BFFF"/>
<rect x="226.07" y="256.02" width="2.90" height="4.30" fill="#FFCF50"/>
<rect x="228.93" y="256.02" width="0.60" height="4.30" fill="#6CCB3F"/>
<rect x="229.51" y="256.02" width="0.60" height="4.30" fill="#1E90FF"/>
<rect x="230.08" y="256.02" width="2.90" height="4.30" fill="#FFCF50"/>
<rect x="232.95" y="256.02" width="1.18" height="4.30" fill="#1E90FF"/>
<rect x="234.10" y="256.02" width="0.60" height="4.30" fill="#F47C7C"/>
<rect x="234.67" y="256.02" width="2.32" height="4.30" fill="#FFCF50"/>
<rect x="236.96" y="256.02" width="0.60" height="4.30" fill="#1E90FF"/>
<rect x="237.54" y="256.02" width="0.60" height="4.30" fill="#6CCB3F"/>
<rect x="238.11" y="256.02" width="2.90" height="4.30" fill="#FFCF50"/>
<rect x="240.98" y="256.02" width="1.18" height="4.30" fill="#00BFFF"/>
<rect x="242.12" y="256.02" width="2.90" height="4.30" fill="#FFCF50"/>
<rect x="244.99" y="256.02" width="5.74" height="4.30" fill="#1E90FF"/>
<rect x="41.40" y="244.49" width="2.90" height="11.56" fill="#1E90FF"/>
<rect x="44.27" y="244.49" width="1.18" height="11.56" fill="#F47C7C"/>
<rect x="45.41" y="244.49" width="2.32" height="11.56" fill="#A80C0C"/>
<rect x="47.71" y="244.49" width="0.60" height="11.56" fill="#00BFFF"/>
<rect x="48.28" y="244.49" width="0.60" height="11.56" fill="#1E90FF"/>
<rect x="48.86" y="244.49" width="4.04" height="11.56" fill="#F47C7C"/>
<rect x="52.87" y="244.49" width="0.60" height="11.56" fill="#1E90FF"/>
<rect x="53.44" y="244.49" width="2.32" height="11.56" fill="#A80C0C"/>
<rect x="55.74" y="244.49" width="1.18" height="11.56" fill="#F47C7C"/>
<rect x="56.88" y="244.49" width="0.60" height="11.56" fill="#6CCB3F"/>
<rect x="57.46" y="244.49" width="2.32" height="11.56" fill="#F47C7C"/>
<rect x="59.75" y="244.49" width="0.60" height="11.56" fill="#6CCB3F"/>
<rect x="60.33" y="244.49" width="0.60" height="11.56" fill="#1E90FF"/>
<rect x="60.90" y="244.49" width="0.60" height="11.56" fill="#F47C7C"/>
<rect x="61.47" y="244.49" width="2.32" height="11.56" fill="#A80C0C"/>
<rect x="63.77" y="244.49" width="0.60" height="11.56" fill="#00BFFF"/>
<rect x="64.34" y="244.49" width="0.60" height="11.56" fill="#F47C7C"/>
<rect x="64.91" y="244.49" width="0.60" height="11.56" fill="#00BFFF"/>
<rect x="65.49" y="244.49" width="2.32" height="11.56" fill="#A80C0C"/>
<rect x="67.78" y="244.49" width="0.60" height="11.56" fill="#6CCB3F"/>
<rect x="68.35" y="244.49" width="0.60" height="11.56" fill="#1E90FF"/>
<rect x="68.93" y="244.49" width="0.60" height="11.56" fill="#F47C7C"/>
<rect x="69.50" y="244.49" width="2.32" height="11.56" fill="#A80C0C"/>
<rect x="71.80" y="244.49" width="0.60" height="11.56" fill="#6CCB3F"/>
<rect x="72.37" y="244.49" width="1.18" height="11.56" fill="#1E90FF"/>
<rect x="73.52" y="244.49" width="2.32" height="11.56" fill="#F47C7C"/>
<rect x="75.81" y="244.49" width="0.60" height="11.56" fill="#6CCB3F"/>
<rect x="76.38" y="244.49" width="0.60" height="11.56" fill="#1E90FF"/>
<rect x="76.96" y="244.49" width="0.60" height="11.56" fill="#F47C7C"/>
<rect x="77.53" y="244.49" width="2.32" height="11.56" fill="#A80C0C"/>
<rect x="79.82" y="244.49" width="1.18" height="11.56" fill="#1E90FF"/>
<rect x="80.97" y="244.49" width="0.60" height="11.56" fill="#00BFFF"/>
<rect x="81.55" y="244.49" width="2.32" height="11.56" fill="#A80C0C"/>
<rect x="83.84" y="244.49" width="0.60" height="11.56" fill="#00BFFF"/>
<rect x="84.41" y="244.49" width="1.18" height="11.56" fill="#1E90FF"/>
<rect x="85.56" y="244.49" width="2.32" height="11.56" fill="#F47C7C"/>
<rect x="87.85" y="244.49" width="1.18" height="11.56" fill="#6CCB3F"/>
<rect x="89.00" y="244.49" width="2.90" height="11.56" fill="#F47C7C"/>
<rect x="91.87" y="244.49" width="0.60" height="11.56" fill="#1E90FF"/>
<rect x="92.44" y="244.49" width="0.60" height="11.56" fill="#00BFFF"/>
<rect x="93.02" y="244.49" width="0.60" height="11.56" fill="#1E90FF"/>
<rect x="93.59" y="244.49" width="2.32" height="11.56" fill="#F47C7C"/>
<rect x="95.88" y="244.49" width="0.60" height="11.56" fill="#6CCB3F"/>
<rect x="96.46" y="244.49" width="0.60" height="11.56" fill="#F47C7C"/>
<rect x="97.03" y="244.49" width="0.60" height="11.56" fill="#1E90FF"/>
<rect x="97.60" y="244.49" width="2.32" height="11.56" fill="#A80C0C"/>
<rect x="99.90" y="244.49" width="0.60" height="11.56" fill="#F47C7C"/>
<rect x="100.47" y="244.49" width="0.60" height="11.56" fill="#00BFFF"/>
<rect x="101.04" y="244.49" width="0.60" height="11.56" fill="#F47C7C"/>
<rect x="101.62" y="244.49" width="2.32" height="11.56" fill="#A80C0C"/>
<rect x="103.91" y="244.49" width="1.18" height="11.56" fill="#1E90FF"/>
<rect x="105.06" y="244.49" width="0.60" height="11.56" fill="#00BFFF"/>
<rect x="105.63" y="244.49" width="2.90" height="11.56" fill="#F47C7C"/>
<rect x="108.50" y="244.49" width="0.60" height="11.56" fill="#1E90FF"/>
<rect x="109.07" y="244.49" width="0.60" height="11.56" fill="#F47C7C"/>
<rect x="109.65" y="244.49" width="2.32" height="11.56" fill="#A80C0C"/>
<rect x="111.94" y="244.49" width="0.60" height="11.56" fill="#6CCB3F"/>
<rect x="112.51" y="244.49" width="0.60" height="11.56" fill="#1E90FF"/>
<rect x="113.09" y="244.49" width="0.60" height="11.56" fill="#6CCB3F"/>
<rect x="113.66" y="244.49" width="2.32" height="11.56" fill="#A80C0C"/>
<rect x="115.96" y="244.49" width="0.60" height="11.56" fill="#00BFFF"/>
<rect x="116.53" y="244.49" width="0.60" height="11.56" fill="#1E90FF"/>
<rect x="117.10" y="244.49" width="2.90" height="11.56" fill="#F47C7C"/>
<rect x="119.97" y="244.49" width="1.18" height="11.56" fill="#1E90FF"/>
<rect x="121.12" y="244.49" width="0.60" height="11.56" fill="#00BFFF"/>
<rect x="121.69" y="244.49" width="2.32" height="11.56" fill="#F47C7C"/>
<rect x="123.98" y="244.49" width="0.60" height="11.56" fill="#1E90FF"/>
<rect x="124.56" y="244.49" width="0.60" height="11.56" fill="#00BFFF"/>
<rect x="125.13" y="244.49" width="4.04" height="11.56" fill="#F47C7C"/>
<rect x="129.15" y="244.49" width="0.60" height="11.56" fill="#00BFFF"/>
<rect x="129.72" y="244.49" width="2.32" height="11.56" fill="#A80C0C"/>
<rect x="132.01" y="244.49" width="0.60" height="11.56" fill="#1E90FF"/>
<rect x="132.59" y="244.49" width="0.60" height="11.56" fill="#00BFFF"/>
<rect x="133.16" y="244.49" width="0.60" height="11.56" fill="#6CCB3F"/>
<rect x="133.73" y="244.49" width="2.32" height="11.56" fill="#A80C0C"/>
<rect x="136.03" y="244.49" width="0.60" height="11.56" fill="#F47C7C"/>
<rect x="136.60" y="244.49" width="0.60" height="11.56" fill="#00BFFF"/>
<rect x="137.17" y="244.49" width="0.60" height="11.56" fill="#1E90FF"/>
<rect x="137.75" y="244.49" width="2.32" height="11.56" fill="#A80C0C"/>
<rect x="140.04" y="244.49" width="0.60" height="11.56" fill="#F47C7C"/>
<rect x="140.62" y="244.49" width="0.60" height="11.56" fill="#6CCB3F"/>
<rect x="141.19" y="244.49" width="0.60" height="11.56" fill="#F47C7C"/>
<rect x="141.76" y="244.49" width="2.32" height="11.56" fill="#A80C0C"/>
<rect x="144.06" y="244.49" width="0.60" height="11.56" fill="#F47C7C"/>
<rect x="144.63" y="244.49" width="0.60" height="11.56" fill="#6CCB3F"/>
<rect x="145.20" y="244.49" width="0.60" height="11.56" fill="#1E90FF"/>
<rect x="145.78" y="244.49" width="2.90" height="11.56" fill="#A80C0C"/>
<rect x="148.64" y="244.49" width="0.60" height="11.56" fill="#1E90FF"/>
<rect x="149.22" y="244.49" width="0.60" height="11.56" fill="#6CCB3F"/>
<rect x="149.79" y="244.49" width="2.90" height="11.56" fill="#A80C0C"/>
<rect x="152.66" y="244.49" width="0.60" height="11.56" fill="#F47C7C"/>
<rect x="153.23" y="244.49" width="0.60" height="11.56" fill="#1E90FF"/>
<rect x="153.81" y="244.49" width="2.90" height="11.56" fill="#A80C0C"/>
<rect x="156.67" y="244.49" width="0.60" height="11.56" fill="#F47C7C"/>
<rect x="157.25" y="244.49" width="0.60" height="11.56" fill="#00BFFF"/>
<rect x="157.82" y="244.49" width="2.90" height="11.56" fill="#A80C0C"/>
<rect x="160.69" y="244.49" width="0.60" height="11.56" fill="#F47C7C"/>
<rect x="161.26" y="244.49" width="0.60" height="11.56" fill="#6CCB3F"/>
<rect x="161.84" y="244.49" width="2.32" height="11.56" fill="#F47C7C"/>
<rect x="164.13" y="244.49" width="0.60" height="11.56" fill="#FFCF50"/>
<rect x="164.70" y="244.49" width="0.60" height="11.56" fill="#00BFFF"/>
<rect x="165.28" y="244.49" width="0.60" height="11.56" fill="#1E90FF"/>
<rect x="165.85" y="244.49" width="0.60" height="11.56" fill="#F47C7C"/>
<rect x="166.42" y="244.49" width="1.75" height="11.56" fill="#FFCF50"/>
<rect x="168.14" y="244.49" width="0.60" height="11.56" fill="#F47C7C"/>
<rect x="168.72" y="244.49" width="1.18" height="11.56" fill="#1E90FF"/>
<rect x="169.86" y="244.49" width="1.18" height="11.56" fill="#00BFFF"/>
<rect x="171.01" y="244.49" width="2.90" height="11.56" fill="#1E90FF"/>
<rect x="173.88" y="244.49" width="2.90" height="11.56" fill="#6CCB3F"/>
<rect x="176.75" y="244.49" width="1.18" height="11.56" fill="#1E90FF"/>
<rect x="177.89" y="244.49" width="2.90" height="11.56" fill="#A80C0C"/>
<rect x="180.76" y="244.49" width="1.18" height="11.56" fill="#1E90FF"/>
<rect x="181.91" y="244.49" width="2.90" height="11.56" fill="#A80C0C"/>
<rect x="184.78" y="244.49" width="0.60" height="11.56" fill="#1E90FF"/>
<rect x="185.35" y="244.49" width="0.60" height="11.56" fill="#00BFFF"/>
<rect x="185.92" y="244.49" width="2.90" height="11.56" fill="#A80C0C"/>
<rect x="188.79" y="244.49" width="0.60" height="11.56" fill="#1E90FF"/>
<rect x="189.36" y="244.49" width="0.60" height="11.56" fill="#00BFFF"/>
<rect x="189.94" y="244.49" width="2.90" height="11.56" fill="#F47C7C"/>
<rect x="192.80" y="244.49" width="0.60" height="11.56" fill="#6CCB3F"/>
<rect x="193.38" y="244.49" width="0.60" height="11.56" fill="#1E90FF"/>
<rect x="193.95" y="244.49" width="2.90" height="11.56" fill="#F47C7C"/>
<rect x="196.82" y="244.49" width="1.18" height="11.56" fill="#1E90FF"/>
<rect x="197.97" y="244.49" width="2.90" height="11.56" fill="#A80C0C"/>
<rect x="200.83" y="244.49" width="0.60" height="11.56" fill="#1E90FF"/>
<rect x="201.41" y="244.49" width="0.60" height="11.56" fill="#F47C7C"/>
<rect x="201.98" y="244.49" width="2.90" height="11.56" fill="#A80C0C"/>
<rect x="204.85" y="244.49" width="0.60" height="11.56" fill="#00BFFF"/>
<rect x="205.42" y="244.49" width="0.60" height="11.56" fill="#1E90FF"/>
<rect x="205.99" y="244.49" width="2.90" height="11.56" fill="#A80C0C"/>
<rect x="208.86" y="244.49" width="0.60" height="11.56" fill="#F47C7C"/>
<rect x="209.44" y="244.49" width="0.60" height="11.56" fill="#1E90FF"/>
<rect x="210.01" y="244.49" width="2.90" height="11.56" fill="#A80C0C"/>
<rect x="212.88" y="244.49" width="1.18" height="11.56" fill="#1E90FF"/>
<rect x="214.02" y="244.49" width="2.90" height="11.56" fill="#A80C0C"/>
<rect x="216.89" y="244.49" width="1.18" height="11.56" fill="#1E90FF"/>
<rect x="218.04" y="244.49" width="2.90" height="11.56" fill="#A80C0C"/>
<rect x="220.91" y="244.49" width="0.60" height="11.56" fill="#1E90FF"/>
<rect x="221.48" y="244.49" width="0.60" height="11.56" fill="#6CCB3F"/>
<rect x="222.05" y="244.49" width="2.90" height="11.56" fill="#A80C0C"/>
<rect x="224.92" y="244.49" width="0.60" height="11.56" fill="#1E90FF"/>
<rect x="225.49" y="244.49" width="0.60" height="11.56" fill="#00BFFF"/>
<rect x="226.07" y="244.49" width="2.90" height="11.56" fill="#A80C0C"/>
<rect x="228.93" y="244.49" width="0.60" height="11.56" fill="#00BFFF"/>
<rect x="229.51" y="244.49" width="0.60" height="11.56" fill="#1E90FF"/>
<rect x="230.08" y="244.49" width="2.90" height="11.56" fill="#A80C0C"/>
<rect x="232.95" y="244.49" width="0.60" height="11.56" fill="#00BFFF"/>
<rect x="233.52" y="244.49" width="0.60" height="11.56" fill="#1E90FF"/>
<rect x="234.10" y="244.49" width="2.90" height="11.56" fill="#A80C0C"/>
<rect x="236.96" y="244.49" width="1.18" height="11.56" fill="#F47C7C"/>
<rect x="238.11" y="244.49" width="2.90" height="11.56" fill="#A80C0C"/>
<rect x="240.98" y="244.49" width="0.60" height="11.56" fill="#1E90FF"/>
<rect x="241.55" y="244.49" width="0.60" height="11.56" fill="#F47C7C"/>
<rect x="242.12" y="244.49" width="2.90" height="11.56" fill="#A80C0C"/>
<rect x="244.99" y="244.49" width="1.18" height="11.56" fill="#1E90FF"/>
<rect x="246.14" y="244.49" width="0.60" height="11.56" fill="#00BFFF"/>
<rect x="246.71" y="244.49" width="0.60" height="11.56" fill="#1E90FF"/>
<rect x="247.29" y="244.49" width="0.60" height="11.56" fill="#6CCB3F"/>
<rect x="247.86" y="244.49" width="2.87" height="11.56" fill="#1E90FF"/>
<rect x="41.40" y="238.51" width="4.04" height="6.01" fill="#1E90FF"/>
<rect x="45.41" y="238.51" width="2.32" height="6.01" fill="#FFCF50"/>
<rect x="47.71" y="238.51" width="1.75" height="6.01" fill="#1E90FF"/>
<rect x="49.43" y="238.51" width="2.32" height="6.01" fill="#F47C7C"/>
<rect x="51.72" y="238.51" width="1.75" height="6.01" fill="#1E90FF"/>
<rect x="53.44" y="238.51" width="2.32" height="6.01" fill="#FFCF50"/>
<rect x="55.74" y="238.51" width="1.75" height="6.01" fill="#1E90FF"/>
<rect x="57.46" y="238.51" width="2.32" height="6.01" fill="#FFCF50"/>
<rect x="59.75" y="238.51" width="1.75" height="6.01" fill="#1E90FF"/>
<rect x="61.47" y="238.51" width="2.32" height="6.01" fill="#FFCF50"/>
<rect x="63.77" y="238.51" width="1.75" height="6.01" fill="#1E90FF"/>
<rect x="65.49" y="238.51" width="2.32" height="6.01" fill="#FFCF50"/>
<rect x="67.78" y="238.51" width="1.75" height="6.01" fill="#1E90FF"/>
<rect x="69.50" y="238.51" width="2.32" height="6.01" fill="#FFCF50"/>
<rect x="71.80" y="238.51" width="1.75" height="6.01" fill="#1E90FF"/>
<rect x="73.52" y="238.51" width="2.32" height="6.01" fill="#F47C7C"/>
<rect x="75.81" y="238.51" width="1.75" height="6.01" fill="#1E90FF"/>
<rect x="77.53" y="238.51" width="2.32" height="6.01" fill="#FFCF50"/>
<rect x="79.82" y="238.51" width="1.75" height="6.01" fill="#1E90FF"/>
<rect x="81.55" y="238.51" width="2.32" height="6.01" fill="#FFCF50"/>
<rect x="83.84" y="238.51" width="1.75" height="6.01" fill="#1E90FF"/>
<rect x="85.56" y="238.51" width="2.32" height="6.01" fill="#FFCF50"/>
<rect x="87.85" y="238.51" width="1.75" height="6.01" fill="#1E90FF"/>
<rect x="89.57" y="238.51" width="2.32" height="6.01" fill="#FFCF50"/>
<rect x="91.87" y="238.51" width="1.75" height="6.01" fill="#1E90FF"/>
<rect x="93.59" y="238.51" width="2.32" height="6.01" fill="#F47C7C"/>
<rect x="95.88" y="238.51" width="1.75" height="6.01" fill="#1E90FF"/>
<rect x="97.60" y="238.51" width="2.32" height="6.01" fill="#F47C7C"/>
<rect x="99.90" y="238.51" width="1.75" height="6.01" fill="#1E90FF"/>
<rect x="101.62" y="238.51" width="2.32" height="6.01" fill="#FFCF50"/>
<rect x="103.91" y="238.51" width="1.75" height="6.01" fill="#1E90FF"/>
<rect x="105.63" y="238.51" width="2.32" height="6.01" fill="#F47C7C"/>
<rect x="107.93" y="238.51" width="1.75" height="6.01" fill="#1E90FF"/>
<rect x="109.65" y="238.51" width="2.32" height="6.01" fill="#F47C7C"/>
<rect x="111.94" y="238.51" width="1.75" height="6.01" fill="#1E90FF"/>
<rect x="113.66" y="238.51" width="2.32" height="6.01" fill="#FFCF50"/>
<rect x="115.96" y="238.51" width="1.75" height="6.01" fill="#1E90FF"/>
<rect x="117.68" y="238.51" width="2.32" height="6.01" fill="#FFCF50"/>
<rect x="119.97" y="238.51" width="1.75" height="6.01" fill="#1E90FF"/>
<rect x="121.69" y="238.51" width="2.32" height="6.01" fill="#FFCF50"/>
<rect x="123.98" y="238.51" width="1.75" height="6.01" fill="#1E90FF"/>
<rect x="125.70" y="238.51" width="2.32" height="6.01" fill="#FFCF50"/>
<rect x="128.00" y="238.51" width="1.75" height="6.01" fill="#1E90FF"/>
<rect x="129.72" y="238.51" width="2.32" height="6.01" fill="#F47C7C"/>
<rect x="132.01" y="238.51" width="1.75" height="6.01" fill="#1E90FF"/>
<rect x="133.73" y="238.51" width="2.32" height="6.01" fill="#F47C7C"/>
<rect x="136.03" y="238.51" width="1.75" height="6.01" fill="#1E90FF"/>
<rect x="137.75" y="238.51" width="2.32" height="6.01" fill="#F47C7C"/>
<rect x="140.04" y="238.51" width="1.75" height="6.01" fill="#1E90FF"/>
<rect x="141.76" y="238.51" width="2.32" height="6.01" fill="#F47C7C"/>
<rect x="144.06" y="238.51" width="1.75" height="6.01" fill="#1E90FF"/>
<rect x="145.78" y="238.51" width="2.90" height="6.01" fill="#F47C7C"/>
<rect x="148.64" y="238.51" width="1.18" height="6.01" fill="#1E90FF"/>
<rect x="149.79" y="238.51" width="2.90" height="6.01" fill="#A80C0C"/>
<rect x="152.66" y="238.51" width="1.18" height="6.01" fill="#1E90FF"/>
<rect x="153.81" y="238.51" width="2.90" height="6.01" fill="#F47C7C"/>
<rect x="156.67" y="238.51" width="1.18" height="6.01" fill="#1E90FF"/>
<rect x="157.82" y="238.51" width="2.90" height="6.01" fill="#F47C7C"/>
<rect x="160.69" y="238.51" width="1.18" height="6.01" fill="#1E90FF"/>
<rect x="161.84" y="238.51" width="2.90" height="6.01" fill="#6CCB3F"/>
<rect x="164.70" y="238.51" width="1.18" height="6.01" fill="#1E90FF"/>
<rect x="165.85" y="238.51" width="2.90" height="6.01" fill="#FFCF50"/>
<rect x="168.72" y="238.51" width="5.19" height="6.01" fill="#1E90FF"/>
<rect x="173.88" y="238.51" width="2.90" height="6.01" fill="#6CCB3F"/>
<rect x="176.75" y="238.51" width="1.18" height="6.01" fill="#1E90FF"/>
<rect x="177.89" y="238.51" width="2.90" height="6.01" fill="#00BFFF"/>
<rect x="180.76" y="238.51" width="1.18" height="6.01" fill="#1E90FF"/>
<rect x="181.91" y="238.51" width="2.90" height="6.01" fill="#FFCF50"/>
<rect x="184.78" y="238.51" width="1.18" height="6.01" fill="#1E90FF"/>
<rect x="185.92" y="238.51" width="2.90" height="6.01" fill="#FFCF50"/>
<rect x="188.79" y="238.51" width="1.18" height="6.01" fill="#1E90FF"/>
<rect x="189.94" y="238.51" width="2.90" height="6.01" fill="#F47C7C"/>
<rect x="192.80" y="238.51" width="1.18" height="6.01" fill="#1E90FF"/>
<rect x="193.95" y="238.51" width="2.90" height="6.01" fill="#FFCF50"/>
<rect x="196.82" y="238.51" width="1.18" height="6.01" fill="#1E90FF"/>
<rect x="197.97" y="238.51" width="2.90" height="6.01" fill="#F47C7C"/>
<rect x="200.83" y="238.51" width="1.18" height="6.01" fill="#1E90FF"/>
<rect x="201.98" y="238.51" width="2.90" height="6.01" fill="#FFCF50"/>
<rect x="204.85" y="238.51" width="1.18" height="6.01" fill="#1E90FF"/>
<rect x="205.99" y="238.51" width="2.90" height="6.01" fill="#FFCF50"/>
<rect x="208.86" y="238.51" width="1.18" height="6.01" fill="#1E90FF"/>
<rect x="210.01" y="238.51" width="2.90" height="6.01" fill="#FFCF50"/>
<rect x="212.88" y="238.51" width="1.18" height="6.01" fill="#1E90FF"/>
<rect x="214.02" y="238.51" width="2.90" height="6.01" fill="#FFCF50"/>
<rect x="216.89" y="238.51" width="1.18" height="6.01" fill="#1E90FF"/>
<rect x="218.04" y="238.51" width="2.90" height="6.01" fill="#F47C7C"/>
<rect x="220.91" y="238.51" width="1.18" height="6.01" fill="#1E90FF"/>
<rect x="222.05" y="238.51" width="2.90" height="6.01" fill="#F47C7C"/>
<rect x="224.92" y="238.51" width="1.18" height="6.01" fill="#1E90FF"/>
<rect x="226.07" y="238.51" width="2.90" height="6.01" fill="#F47C7C"/>
<rect x="228.93" y="238.51" width="1.18" height="6.01" fill="#1E90FF"/>
<rect x="230.08" y="238.51" width="2.90" height="6.01" fill="#FFCF50"/>
<rect x="232.95" y="238.51" width="1.18" height="6.01" fill="#1E90FF"/>
<rect x="234.10" y="238.51" width="2.90" height="6.01" fill="#F47C7C"/>
<rect x="236.96" y="238.51" width="1.18" height="6.01" fill="#1E90FF"/>
<rect x="238.11" y="238.51" width="2.90" height="6.01" fill="#FFCF50"/>
<rect x="240.98" y="238.51" width="1.18" height="6.01" fill="#1E90FF"/>
<rect x="242.12" y="238.51" width="2.90" height="6.01" fill="#FFCF50"/>
<rect x="244.99" y="238.51" width="5.74" height="6.01" fill="#1E90FF"/>
<rect x="41.40" y="230.40" width="4.04" height="8.14" fill="#1E90FF"/>
<rect x="45.41" y="230.40" width="2.32" height="8.14" fill="#00BFFF"/>
<rect x="47.71" y="230.40" width="1.75" height="8.14" fill="#1E90FF"/>
<rect x="49.43" y="230.40" width="2.32" height="8.14" fill="#00BFFF"/>
<rect x="51.72" y="230.40" width="1.75" height="8.14" fill="#1E90FF"/>
<rect x="53.44" y="230.40" width="2.32" height="8.14" fill="#00BFFF"/>
<rect x="55.74" y="230.40" width="1.75" height="8.14" fill="#1E90FF"/>
<rect x="57.46" y="230.40" width="2.32" height="8.14" fill="#00BFFF"/>
<rect x="59.75" y="230.40" width="2.32" height="8.14" fill="#1E90FF"/>
<rect x="62.05" y="230.40" width="1.18" height="8.14" fill="#00BFFF"/>
<rect x="63.19" y="230.40" width="2.32" height="8.14" fill="#1E90FF"/>
<rect x="65.49" y="230.40" width="2.90" height="8.14" fill="#00BFFF"/>
<rect x="68.35" y="230.40" width="1.18" height="8.14" fill="#1E90FF"/>
<rect x="69.50" y="230.40" width="2.32" height="8.14" fill="#00BFFF"/>
<rect x="71.80" y="230.40" width="1.75" height="8.14" fill="#1E90FF"/>
<rect x="73.52" y="230.40" width="0.60" height="8.14" fill="#00BFFF"/>
<rect x="74.09" y="230.40" width="0.60" height="8.14" fill="#1E90FF"/>
<rect x="74.66" y="230.40" width="1.18" height="8.14" fill="#00BFFF"/>
<rect x="75.81" y="230.40" width="1.75" height="8.14" fill="#1E90FF"/>
<rect x="77.53" y="230.40" width="2.90" height="8.14" fill="#00BFFF"/>
<rect x="80.40" y="230.40" width="1.18" height="8.14" fill="#1E90FF"/>
<rect x="81.55" y="230.40" width="2.90" height="8.14" fill="#00BFFF"/>
<rect x="84.41" y="230.40" width="1.18" height="8.14" fill="#1E90FF"/>
<rect x="85.56" y="230.40" width="2.90" height="8.14" fill="#00BFFF"/>
<rect x="88.43" y="230.40" width="1.18" height="8.14" fill="#1E90FF"/>
<rect x="89.57" y="230.40" width="1.75" height="8.14" fill="#00BFFF"/>
<rect x="91.29" y="230.40" width="0.60" height="8.14" fill="#1E90FF"/>
<rect x="91.87" y="230.40" width="0.60" height="8.14" fill="#00BFFF"/>
<rect x="92.44" y="230.40" width="1.18" height="8.14" fill="#1E90FF"/>
<rect x="93.59" y="230.40" width="2.90" height="8.14" fill="#00BFFF"/>
<rect x="96.46" y="230.40" width="1.18" height="8.14" fill="#1E90FF"/>
<rect x="97.60" y="230.40" width="0.60" height="8.14" fill="#00BFFF"/>
<rect x="98.18" y="230.40" width="0.60" height="8.14" fill="#1E90FF"/>
<rect x="98.75" y="230.40" width="1.75" height="8.14" fill="#00BFFF"/>
<rect x="100.47" y="230.40" width="1.18" height="8.14" fill="#1E90FF"/>
<rect x="101.62" y="230.40" width="2.90" height="8.14" fill="#00BFFF"/>
<rect x="104.48" y="230.40" width="1.75" height="8.14" fill="#1E90FF"/>
<rect x="106.21" y="230.40" width="1.18" height="8.14" fill="#00BFFF"/>
<rect x="107.35" y="230.40" width="2.32" height="8.14" fill="#1E90FF"/>
<rect x="109.65" y="230.40" width="2.90" height="8.14" fill="#00BFFF"/>
<rect x="112.51" y="230.40" width="1.18" height="8.14" fill="#1E90FF"/>
<rect x="113.66" y="230.40" width="0.60" height="8.14" fill="#00BFFF"/>
<rect x="114.23" y="230.40" width="0.60" height="8.14" fill="#1E90FF"/>
<rect x="114.81" y="230.40" width="1.18" height="8.14" fill="#00BFFF"/>
<rect x="115.96" y="230.40" width="1.75" height="8.14" fill="#1E90FF"/>
<rect x="117.68" y="230.40" width="0.60" height="8.14" fill="#00BFFF"/>
<rect x="118.25" y="230.40" width="0.60" height="8.14" fill="#1E90FF"/>
<rect x="118.82" y="230.40" width="1.75" height="8.14" fill="#00BFFF"/>
<rect x="120.54" y="230.40" width="1.18" height="8.14" fill="#1E90FF"/>
<rect x="121.69" y="230.40" width="2.32" height="8.14" fill="#00BFFF"/>
<rect x="123.98" y="230.40" width="1.75" height="8.14" fill="#1E90FF"/>
<rect x="125.70" y="230.40" width="2.90" height="8.14" fill="#00BFFF"/>
<rect x="128.57" y="230.40" width="1.18" height="8.14" fill="#1E90FF"/>
<rect x="129.72" y="230.40" width="2.32" height="8.14" fill="#00BFFF"/>
<rect x="132.01" y="230.40" width="1.75" height="8.14" fill="#1E90FF"/>
<rect x="133.73" y="230.40" width="1.18" height="8.14" fill="#00BFFF"/>
<rect x="134.88" y="230.40" width="0.60" height="8.14" fill="#1E90FF"/>
<rect x="135.45" y="230.40" width="1.18" height="8.14" fill="#00BFFF"/>
<rect x="136.60" y="230.40" width="1.18" height="8.14" fill="#1E90FF"/>
<rect x="137.75" y="230.40" width="2.90" height="8.14" fill="#00BFFF"/>
<rect x="140.62" y="230.40" width="1.75" height="8.14" fill="#1E90FF"/>
<rect x="142.34" y="230.40" width="1.75" height="8.14" fill="#00BFFF"/>
<rect x="144.06" y="230.40" width="4.04" height="8.14" fill="#1E90FF"/>
<rect x="148.07" y="230.40" width="0.60" height="8.14" fill="#00BFFF"/>
<rect x="148.64" y="230.40" width="1.18" height="8.14" fill="#1E90FF"/>
<rect x="149.79" y="230.40" width="1.18" height="8.14" fill="#00BFFF"/>
<rect x="150.94" y="230.40" width="0.60" height="8.14" fill="#1E90FF"/>
<rect x="151.51" y="230.40" width="1.18" height="8.14" fill="#00BFFF"/>
<rect x="152.66" y="230.40" width="1.18" height="8.14" fill="#1E90FF"/>
<rect x="153.81" y="230.40" width="1.75" height="8.14" fill="#00BFFF"/>
<rect x="155.53" y="230.40" width="2.32" height="8.14" fill="#1E90FF"/>
<rect x="157.82" y="230.40" width="0.60" height="8.14" fill="#00BFFF"/>
<rect x="158.39" y="230.40" width="0.60" height="8.14" fill="#1E90FF"/>
<rect x="158.97" y="230.40" width="0.60" height="8.14" fill="#00BFFF"/>
<rect x="159.54" y="230.40" width="0.60" height="8.14" fill="#1E90FF"/>
<rect x="160.11" y="230.40" width="0.60" height="8.14" fill="#00BFFF"/>
<rect x="160.69" y="230.40" width="2.32" height="8.14" fill="#1E90FF"/>
<rect x="162.98" y="230.40" width="0.60" height="8.14" fill="#00BFFF"/>
<rect x="163.56" y="230.40" width="2.32" height="8.14" fill="#1E90FF"/>
<rect x="165.85" y="230.40" width="0.60" height="8.14" fill="#00BFFF"/>
<rect x="166.42" y="230.40" width="0.60" height="8.14" fill="#1E90FF"/>
<rect x="167.00" y="230.40" width="1.75" height="8.14" fill="#00BFFF"/>
<rect x="168.72" y="230.40" width="9.21" height="8.14" fill="#1E90FF"/>
<rect x="177.89" y="230.40" width="0.60" height="8.14" fill="#00BFFF"/>
<rect x="178.47" y="230.40" width="0.60" height="8.14" fill="#1E90FF"/>
<rect x="179.04" y="230.40" width="0.60" height="8.14" fill="#00BFFF"/>
<rect x="179.61" y="230.40" width="0.60" height="8.14" fill="#1E90FF"/>
<rect x="180.19" y="230.40" width="0.60" height="8.14" fill="#00BFFF"/>
<rect x="180.76" y="230.40" width="2.90" height="8.14" fill="#1E90FF"/>
<rect x="183.63" y="230.40" width="0.60" height="8.14" fill="#00BFFF"/>
<rect x="184.20" y="230.40" width="2.32" height="8.14" fill="#1E90FF"/>
<rect x="186.50" y="230.40" width="0.60" height="8.14" fill="#00BFFF"/>
<rect x="187.07" y="230.40" width="0.60" height="8.14" fill="#1E90FF"/>
<rect x="187.64" y="230.40" width="0.60" height="8.14" fill="#00BFFF"/>
<rect x="188.22" y="230.40" width="4.04" height="8.14" fill="#1E90FF"/>
<rect x="192.23" y="230.40" width="0.60" height="8.14" fill="#00BFFF"/>
<rect x="192.80" y="230.40" width="1.75" height="8.14" fill="#1E90FF"/>
<rect x="194.52" y="230.40" width="1.75" height="8.14" fill="#00BFFF"/>
<rect x="196.25" y="230.40" width="1.75" height="8.14" fill="#1E90FF"/>
<rect x="197.97" y="230.40" width="1.18" height="8.14" fill="#00BFFF"/>
<rect x="199.11" y="230.40" width="1.18" height="8.14" fill="#1E90FF"/>
<rect x="200.26" y="230.40" width="0.60" height="8.14" fill="#00BFFF"/>
<rect x="200.83" y="230.40" width="5.77" height="8.14" fill="#1E90FF"/>
<rect x="206.57" y="230.40" width="0.60" height="8.14" fill="#00BFFF"/>
<rect x="207.14" y="230.40" width="1.18" height="8.14" fill="#1E90FF"/>
<rect x="208.29" y="230.40" width="0.60" height="8.14" fill="#00BFFF"/>
<rect x="208.86" y="230.40" width="1.75" height="8.14" fill="#1E90FF"/>
<rect x="210.58" y="230.40" width="0.60" height="8.14" fill="#00BFFF"/>
<rect x="211.16" y="230.40" width="3.47" height="8.14" fill="#1E90FF"/>
<rect x="214.60" y="230.40" width="0.60" height="8.14" fill="#00BFFF"/>
<rect x="215.17" y="230.40" width="1.18" height="8.14" fill="#1E90FF"/>
<rect x="216.32" y="230.40" width="0.60" height="8.14" fill="#00BFFF"/>
<rect x="216.89" y="230.40" width="3.47" height="8.14" fill="#1E90FF"/>
<rect x="220.33" y="230.40" width="0.60" height="8.14" fill="#00BFFF"/>
<rect x="220.91" y="230.40" width="6.34" height="8.14" fill="#1E90FF"/>
<rect x="227.21" y="230.40" width="0.60" height="8.14" fill="#00BFFF"/>
<rect x="227.79" y="230.40" width="6.34" height="8.14" fill="#1E90FF"/>
<rect x="234.10" y="230.40" width="1.18" height="8.14" fill="#00BFFF"/>
<rect x="235.24" y="230.40" width="1.18" height="8.14" fill="#1E90FF"/>
<rect x="236.39" y="230.40" width="0.60" height="8.14" fill="#00BFFF"/>
<rect x="236.96" y="230.40" width="13.77" height="8.14" fill="#1E90FF"/>
<text x="39.3" y="234.31" font-size="7.1" fill="#555555" text-anchor="end" stroke="#555555">23:00</text>
<rect x="39.6" y="231.86" width="1.6" height="0.5" fill="#999"/>
<text x="39.3" y="241.20" font-size="7.1" fill="#555555" text-anchor="end" stroke="#555555">19:00</text>
<rect x="39.6" y="238.69" width="1.6" height="0.5" fill="#999"/>
<text x="39.3" y="248.09" font-size="7.1" fill="#555555" text-anchor="end" stroke="#555555">15:00</text>
<rect x="39.6" y="245.52" width="1.6" height="0.5" fill="#999"/>
<text x="39.3" y="254.99" font-size="7.1" fill="#555555" text-anchor="end" stroke="#555555">11:00</text>
<rect x="39.6" y="252.36" width="1.6" height="0.5" fill="#999"/>
<text x="39.3" y="261.88" font-size="7.1" fill="#555555" text-anchor="end" stroke="#555555">07:00</text>
<rect x="39.6" y="259.19" width="1.6" height="0.5" fill="#999"/>
<text x="39.3" y="268.77" font-size="7.1" fill="#555555" text-anchor="end" stroke="#555555">03:00</text>
<rect x="39.6" y="266.02" width="1.6" height="0.5" fill="#999"/>
<text x="41.69" y="281.60" font-size="7" fill="#555555" text-anchor="middle" stroke="#555555">Jan</text>
<rect x="41.44" y="271.40" width="0.5" height="1.6" fill="#999"/>
<text x="59.47" y="281.60" font-size="7" fill="#555555" text-anchor="middle" stroke="#555555">Feb</text>
<rect x="59.22" y="271.40" width="0.5" height="1.6" fill="#999"/>
<text x="75.52" y="281.60" font-size="7" fill="#555555" text-anchor="middle" stroke="#555555">Mar</text>
<rect x="75.27" y="271.40" width="0.5" height="1.6" fill="#999"/>
<text x="93.30" y="281.60" font-size="7" fill="#555555" text-anchor="middle" stroke="#555555">Apr</text>
<rect x="93.05" y="271.40" width="0.5" height="1.6" fill="#999"/>
<text x="110.51" y="281.60" font-size="7" fill="#555555" text-anchor="middle" stroke="#555555">May</text>
<rect x="110.26" y="271.40" width="0.5" height="1.6" fill="#999"/>
<text x="128.29" y="281.60" font-size="7" fill="#555555" text-anchor="middle" stroke="#555555">Jun</text>
<rect x="128.04" y="271.40" width="0.5" height="1.6" fill="#999"/>
<text x="145.49" y="281.60" font-size="7" fill="#555555" text-anchor="middle" stroke="#555555">Jul</text>
<rect x="145.24" y="271.40" width="0.5" height="1.6" fill="#999"/>
<text x="163.27" y="281.60" font-size="7" fill="#555555" text-anchor="middle" stroke="#555555">Aug</text>
<rect x="163.02" y="271.40" width="0.5" height="1.6" fill="#999"/>
<text x="181.05" y="281.60" font-size="7" fill="#555555" text-anchor="middle" stroke="#555555">Sep</text>
<rect x="180.80" y="271.40" width="0.5" height="1.6" fill="#999"/>
<text x="198.25" y="281.60" font-size="7" fill="#555555" text-anchor="middle" stroke="#555555">Oct</text>
<rect x="198.00" y="271.40" width="0.5" height="1.6" fill="#999"/>
<text x="216.03" y="281.60" font-size="7" fill="#555555" text-anchor="middle" stroke="#555555">Nov</text>
<rect x="215.78" y="271.40" width="0.5" height="1.6" fill="#999"/>
<text x="233.24" y="281.60" font-size="7" fill="#555555" text-anchor="middle" stroke="#555555">Dec</text>
<rect x="232.99" y="271.40" width="0.5" height="1.6" fill="#999"/>
<rect x="41.4" y="285.60" width="209.30" height="9.9" fill="#D9D9D9"/>
<text x="146.05" y="293.20" font-size="7.2" fill="#1a1a1a" text-anchor="middle" stroke="#1a1a1a">2019</text>
<rect x="41.40" y="325.90" width="100.39" height="11.13" fill="#1E90FF"/>
<rect x="141.76" y="325.90" width="0.60" height="11.13" fill="#6CCB3F"/>
<rect x="142.34" y="325.90" width="3.47" height="11.13" fill="#1E90FF"/>
<rect x="145.78" y="325.90" width="0.60" height="11.13" fill="#6CCB3F"/>
<rect x="146.35" y="325.90" width="3.47" height="11.13" fill="#1E90FF"/>
<rect x="149.79" y="325.90" width="2.32" height="11.13" fill="#00BFFF"/>
<rect x="152.09" y="325.90" width="1.18" height="11.13" fill="#1E90FF"/>
<rect x="153.23" y="325.90" width="2.32" height="11.13" fill="#00BFFF"/>
<rect x="155.53" y="325.90" width="0.60" height="11.13" fill="#1E90FF"/>
<rect x="156.10" y="325.90" width="0.60" height="11.13" fill="#00BFFF"/>
<rect x="156.67" y="325.90" width="0.60" height="11.13" fill="#1E90FF"/>
<rect x="157.25" y="325.90" width="1.18" height="11.13" fill="#00BFFF"/>
<rect x="158.39" y="325.90" width="0.60" height="11.13" fill="#6CCB3F"/>
<rect x="158.97" y="325.90" width="0.60" height="11.13" fill="#00BFFF"/>
<rect x="159.54" y="325.90" width="91.19" height="11.13" fill="#1E90FF"/>
<rect x="41.40" y="321.62" width="0.60" height="4.30" fill="#6CCB3F"/>
<rect x="41.97" y="321.62" width="2.90" height="4.30" fill="#1E90FF"/>
<rect x="44.84" y="321.62" width="2.90" height="4.30" fill="#FFCF50"/>
<rect x="47.71" y="321.62" width="1.18" height="4.30" fill="#1E90FF"/>
<rect x="48.86" y="321.62" width="2.90" height="4.30" fill="#FFCF50"/>
<rect x="51.72" y="321.62" width="1.18" height="4.30" fill="#6CCB3F"/>
<rect x="52.87" y="321.62" width="0.60" height="4.30" fill="#FFCF50"/>
<rect x="53.44" y="321.62" width="0.60" height="4.30" fill="#F47C7C"/>
<rect x="54.02" y="321.62" width="1.75" height="4.30" fill="#FFCF50"/>
<rect x="55.74" y="321.62" width="0.60" height="4.30" fill="#1E90FF"/>
<rect x="56.31" y="321.62" width="0.60" height="4.30" fill="#6CCB3F"/>
<rect x="56.88" y="321.62" width="2.90" height="4.30" fill="#FFCF50"/>
<rect x="59.75" y="321.62" width="0.60" height="4.30" fill="#1E90FF"/>
<rect x="60.33" y="321.62" width="0.60" height="4.30" fill="#00BFFF"/>
<rect x="60.90" y="321.62" width="2.90" height="4.30" fill="#FFCF50"/>
<rect x="63.77" y="321.62" width="0.60" height="4.30" fill="#00BFFF"/>
<rect x="64.34" y="321.62" width="0.60" height="4.30" fill="#1E90FF"/>
<rect x="64.91" y="321.62" width="2.90" height="4.30" fill="#FFCF50"/>
<rect x="67.78" y="321.62" width="0.60" height="4.30" fill="#6CCB3F"/>
<rect x="68.35" y="321.62" width="0.60" height="4.30" fill="#1E90FF"/>
<rect x="68.93" y="321.62" width="2.90" height="4.30" fill="#FFCF50"/>
<rect x="71.80" y="321.62" width="1.18" height="4.30" fill="#1E90FF"/>
<rect x="72.94" y="321.62" width="0.60" height="4.30" fill="#FFCF50"/>
<rect x="73.52" y="321.62" width="0.60" height="4.30" fill="#F47C7C"/>
<rect x="74.09" y="321.62" width="1.75" height="4.30" fill="#FFCF50"/>
<rect x="75.81" y="321.62" width="0.60" height="4.30" fill="#1E90FF"/>
<rect x="76.38" y="321.62" width="0.60" height="4.30" fill="#00BFFF"/>
<rect x="76.96" y="321.62" width="2.32" height="4.30" fill="#FFCF50"/>
<rect x="79.25" y="321.62" width="0.60" height="4.30" fill="#F47C7C"/>
<rect x="79.82" y="321.62" width="0.60" height="4.30" fill="#1E90FF"/>
<rect x="80.40" y="321.62" width="0.60" height="4.30" fill="#6CCB3F"/>
<rect x="80.97" y="321.62" width="2.90" height="4.30" fill="#FFCF50"/>
<rect x="83.84" y="321.62" width="1.18" height="4.30" fill="#1E90FF"/>
<rect x="84.99" y="321.62" width="1.75" height="4.30" fill="#FFCF50"/>
<rect x="86.71" y="321.62" width="0.60" height="4.30" fill="#F47C7C"/>
<rect x="87.28" y="321.62" width="0.60" height="4.30" fill="#FFCF50"/>
<rect x="87.85" y="321.62" width="0.60" height="4.30" fill="#00BFFF"/>
<rect x="88.43" y="321.62" width="0.60" height="4.30" fill="#1E90FF"/>
<rect x="89.00" y="321.62" width="1.75" height="4.30" fill="#FFCF50"/>
<rect x="90.72" y="321.62" width="0.60" height="4.30" fill="#F47C7C"/>
<rect x="91.29" y="321.62" width="0.60" height="4.30" fill="#FFCF50"/>
<rect x="91.87" y="321.62" width="1.18" height="4.30" fill="#1E90FF"/>
<rect x="93.02" y="321.62" width="0.60" height="4.30" fill="#F47C7C"/>
<rect x="93.59" y="321.62" width="2.32" height="4.30" fill="#FFCF50"/>
<rect x="95.88" y="321.62" width="1.18" height="4.30" fill="#1E90FF"/>
<rect x="97.03" y="321.62" width="2.90" height="4.30" fill="#6CCB3F"/>
<rect x="99.90" y="321.62" width="0.60" height="4.30" fill="#1E90FF"/>
<rect x="100.47" y="321.62" width="0.60" height="4.30" fill="#6CCB3F"/>
<rect x="101.04" y="321.62" width="1.18" height="4.30" fill="#FFCF50"/>
<rect x="102.19" y="321.62" width="0.60" height="4.30" fill="#6CCB3F"/>
<rect x="102.76" y="321.62" width="2.90" height="4.30" fill="#00BFFF"/>
<rect x="105.63" y="321.62" width="1.18" height="4.30" fill="#FFCF50"/>
<rect x="106.78" y="321.62" width="1.18" height="4.30" fill="#6CCB3F"/>
<rect x="107.93" y="321.62" width="1.18" height="4.30" fill="#1E90FF"/>
<rect x="109.07" y="321.62" width="1.18" height="4.30" fill="#6CCB3F"/>
<rect x="110.22" y="321.62" width="1.75" height="4.30" fill="#FFCF50"/>
<rect x="111.94" y="321.62" width="1.18" height="4.30" fill="#1E90FF"/>
<rect x="113.09" y="321.62" width="0.60" height="4.30" fill="#6CCB3F"/>
<rect x="113.66" y="321.62" width="1.75" height="4.30" fill="#FFCF50"/>
<rect x="115.38" y="321.62" width="0.60" height="4.30" fill="#6CCB3F"/>
<rect x="115.96" y="321.62" width="1.18" height="4.30" fill="#1E90FF"/>
<rect x="117.10" y="321.62" width="0.60" height="4.30" fill="#6CCB3F"/>
<rect x="117.68" y="321.62" width="1.18" height="4.30" fill="#FFCF50"/>
<rect x="118.82" y="321.62" width="1.18" height="4.30" fill="#6CCB3F"/>
<rect x="119.97" y="321.62" width="1.18" height="4.30" fill="#1E90FF"/>
<rect x="121.12" y="321.62" width="0.60" height="4.30" fill="#FFCF50"/>
<rect x="121.69" y="321.62" width="0.60" height="4.30" fill="#6CCB3F"/>
<rect x="122.26" y="321.62" width="0.60" height="4.30" fill="#FFCF50"/>
<rect x="122.84" y="321.62" width="2.90" height="4.30" fill="#6CCB3F"/>
<rect x="125.70" y="321.62" width="0.60" height="4.30" fill="#FFCF50"/>
<rect x="126.28" y="321.62" width="1.75" height="4.30" fill="#6CCB3F"/>
<rect x="128.00" y="321.62" width="1.18" height="4.30" fill="#00BFFF"/>
<rect x="129.15" y="321.62" width="1.18" height="4.30" fill="#F47C7C"/>
<rect x="130.29" y="321.62" width="0.60" height="4.30" fill="#FFCF50"/>
<rect x="130.87" y="321.62" width="1.18" height="4.30" fill="#F47C7C"/>
<rect x="132.01" y="321.62" width="1.18" height="4.30" fill="#6CCB3F"/>
<rect x="133.16" y="321.62" width="0.60" height="4.30" fill="#FFCF50"/>
<rect x="133.73" y="321.62" width="1.18" height="4.30" fill="#F47C7C"/>
<rect x="134.88" y="321.62" width="1.18" height="4.30" fill="#FFCF50"/>
<rect x="136.03" y="321.62" width="0.60" height="4.30" fill="#1E90FF"/>
<rect x="136.60" y="321.62" width="0.60" height="4.30" fill="#6CCB3F"/>
<rect x="137.17" y="321.62" width="1.18" height="4.30" fill="#FFCF50"/>
<rect x="138.32" y="321.62" width="0.60" height="4.30" fill="#F47C7C"/>
<rect x="138.90" y="321.62" width="0.60" height="4.30" fill="#FFCF50"/>
<rect x="139.47" y="321.62" width="0.60" height="4.30" fill="#F47C7C"/>
<rect x="140.04" y="321.62" width="1.18" height="4.30" fill="#1E90FF"/>
<rect x="141.19" y="321.62" width="0.60" height="4.30" fill="#F47C7C"/>
<rect x="141.76" y="321.62" width="2.32" height="4.30" fill="#FFCF50"/>
<rect x="144.06" y="321.62" width="0.60" height="4.30" fill="#6CCB3F"/>
<rect x="144.63" y="321.62" width="0.60" height="4.30" fill="#1E90FF"/>
<rect x="145.20" y="321.62" width="1.18" height="4.30" fill="#F47C7C"/>
<rect x="146.35" y="321.62" width="1.18" height="4.30" fill="#FFCF50"/>
<rect x="147.50" y="321.62" width="0.60" height="4.30" fill="#F47C7C"/>
<rect x="148.07" y="321.62" width="1.18" height="4.30" fill="#1E90FF"/>
<rect x="149.22" y="321.62" width="0.60" height="4.30" fill="#F47C7C"/>
<rect x="149.79" y="321.62" width="0.60" height="4.30" fill="#FFCF50"/>
<rect x="150.37" y="321.62" width="0.60" height="4.30" fill="#F47C7C"/>
<rect x="150.94" y="321.62" width="0.60" height="4.30" fill="#FFCF50"/>
<rect x="151.51" y="321.62" width="0.60" height="4.30" fill="#F47C7C"/>
<rect x="152.09" y="321.62" width="1.18" height="4.30" fill="#6CCB3F"/>
<rect x="153.23" y="321.62" width="1.75" height="4.30" fill="#FFCF50"/>
<rect x="154.95" y="321.62" width="0.60" height="4.30" fill="#F47C7C"/>
<rect x="155.53" y="321.62" width="0.60" height="4.30" fill="#FFCF50"/>
<rect x="156.10" y="321.62" width="1.18" height="4.30" fill="#1E90FF"/>
<rect x="157.25" y="321.62" width="1.18" height="4.30" fill="#F47C7C"/>
<rect x="158.39" y="321.62" width="1.18" height="4.30" fill="#FFCF50"/>
<rect x="159.54" y="321.62" width="0.60" height="4.30" fill="#F47C7C"/>
<rect x="160.11" y="321.62" width="0.60" height="4.30" fill="#1E90FF"/>
<rect x="160.69" y="321.62" width="0.60" height="4.30" fill="#00BFFF"/>
<rect x="161.26" y="321.62" width="1.18" height="4.30" fill="#FFCF50"/>
<rect x="162.41" y="321.62" width="0.60" height="4.30" fill="#F47C7C"/>
<rect x="162.98" y="321.62" width="1.18" height="4.30" fill="#FFCF50"/>
<rect x="164.13" y="321.62" width="0.60" height="4.30" fill="#6CCB3F"/>
<rect x="164.70" y="321.62" width="0.60" height="4.30" fill="#1E90FF"/>
<rect x="165.28" y="321.62" width="2.90" height="4.30" fill="#FFCF50"/>
<rect x="168.14" y="321.62" width="6.34" height="4.30" fill="#1E90FF"/>
<rect x="174.45" y="321.62" width="1.75" height="4.30" fill="#6CCB3F"/>
<rect x="176.17" y="321.62" width="1.18" height="4.30" fill="#1E90FF"/>
<rect x="177.32" y="321.62" width="2.90" height="4.30" fill="#FFCF50"/>
<rect x="180.19" y="321.62" width="0.60" height="4.30" fill="#6CCB3F"/>
<rect x="180.76" y="321.62" width="0.60" height="4.30" fill="#1E90FF"/>
<rect x="181.33" y="321.62" width="2.90" height="4.30" fill="#FFCF50"/>
<rect x="184.20" y="321.62" width="0.60" height="4.30" fill="#00BFFF"/>
<rect x="184.78" y="321.62" width="0.60" height="4.30" fill="#1E90FF"/>
<rect x="185.35" y="321.62" width="2.90" height="4.30" fill="#FFCF50"/>
<rect x="188.22" y="321.62" width="1.18" height="4.30" fill="#1E90FF"/>
<rect x="189.36" y="321.62" width="0.60" height="4.30" fill="#F47C7C"/>
<rect x="189.94" y="321.62" width="2.32" height="4.30" fill="#FFCF50"/>
<rect x="192.23" y="321.62" width="1.18" height="4.30" fill="#1E90FF"/>
<rect x="193.38" y="321.62" width="0.60" height="4.30" fill="#FFCF50"/>
<rect x="193.95" y="321.62" width="1.18" height="4.30" fill="#F47C7C"/>
<rect x="195.10" y="321.62" width="1.18" height="4.30" fill="#FFCF50"/>
<rect x="196.25" y="321.62" width="0.60" height="4.30" fill="#6CCB3F"/>
<rect x="196.82" y="321.62" width="0.60" height="4.30" fill="#1E90FF"/>
<rect x="197.39" y="321.62" width="2.90" height="4.30" fill="#FFCF50"/>
<rect x="200.26" y="321.62" width="1.18" height="4.30" fill="#1E90FF"/>
<rect x="201.41" y="321.62" width="2.90" height="4.30" fill="#FFCF50"/>
<rect x="204.27" y="321.62" width="1.18" height="4.30" fill="#1E90FF"/>
<rect x="205.42" y="321.62" width="1.18" height="4.30" fill="#FFCF50"/>
<rect x="206.57" y="321.62" width="0.60" height="4.30" fill="#F47C7C"/>
<rect x="207.14" y="321.62" width="1.18" height="4.30" fill="#FFCF50"/>
<rect x="208.29" y="321.62" width="1.18" height="4.30" fill="#1E90FF"/>
<rect x="209.44" y="321.62" width="2.90" height="4.30" fill="#FFCF50"/>
<rect x="212.30" y="321.62" width="0.60" height="4.30" fill="#00BFFF"/>
<rect x="212.88" y="321.62" width="0.60" height="4.30" fill="#1E90FF"/>
<rect x="213.45" y="321.62" width="1.18" height="4.30" fill="#F47C7C"/>
<rect x="214.60" y="321.62" width="1.75" height="4.30" fill="#FFCF50"/>
<rect x="216.32" y="321.62" width="1.18" height="4.30" fill="#1E90FF"/>
<rect x="217.46" y="321.62" width="1.18" height="4.30" fill="#FFCF50"/>
<rect x="218.61" y="321.62" width="0.60" height="4.30" fill="#F47C7C"/>
<rect x="219.19" y="321.62" width="0.60" height="4.30" fill="#FFCF50"/>
<rect x="219.76" y="321.62" width="0.60" height="4.30" fill="#F47C7C"/>
<rect x="220.33" y="321.62" width="1.18" height="4.30" fill="#1E90FF"/>
<rect x="221.48" y="321.62" width="2.90" height="4.30" fill="#FFCF50"/>
<rect x="224.35" y="321.62" width="1.18" height="4.30" fill="#1E90FF"/>
<rect x="225.49" y="321.62" width="1.18" height="4.30" fill="#FFCF50"/>
<rect x="226.64" y="321.62" width="0.60" height="4.30" fill="#F47C7C"/>
<rect x="227.21" y="321.62" width="1.18" height="4.30" fill="#FFCF50"/>
<rect x="228.36" y="321.62" width="0.60" height="4.30" fill="#1E90FF"/>
<rect x="228.93" y="321.62" width="0.60" height="4.30" fill="#6CCB3F"/>
<rect x="229.51" y="321.62" width="0.60" height="4.30" fill="#F47C7C"/>
<rect x="230.08" y="321.62" width="2.32" height="4.30" fill="#FFCF50"/>
<rect x="232.38" y="321.62" width="0.60" height="4.30" fill="#6CCB3F"/>
<rect x="232.95" y="321.62" width="0.60" height="4.30" fill="#1E90FF"/>
<rect x="233.52" y="321.62" width="2.32" height="4.30" fill="#FFCF50"/>
<rect x="235.82" y="321.62" width="0.60" height="4.30" fill="#F47C7C"/>
<rect x="236.39" y="321.62" width="1.18" height="4.30" fill="#1E90FF"/>
<rect x="237.54" y="321.62" width="2.90" height="4.30" fill="#FFCF50"/>
<rect x="240.40" y="321.62" width="1.18" height="4.30" fill="#1E90FF"/>
<rect x="241.55" y="321.62" width="0.60" height="4.30" fill="#FFCF50"/>
<rect x="242.12" y="321.62" width="0.60" height="4.30" fill="#F47C7C"/>
<rect x="242.70" y="321.62" width="1.75" height="4.30" fill="#FFCF50"/>
<rect x="244.42" y="321.62" width="6.31" height="4.30" fill="#1E90FF"/>
<rect x="41.40" y="310.09" width="0.60" height="11.56" fill="#6CCB3F"/>
<rect x="41.97" y="310.09" width="2.90" height="11.56" fill="#1E90FF"/>
<rect x="44.84" y="310.09" width="2.90" height="11.56" fill="#A80C0C"/>
<rect x="47.71" y="310.09" width="1.18" height="11.56" fill="#1E90FF"/>
<rect x="48.86" y="310.09" width="2.90" height="11.56" fill="#A80C0C"/>
<rect x="51.72" y="310.09" width="0.60" height="11.56" fill="#00BFFF"/>
<rect x="52.30" y="310.09" width="0.60" height="11.56" fill="#1E90FF"/>
<rect x="52.87" y="310.09" width="2.90" height="11.56" fill="#F47C7C"/>
<rect x="55.74" y="310.09" width="1.18" height="11.56" fill="#1E90FF"/>
<rect x="56.88" y="310.09" width="3.47" height="11.56" fill="#F47C7C"/>
<rect x="60.33" y="310.09" width="0.60" height="11.56" fill="#1E90FF"/>
<rect x="60.90" y="310.09" width="3.47" height="11.56" fill="#F47C7C"/>
<rect x="64.34" y="310.09" width="0.60" height="11.56" fill="#1E90FF"/>
<rect x="64.91" y="310.09" width="2.90" height="11.56" fill="#F47C7C"/>
<rect x="67.78" y="310.09" width="1.18" height="11.56" fill="#1E90FF"/>
<rect x="68.93" y="310.09" width="3.47" height="11.56" fill="#F47C7C"/>
<rect x="72.37" y="310.09" width="0.60" height="11.56" fill="#1E90FF"/>
<rect x="72.94" y="310.09" width="2.90" height="11.56" fill="#F47C7C"/>
<rect x="75.81" y="310.09" width="0.60" height="11.56" fill="#1E90FF"/>
<rect x="76.38" y="310.09" width="0.60" height="11.56" fill="#00BFFF"/>
<rect x="76.96" y="310.09" width="3.47" height="11.56" fill="#F47C7C"/>
<rect x="80.40" y="310.09" width="0.60" height="11.56" fill="#1E90FF"/>
<rect x="80.97" y="310.09" width="2.90" height="11.56" fill="#F47C7C"/>
<rect x="83.84" y="310.09" width="1.18" height="11.56" fill="#1E90FF"/>
<rect x="84.99" y="310.09" width="2.90" height="11.56" fill="#F47C7C"/>
<rect x="87.85" y="310.09" width="1.18" height="11.56" fill="#1E90FF"/>
<rect x="89.00" y="310.09" width="2.90" height="11.56" fill="#F47C7C"/>
<rect x="91.87" y="310.09" width="1.18" height="11.56" fill="#1E90FF"/>
<rect x="93.02" y="310.09" width="2.90" height="11.56" fill="#F47C7C"/>
<rect x="95.88" y="310.09" width="1.18" height="11.56" fill="#1E90FF"/>
<rect x="97.03" y="310.09" width="2.90" height="11.56" fill="#F47C7C"/>
<rect x="99.90" y="310.09" width="1.18" height="11.56" fill="#1E90FF"/>
<rect x="101.04" y="310.09" width="1.18" height="11.56" fill="#FFCF50"/>
<rect x="102.19" y="310.09" width="0.60" height="11.56" fill="#6CCB3F"/>
<rect x="102.76" y="310.09" width="2.90" height="11.56" fill="#00BFFF"/>
<rect x="105.63" y="310.09" width="0.60" height="11.56" fill="#6CCB3F"/>
<rect x="106.21" y="310.09" width="1.75" height="11.56" fill="#FFCF50"/>
<rect x="107.93" y="310.09" width="1.18" height="11.56" fill="#1E90FF"/>
<rect x="109.07" y="310.09" width="2.90" height="11.56" fill="#F47C7C"/>
<rect x="111.94" y="310.09" width="1.18" height="11.56" fill="#1E90FF"/>
<rect x="113.09" y="310.09" width="0.60" height="11.56" fill="#F47C7C"/>
<rect x="113.66" y="310.09" width="0.60" height="11.56" fill="#FFCF50"/>
<rect x="114.23" y="310.09" width="0.60" height="11.56" fill="#F47C7C"/>
<rect x="114.81" y="310.09" width="0.60" height="11.56" fill="#FFCF50"/>
<rect x="115.38" y="310.09" width="0.60" height="11.56" fill="#6CCB3F"/>
<rect x="115.96" y="310.09" width="0.60" height="11.56" fill="#F47C7C"/>
<rect x="116.53" y="310.09" width="0.60" height="11.56" fill="#1E90FF"/>
<rect x="117.10" y="310.09" width="0.60" height="11.56" fill="#F47C7C"/>
<rect x="117.68" y="310.09" width="1.18" height="11.56" fill="#FFCF50"/>
<rect x="118.82" y="310.09" width="0.60" height="11.56" fill="#F47C7C"/>
<rect x="119.40" y="310.09" width="0.60" height="11.56" fill="#6CCB3F"/>
<rect x="119.97" y="310.09" width="1.18" height="11.56" fill="#1E90FF"/>
<rect x="121.12" y="310.09" width="3.47" height="11.56" fill="#F47C7C"/>
<rect x="124.56" y="310.09" width="0.60" height="11.56" fill="#1E90FF"/>
<rect x="125.13" y="310.09" width="3.47" height="11.56" fill="#F47C7C"/>
<rect x="128.57" y="310.09" width="0.60" height="11.56" fill="#1E90FF"/>
<rect x="129.15" y="310.09" width="2.90" height="11.56" fill="#A80C0C"/>
<rect x="132.01" y="310.09" width="0.60" height="11.56" fill="#1E90FF"/>
<rect x="132.59" y="310.09" width="0.60" height="11.56" fill="#F47C7C"/>
<rect x="133.16" y="310.09" width="2.90" height="11.56" fill="#A80C0C"/>
<rect x="136.03" y="310.09" width="1.18" height="11.56" fill="#1E90FF"/>
<rect x="137.17" y="310.09" width="2.90" height="11.56" fill="#A80C0C"/>
<rect x="140.04" y="310.09" width="0.60" height="11.56" fill="#F47C7C"/>
<rect x="140.62" y="310.09" width="0.60" height="11.56" fill="#1E90FF"/>
<rect x="141.19" y="310.09" width="2.90" height="11.56" fill="#A80C0C"/>
<rect x="144.06" y="310.09" width="1.18" height="11.56" fill="#1E90FF"/>
<rect x="145.20" y="310.09" width="2.90" height="11.56" fill="#A80C0C"/>
<rect x="148.07" y="310.09" width="0.60" height="11.56" fill="#00BFFF"/>
<rect x="148.64" y="310.09" width="0.60" height="11.56" fill="#1E90FF"/>
<rect x="149.22" y="310.09" width="2.90" height="11.56" fill="#A80C0C"/>
<rect x="152.09" y="310.09" width="1.18" height="11.56" fill="#1E90FF"/>
<rect x="153.23" y="310.09" width="2.90" height="11.56" fill="#A80C0C"/>
<rect x="156.10" y="310.09" width="0.60" height="11.56" fill="#00BFFF"/>
<rect x="156.67" y="310.09" width="0.60" height="11.56" fill="#1E90FF"/>
<rect x="157.25" y="310.09" width="2.90" height="11.56" fill="#A80C0C"/>
<rect x="160.11" y="310.09" width="1.18" height="11.56" fill="#1E90FF"/>
<rect x="161.26" y="310.09" width="1.18" height="11.56" fill="#FFCF50"/>
<rect x="162.41" y="310.09" width="1.18" height="11.56" fill="#F47C7C"/>
<rect x="163.56" y="310.09" width="0.60" height="11.56" fill="#FFCF50"/>
<rect x="164.13" y="310.09" width="1.18" height="11.56" fill="#1E90FF"/>
<rect x="165.28" y="310.09" width="1.75" height="11.56" fill="#F47C7C"/>
<rect x="167.00" y="310.09" width="0.60" height="11.56" fill="#FFCF50"/>
<rect x="167.57" y="310.09" width="0.60" height="11.56" fill="#F47C7C"/>
<rect x="168.14" y="310.09" width="1.75" height="11.56" fill="#1E90FF"/>
<rect x="169.86" y="310.09" width="1.75" height="11.56" fill="#00BFFF"/>
<rect x="171.58" y="310.09" width="2.90" height="11.56" fill="#1E90FF"/>
<rect x="174.45" y="310.09" width="1.75" height="11.56" fill="#6CCB3F"/>
<rect x="176.17" y="310.09" width="1.18" height="11.56" fill="#1E90FF"/>
<rect x="177.32" y="310.09" width="2.90" height="11.56" fill="#A80C0C"/>
<rect x="180.19" y="310.09" width="0.60" height="11.56" fill="#F47C7C"/>
<rect x="180.76" y="310.09" width="0.60" height="11.56" fill="#1E90FF"/>
<rect x="181.33" y="310.09" width="4.04" height="11.56" fill="#F47C7C"/>
<rect x="185.35" y="310.09" width="2.90" height="11.56" fill="#A80C0C"/>
<rect x="188.22" y="310.09" width="0.60" height="11.56" fill="#F47C7C"/>
<rect x="188.79" y="310.09" width="0.60" height="11.56" fill="#1E90FF"/>
<rect x="189.36" y="310.09" width="2.90" height="11.56" fill="#F47C7C"/>
<rect x="192.23" y="310.09" width="1.18" height="11.56" fill="#1E90FF"/>
<rect x="193.38" y="310.09" width="2.90" height="11.56" fill="#A80C0C"/>
<rect x="196.25" y="310.09" width="1.18" height="11.56" fill="#1E90FF"/>
<rect x="197.39" y="310.09" width="2.90" height="11.56" fill="#A80C0C"/>
<rect x="200.26" y="310.09" width="1.18" height="11.56" fill="#1E90FF"/>
<rect x="201.41" y="310.09" width="3.47" height="11.56" fill="#F47C7C"/>
<rect x="204.85" y="310.09" width="0.60" height="11.56" fill="#1E90FF"/>
<rect x="205.42" y="310.09" width="2.90" height="11.56" fill="#A80C0C"/>
<rect x="208.29" y="310.09" width="0.60" height="11.56" fill="#1E90FF"/>
<rect x="208.86" y="310.09" width="0.60" height="11.56" fill="#F47C7C"/>
<rect x="209.44" y="310.09" width="2.90" height="11.56" fill="#A80C0C"/>
<rect x="212.30" y="310.09" width="1.18" height="11.56" fill="#1E90FF"/>
<rect x="213.45" y="310.09" width="2.90" height="11.56" fill="#A80C0C"/>
<rect x="216.32" y="310.09" width="1.18" height="11.56" fill="#1E90FF"/>
<rect x="217.46" y="310.09" width="2.90" height="11.56" fill="#A80C0C"/>
<rect x="220.33" y="310.09" width="0.60" height="11.56" fill="#F47C7C"/>
<rect x="220.91" y="310.09" width="0.60" height="11.56" fill="#1E90FF"/>
<rect x="221.48" y="310.09" width="2.90" height="11.56" fill="#A80C0C"/>
<rect x="224.35" y="310.09" width="1.18" height="11.56" fill="#1E90FF"/>
<rect x="225.49" y="310.09" width="2.90" height="11.56" fill="#A80C0C"/>
<rect x="228.36" y="310.09" width="1.18" height="11.56" fill="#1E90FF"/>
<rect x="229.51" y="310.09" width="2.90" height="11.56" fill="#A80C0C"/>
<rect x="232.38" y="310.09" width="0.60" height="11.56" fill="#00BFFF"/>
<rect x="232.95" y="310.09" width="0.60" height="11.56" fill="#1E90FF"/>
<rect x="233.52" y="310.09" width="2.90" height="11.56" fill="#A80C0C"/>
<rect x="236.39" y="310.09" width="0.60" height="11.56" fill="#00BFFF"/>
<rect x="236.96" y="310.09" width="0.60" height="11.56" fill="#1E90FF"/>
<rect x="237.54" y="310.09" width="2.90" height="11.56" fill="#A80C0C"/>
<rect x="240.40" y="310.09" width="1.18" height="11.56" fill="#1E90FF"/>
<rect x="241.55" y="310.09" width="2.90" height="11.56" fill="#A80C0C"/>
<rect x="244.42" y="310.09" width="1.18" height="11.56" fill="#1E90FF"/>
<rect x="245.57" y="310.09" width="0.60" height="11.56" fill="#6CCB3F"/>
<rect x="246.14" y="310.09" width="4.59" height="11.56" fill="#1E90FF"/>
<rect x="41.40" y="304.11" width="0.60" height="6.01" fill="#6CCB3F"/>
<rect x="41.97" y="304.11" width="2.90" height="6.01" fill="#1E90FF"/>
<rect x="44.84" y="304.11" width="2.90" height="6.01" fill="#FFCF50"/>
<rect x="47.71" y="304.11" width="1.18" height="6.01" fill="#1E90FF"/>
<rect x="48.86" y="304.11" width="2.90" height="6.01" fill="#FFCF50"/>
<rect x="51.72" y="304.11" width="1.18" height="6.01" fill="#1E90FF"/>
<rect x="52.87" y="304.11" width="2.90" height="6.01" fill="#FFCF50"/>
<rect x="55.74" y="304.11" width="1.18" height="6.01" fill="#1E90FF"/>
<rect x="56.88" y="304.11" width="2.90" height="6.01" fill="#FFCF50"/>
<rect x="59.75" y="304.11" width="1.18" height="6.01" fill="#1E90FF"/>
<rect x="60.90" y="304.11" width="2.90" height="6.01" fill="#FFCF50"/>
<rect x="63.77" y="304.11" width="1.18" height="6.01" fill="#1E90FF"/>
<rect x="64.91" y="304.11" width="2.90" height="6.01" fill="#FFCF50"/>
<rect x="67.78" y="304.11" width="1.18" height="6.01" fill="#1E90FF"/>
<rect x="68.93" y="304.11" width="2.90" height="6.01" fill="#FFCF50"/>
<rect x="71.80" y="304.11" width="1.18" height="6.01" fill="#1E90FF"/>
<rect x="72.94" y="304.11" width="2.90" height="6.01" fill="#FFCF50"/>
<rect x="75.81" y="304.11" width="1.18" height="6.01" fill="#1E90FF"/>
<rect x="76.96" y="304.11" width="2.90" height="6.01" fill="#FFCF50"/>
<rect x="79.82" y="304.11" width="1.18" height="6.01" fill="#1E90FF"/>
<rect x="80.97" y="304.11" width="2.90" height="6.01" fill="#FFCF50"/>
<rect x="83.84" y="304.11" width="1.18" height="6.01" fill="#1E90FF"/>
<rect x="84.99" y="304.11" width="2.90" height="6.01" fill="#FFCF50"/>
<rect x="87.85" y="304.11" width="1.18" height="6.01" fill="#1E90FF"/>
<rect x="89.00" y="304.11" width="2.90" height="6.01" fill="#FFCF50"/>
<rect x="91.87" y="304.11" width="1.18" height="6.01" fill="#1E90FF"/>
<rect x="93.02" y="304.11" width="2.90" height="6.01" fill="#FFCF50"/>
<rect x="95.88" y="304.11" width="1.18" height="6.01" fill="#1E90FF"/>
<rect x="97.03" y="304.11" width="2.90" height="6.01" fill="#FFCF50"/>
<rect x="99.90" y="304.11" width="1.18" height="6.01" fill="#1E90FF"/>
<rect x="101.04" y="304.11" width="1.75" height="6.01" fill="#6CCB3F"/>
<rect x="102.76" y="304.11" width="2.90" height="6.01" fill="#00BFFF"/>
<rect x="105.63" y="304.11" width="2.32" height="6.01" fill="#FFCF50"/>
<rect x="107.93" y="304.11" width="1.18" height="6.01" fill="#1E90FF"/>
<rect x="109.07" y="304.11" width="2.90" height="6.01" fill="#FFCF50"/>
<rect x="111.94" y="304.11" width="1.18" height="6.01" fill="#1E90FF"/>
<rect x="113.09" y="304.11" width="2.90" height="6.01" fill="#FFCF50"/>
<rect x="115.96" y="304.11" width="1.18" height="6.01" fill="#1E90FF"/>
<rect x="117.10" y="304.11" width="2.90" height="6.01" fill="#FFCF50"/>
<rect x="119.97" y="304.11" width="1.18" height="6.01" fill="#1E90FF"/>
<rect x="121.12" y="304.11" width="2.90" height="6.01" fill="#FFCF50"/>
<rect x="123.98" y="304.11" width="1.18" height="6.01" fill="#1E90FF"/>
<rect x="125.13" y="304.11" width="2.90" height="6.01" fill="#FFCF50"/>
<rect x="128.00" y="304.11" width="1.18" height="6.01" fill="#1E90FF"/>
<rect x="129.15" y="304.11" width="2.90" height="6.01" fill="#F47C7C"/>
<rect x="132.01" y="304.11" width="1.18" height="6.01" fill="#1E90FF"/>
<rect x="133.16" y="304.11" width="2.90" height="6.01" fill="#F47C7C"/>
<rect x="136.03" y="304.11" width="1.18" height="6.01" fill="#1E90FF"/>
<rect x="137.17" y="304.11" width="2.90" height="6.01" fill="#A80C0C"/>
<rect x="140.04" y="304.11" width="1.18" height="6.01" fill="#1E90FF"/>
<rect x="141.19" y="304.11" width="2.90" height="6.01" fill="#F47C7C"/>
<rect x="144.06" y="304.11" width="1.18" height="6.01" fill="#1E90FF"/>
<rect x="145.20" y="304.11" width="2.90" height="6.01" fill="#F47C7C"/>
<rect x="148.07" y="304.11" width="1.18" height="6.01" fill="#1E90FF"/>
<rect x="149.22" y="304.11" width="2.90" height="6.01" fill="#F47C7C"/>
<rect x="152.09" y="304.11" width="1.18" height="6.01" fill="#1E90FF"/>
<rect x="153.23" y="304.11" width="2.90" height="6.01" fill="#F47C7C"/>
<rect x="156.10" y="304.11" width="1.18" height="6.01" fill="#1E90FF"/>
<rect x="157.25" y="304.11" width="2.90" height="6.01" fill="#F47C7C"/>
<rect x="160.11" y="304.11" width="1.18" height="6.01" fill="#1E90FF"/>
<rect x="161.26" y="304.11" width="0.60" height="6.01" fill="#F47C7C"/>
<rect x="161.84" y="304.11" width="1.75" height="6.01" fill="#FFCF50"/>
<rect x="163.56" y="304.11" width="0.60" height="6.01" fill="#F47C7C"/>
<rect x="164.13" y="304.11" width="1.18" height="6.01" fill="#1E90FF"/>
<rect x="165.28" y="304.11" width="1.18" height="6.01" fill="#FFCF50"/>
<rect x="166.42" y="304.11" width="0.60" height="6.01" fill="#F47C7C"/>
<rect x="167.00" y="304.11" width="1.18" height="6.01" fill="#FFCF50"/>
<rect x="168.14" y="304.11" width="6.34" height="6.01" fill="#1E90FF"/>
<rect x="174.45" y="304.11" width="1.75" height="6.01" fill="#6CCB3F"/>
<rect x="176.17" y="304.11" width="1.18" height="6.01" fill="#1E90FF"/>
<rect x="177.32" y="304.11" width="2.90" height="6.01" fill="#F47C7C"/>
<rect x="180.19" y="304.11" width="1.18" height="6.01" fill="#1E90FF"/>
<rect x="181.33" y="304.11" width="2.90" height="6.01" fill="#FFCF50"/>
<rect x="184.20" y="304.11" width="1.18" height="6.01" fill="#1E90FF"/>
<rect x="185.35" y="304.11" width="2.90" height="6.01" fill="#F47C7C"/>
<rect x="188.22" y="304.11" width="1.18" height="6.01" fill="#1E90FF"/>
<rect x="189.36" y="304.11" width="2.90" height="6.01" fill="#FFCF50"/>
<rect x="192.23" y="304.11" width="1.18" height="6.01" fill="#1E90FF"/>
<rect x="193.38" y="304.11" width="2.90" height="6.01" fill="#FFCF50"/>
<rect x="196.25" y="304.11" width="1.18" height="6.01" fill="#1E90FF"/>
<rect x="197.39" y="304.11" width="2.90" height="6.01" fill="#F47C7C"/>
<rect x="200.26" y="304.11" width="1.18" height="6.01" fill="#1E90FF"/>
<rect x="201.41" y="304.11" width="2.90" height="6.01" fill="#FFCF50"/>
<rect x="204.27" y="304.11" width="1.18" height="6.01" fill="#1E90FF"/>
<rect x="205.42" y="304.11" width="2.90" height="6.01" fill="#F47C7C"/>
<rect x="208.29" y="304.11" width="1.18" height="6.01" fill="#1E90FF"/>
<rect x="209.44" y="304.11" width="2.90" height="6.01" fill="#FFCF50"/>
<rect x="212.30" y="304.11" width="1.18" height="6.01" fill="#1E90FF"/>
<rect x="213.45" y="304.11" width="2.90" height="6.01" fill="#F47C7C"/>
<rect x="216.32" y="304.11" width="1.18" height="6.01" fill="#1E90FF"/>
<rect x="217.46" y="304.11" width="2.90" height="6.01" fill="#F47C7C"/>
<rect x="220.33" y="304.11" width="1.18" height="6.01" fill="#1E90FF"/>
<rect x="221.48" y="304.11" width="2.90" height="6.01" fill="#FFCF50"/>
<rect x="224.35" y="304.11" width="1.18" height="6.01" fill="#1E90FF"/>
<rect x="225.49" y="304.11" width="2.90" height="6.01" fill="#FFCF50"/>
<rect x="228.36" y="304.11" width="1.18" height="6.01" fill="#1E90FF"/>
<rect x="229.51" y="304.11" width="2.90" height="6.01" fill="#FFCF50"/>
<rect x="232.38" y="304.11" width="1.18" height="6.01" fill="#1E90FF"/>
<rect x="233.52" y="304.11" width="2.90" height="6.01" fill="#FFCF50"/>
<rect x="236.39" y="304.11" width="1.18" height="6.01" fill="#1E90FF"/>
<rect x="237.54" y="304.11" width="2.90" height="6.01" fill="#F47C7C"/>
<rect x="240.40" y="304.11" width="1.18" height="6.01" fill="#1E90FF"/>
<rect x="241.55" y="304.11" width="2.90" height="6.01" fill="#F47C7C"/>
<rect x="244.42" y="304.11" width="1.18" height="6.01" fill="#1E90FF"/>
<rect x="245.57" y="304.11" width="0.60" height="6.01" fill="#6CCB3F"/>
<rect x="246.14" y="304.11" width="4.59" height="6.01" fill="#1E90FF"/>
<rect x="41.40" y="296.00" width="46.48" height="8.14" fill="#1E90FF"/>
<rect x="87.85" y="296.00" width="2.32" height="8.14" fill="#00BFFF"/>
<rect x="90.15" y="296.00" width="5.19" height="8.14" fill="#1E90FF"/>
<rect x="95.31" y="296.00" width="1.75" height="8.14" fill="#00BFFF"/>
<rect x="97.03" y="296.00" width="31.00" height="8.14" fill="#1E90FF"/>
<rect x="128.00" y="296.00" width="1.75" height="8.14" fill="#00BFFF"/>
<rect x="129.72" y="296.00" width="0.60" height="8.14" fill="#1E90FF"/>
<rect x="130.29" y="296.00" width="1.18" height="8.14" fill="#00BFFF"/>
<rect x="131.44" y="296.00" width="0.60" height="8.14" fill="#1E90FF"/>
<rect x="132.01" y="296.00" width="0.60" height="8.14" fill="#00BFFF"/>
<rect x="132.59" y="296.00" width="0.60" height="8.14" fill="#1E90FF"/>
<rect x="133.16" y="296.00" width="0.60" height="8.14" fill="#00BFFF"/>
<rect x="133.73" y="296.00" width="0.60" height="8.14" fill="#1E90FF"/>
<rect x="134.31" y="296.00" width="1.18" height="8.14" fill="#00BFFF"/>
<rect x="135.45" y="296.00" width="0.60" height="8.14" fill="#1E90FF"/>
<rect x="136.03" y="296.00" width="4.62" height="8.14" fill="#00BFFF"/>
<rect x="140.62" y="296.00" width="0.60" height="8.14" fill="#1E90FF"/>
<rect x="141.19" y="296.00" width="0.60" height="8.14" fill="#00BFFF"/>
<rect x="141.76" y="296.00" width="0.60" height="8.14" fill="#6CCB3F"/>
<rect x="142.34" y="296.00" width="1.18" height="8.14" fill="#00BFFF"/>
<rect x="143.48" y="296.00" width="0.60" height="8.14" fill="#1E90FF"/>
<rect x="144.06" y="296.00" width="1.75" height="8.14" fill="#00BFFF"/>
<rect x="145.78" y="296.00" width="0.60" height="8.14" fill="#6CCB3F"/>
<rect x="146.35" y="296.00" width="0.60" height="8.14" fill="#00BFFF"/>
<rect x="146.92" y="296.00" width="0.60" height="8.14" fill="#1E90FF"/>
<rect x="147.50" y="296.00" width="1.18" height="8.14" fill="#00BFFF"/>
<rect x="148.64" y="296.00" width="0.60" height="8.14" fill="#1E90FF"/>
<rect x="149.22" y="296.00" width="0.60" height="8.14" fill="#6CCB3F"/>
<rect x="149.79" y="296.00" width="0.60" height="8.14" fill="#1E90FF"/>
<rect x="150.37" y="296.00" width="0.60" height="8.14" fill="#00BFFF"/>
<rect x="150.94" y="296.00" width="0.60" height="8.14" fill="#1E90FF"/>
<rect x="151.51" y="296.00" width="3.47" height="8.14" fill="#00BFFF"/>
<rect x="154.95" y="296.00" width="0.60" height="8.14" fill="#1E90FF"/>
<rect x="155.53" y="296.00" width="1.75" height="8.14" fill="#00BFFF"/>
<rect x="157.25" y="296.00" width="1.18" height="8.14" fill="#1E90FF"/>
<rect x="158.39" y="296.00" width="0.60" height="8.14" fill="#6CCB3F"/>
<rect x="158.97" y="296.00" width="0.60" height="8.14" fill="#00BFFF"/>
<rect x="159.54" y="296.00" width="0.60" height="8.14" fill="#1E90FF"/>
<rect x="160.11" y="296.00" width="0.60" height="8.14" fill="#00BFFF"/>
<rect x="160.69" y="296.00" width="18.38" height="8.14" fill="#1E90FF"/>
<rect x="179.04" y="296.00" width="0.60" height="8.14" fill="#00BFFF"/>
<rect x="179.61" y="296.00" width="1.75" height="8.14" fill="#1E90FF"/>
<rect x="181.33" y="296.00" width="1.18" height="8.14" fill="#00BFFF"/>
<rect x="182.48" y="296.00" width="0.60" height="8.14" fill="#1E90FF"/>
<rect x="183.05" y="296.00" width="0.60" height="8.14" fill="#00BFFF"/>
<rect x="183.63" y="296.00" width="1.75" height="8.14" fill="#1E90FF"/>
<rect x="185.35" y="296.00" width="0.60" height="8.14" fill="#00BFFF"/>
<rect x="185.92" y="296.00" width="0.60" height="8.14" fill="#1E90FF"/>
<rect x="186.50" y="296.00" width="1.75" height="8.14" fill="#00BFFF"/>
<rect x="188.22" y="296.00" width="1.18" height="8.14" fill="#1E90FF"/>
<rect x="189.36" y="296.00" width="0.60" height="8.14" fill="#00BFFF"/>
<rect x="189.94" y="296.00" width="1.18" height="8.14" fill="#1E90FF"/>
<rect x="191.08" y="296.00" width="1.18" height="8.14" fill="#00BFFF"/>
<rect x="192.23" y="296.00" width="2.32" height="8.14" fill="#1E90FF"/>
<rect x="194.52" y="296.00" width="0.60" height="8.14" fill="#00BFFF"/>
<rect x="195.10" y="296.00" width="2.90" height="8.14" fill="#1E90FF"/>
<rect x="197.97" y="296.00" width="0.60" height="8.14" fill="#00BFFF"/>
<rect x="198.54" y="296.00" width="0.60" height="8.14" fill="#1E90FF"/>
<rect x="199.11" y="296.00" width="0.60" height="8.14" fill="#00BFFF"/>
<rect x="199.69" y="296.00" width="1.75" height="8.14" fill="#1E90FF"/>
<rect x="201.41" y="296.00" width="0.60" height="8.14" fill="#00BFFF"/>
<rect x="201.98" y="296.00" width="0.60" height="8.14" fill="#1E90FF"/>
<rect x="202.55" y="296.00" width="0.60" height="8.14" fill="#00BFFF"/>
<rect x="203.13" y="296.00" width="0.60" height="8.14" fill="#1E90FF"/>
<rect x="203.70" y="296.00" width="0.60" height="8.14" fill="#00BFFF"/>
<rect x="204.27" y="296.00" width="1.75" height="8.14" fill="#1E90FF"/>
<rect x="205.99" y="296.00" width="0.60" height="8.14" fill="#00BFFF"/>
<rect x="206.57" y="296.00" width="2.90" height="8.14" fill="#1E90FF"/>
<rect x="209.44" y="296.00" width="0.60" height="8.14" fill="#00BFFF"/>
<rect x="210.01" y="296.00" width="1.75" height="8.14" fill="#1E90FF"/>
<rect x="211.73" y="296.00" width="0.60" height="8.14" fill="#00BFFF"/>
<rect x="212.30" y="296.00" width="2.32" height="8.14" fill="#1E90FF"/>
<rect x="214.60" y="296.00" width="0.60" height="8.14" fill="#00BFFF"/>
<rect x="215.17" y="296.00" width="0.60" height="8.14" fill="#1E90FF"/>
<rect x="215.74" y="296.00" width="0.60" height="8.14" fill="#00BFFF"/>
<rect x="216.32" y="296.00" width="1.18" height="8.14" fill="#1E90FF"/>
<rect x="217.46" y="296.00" width="1.18" height="8.14" fill="#00BFFF"/>
<rect x="218.61" y="296.00" width="0.60" height="8.14" fill="#1E90FF"/>
<rect x="219.19" y="296.00" width="0.60" height="8.14" fill="#00BFFF"/>
<rect x="219.76" y="296.00" width="5.77" height="8.14" fill="#1E90FF"/>
<rect x="225.49" y="296.00" width="0.60" height="8.14" fill="#00BFFF"/>
<rect x="226.07" y="296.00" width="1.75" height="8.14" fill="#1E90FF"/>
<rect x="227.79" y="296.00" width="0.60" height="8.14" fill="#00BFFF"/>
<rect x="228.36" y="296.00" width="1.18" height="8.14" fill="#1E90FF"/>
<rect x="229.51" y="296.00" width="0.60" height="8.14" fill="#00BFFF"/>
<rect x="230.08" y="296.00" width="1.18" height="8.14" fill="#1E90FF"/>
<rect x="231.23" y="296.00" width="1.18" height="8.14" fill="#00BFFF"/>
<rect x="232.38" y="296.00" width="1.75" height="8.14" fill="#1E90FF"/>
<rect x="234.10" y="296.00" width="0.60" height="8.14" fill="#00BFFF"/>
<rect x="234.67" y="296.00" width="0.60" height="8.14" fill="#1E90FF"/>
<rect x="235.24" y="296.00" width="0.60" height="8.14" fill="#00BFFF"/>
<rect x="235.82" y="296.00" width="1.75" height="8.14" fill="#1E90FF"/>
<rect x="237.54" y="296.00" width="0.60" height="8.14" fill="#00BFFF"/>
<rect x="238.11" y="296.00" width="1.18" height="8.14" fill="#1E90FF"/>
<rect x="239.26" y="296.00" width="1.18" height="8.14" fill="#00BFFF"/>
<rect x="240.40" y="296.00" width="1.18" height="8.14" fill="#1E90FF"/>
<rect x="241.55" y="296.00" width="0.60" height="8.14" fill="#00BFFF"/>
<rect x="242.12" y="296.00" width="8.60" height="8.14" fill="#1E90FF"/>
<text x="39.3" y="299.91" font-size="7.1" fill="#555555" text-anchor="end" stroke="#555555">23:00</text>
<rect x="39.6" y="297.46" width="1.6" height="0.5" fill="#999"/>
<text x="39.3" y="306.80" font-size="7.1" fill="#555555" text-anchor="end" stroke="#555555">19:00</text>
<rect x="39.6" y="304.29" width="1.6" height="0.5" fill="#999"/>
<text x="39.3" y="313.69" font-size="7.1" fill="#555555" text-anchor="end" stroke="#555555">15:00</text>
<rect x="39.6" y="311.12" width="1.6" height="0.5" fill="#999"/>
<text x="39.3" y="320.59" font-size="7.1" fill="#555555" text-anchor="end" stroke="#555555">11:00</text>
<rect x="39.6" y="317.96" width="1.6" height="0.5" fill="#999"/>
<text x="39.3" y="327.48" font-size="7.1" fill="#555555" text-anchor="end" stroke="#555555">07:00</text>
<rect x="39.6" y="324.79" width="1.6" height="0.5" fill="#999"/>
<text x="39.3" y="334.37" font-size="7.1" fill="#555555" text-anchor="end" stroke="#555555">03:00</text>
<rect x="39.6" y="331.62" width="1.6" height="0.5" fill="#999"/>
<text x="41.69" y="347.20" font-size="7" fill="#555555" text-anchor="middle" stroke="#555555">Jan</text>
<rect x="41.44" y="337.00" width="0.5" height="1.6" fill="#999"/>
<text x="59.47" y="347.20" font-size="7" fill="#555555" text-anchor="middle" stroke="#555555">Feb</text>
<rect x="59.22" y="337.00" width="0.5" height="1.6" fill="#999"/>
<text x="75.52" y="347.20" font-size="7" fill="#555555" text-anchor="middle" stroke="#555555">Mar</text>
<rect x="75.27" y="337.00" width="0.5" height="1.6" fill="#999"/>
<text x="93.30" y="347.20" font-size="7" fill="#555555" text-anchor="middle" stroke="#555555">Apr</text>
<rect x="93.05" y="337.00" width="0.5" height="1.6" fill="#999"/>
<text x="110.51" y="347.20" font-size="7" fill="#555555" text-anchor="middle" stroke="#555555">May</text>
<rect x="110.26" y="337.00" width="0.5" height="1.6" fill="#999"/>
<text x="128.29" y="347.20" font-size="7" fill="#555555" text-anchor="middle" stroke="#555555">Jun</text>
<rect x="128.04" y="337.00" width="0.5" height="1.6" fill="#999"/>
<text x="145.49" y="347.20" font-size="7" fill="#555555" text-anchor="middle" stroke="#555555">Jul</text>
<rect x="145.24" y="337.00" width="0.5" height="1.6" fill="#999"/>
<text x="163.27" y="347.20" font-size="7" fill="#555555" text-anchor="middle" stroke="#555555">Aug</text>
<rect x="163.02" y="337.00" width="0.5" height="1.6" fill="#999"/>
<text x="181.05" y="347.20" font-size="7" fill="#555555" text-anchor="middle" stroke="#555555">Sep</text>
<rect x="180.80" y="337.00" width="0.5" height="1.6" fill="#999"/>
<text x="198.25" y="347.20" font-size="7" fill="#555555" text-anchor="middle" stroke="#555555">Oct</text>
<rect x="198.00" y="337.00" width="0.5" height="1.6" fill="#999"/>
<text x="216.03" y="347.20" font-size="7" fill="#555555" text-anchor="middle" stroke="#555555">Nov</text>
<rect x="215.78" y="337.00" width="0.5" height="1.6" fill="#999"/>
<text x="233.24" y="347.20" font-size="7" fill="#555555" text-anchor="middle" stroke="#555555">Dec</text>
<rect x="232.99" y="337.00" width="0.5" height="1.6" fill="#999"/>
<text x="146.4" y="364.7" font-size="10" fill="#1a1a1a" text-anchor="middle" stroke="#1a1a1a">Date</text>
<text transform="translate(10.5,185.5) rotate(-90)" font-size="10" fill="#1a1a1a" text-anchor="middle" stroke="#1a1a1a">Period</text>
<text x="144.5" y="389.6" font-size="11" font-weight="bold" font-family='"Liberation Serif", serif' fill="#000" text-anchor="middle" transform="translate(144.5,0) scale(1.08,1) translate(-144.5,0)" stroke="#000">(a)</text>
<rect x="311.2" y="8.3" width="44.2" height="15.0" fill="#D9D9D9" stroke="#B0B0B0" stroke-width="0.5"/>
<text x="333.30" y="15.3" font-size="5.9" fill="#1a1a1a" text-anchor="middle" stroke="#1a1a1a" style="stroke-width:0.08px">Time window 1</text>
<text x="334.50" y="21.8" font-size="5.9" fill="#1a1a1a" text-anchor="middle" stroke="#1a1a1a" style="stroke-width:0.08px">(00:00 - 06:29)</text>
<rect x="357.0" y="8.3" width="44.2" height="15.0" fill="#D9D9D9" stroke="#B0B0B0" stroke-width="0.5"/>
<text x="379.10" y="15.3" font-size="5.9" fill="#1a1a1a" text-anchor="middle" stroke="#1a1a1a" style="stroke-width:0.08px">Time window 2</text>
<text x="380.30" y="21.8" font-size="5.9" fill="#1a1a1a" text-anchor="middle" stroke="#1a1a1a" style="stroke-width:0.08px">(06:30 - 08:59)</text>
<rect x="402.7" y="8.3" width="44.2" height="15.0" fill="#D9D9D9" stroke="#B0B0B0" stroke-width="0.5"/>
<text x="424.80" y="15.3" font-size="5.9" fill="#1a1a1a" text-anchor="middle" stroke="#1a1a1a" style="stroke-width:0.08px">Time window 3</text>
<text x="426.00" y="21.8" font-size="5.9" fill="#1a1a1a" text-anchor="middle" stroke="#1a1a1a" style="stroke-width:0.08px">(09:00 - 15:44)</text>
<rect x="448.5" y="8.3" width="44.2" height="15.0" fill="#D9D9D9" stroke="#B0B0B0" stroke-width="0.5"/>
<text x="470.60" y="15.3" font-size="5.9" fill="#1a1a1a" text-anchor="middle" stroke="#1a1a1a" style="stroke-width:0.08px">Time window 4</text>
<text x="471.80" y="21.8" font-size="5.9" fill="#1a1a1a" text-anchor="middle" stroke="#1a1a1a" style="stroke-width:0.08px">(15:45 - 19:14)</text>
<rect x="494.2" y="8.3" width="44.2" height="15.0" fill="#D9D9D9" stroke="#B0B0B0" stroke-width="0.5"/>
<text x="516.30" y="15.3" font-size="5.9" fill="#1a1a1a" text-anchor="middle" stroke="#1a1a1a" style="stroke-width:0.08px">Time window 5</text>
<text x="517.50" y="21.8" font-size="5.9" fill="#1a1a1a" text-anchor="middle" stroke="#1a1a1a" style="stroke-width:0.08px">(19:15 - 24:00)</text>
<rect x="311.2" y="23.40" width="44.2" height="61.4" fill="#FCFCFC" stroke="#C4C4C4" stroke-width="0.6"/>
<rect x="312.65" y="49.00" width="6.3" height="35.80" fill="#1E90FF"/>
<rect x="319.65" y="63.92" width="6.3" height="20.88" fill="#00BFFF"/>
<rect x="326.65" y="81.30" width="6.3" height="3.50" fill="#6CCB3F"/>
<rect x="357.0" y="23.40" width="44.2" height="61.4" fill="#FCFCFC" stroke="#C4C4C4" stroke-width="0.6"/>
<rect x="358.45" y="77.00" width="6.3" height="7.80" fill="#1E90FF"/>
<rect x="365.45" y="74.24" width="6.3" height="10.56" fill="#00BFFF"/>
<rect x="372.45" y="74.05" width="6.3" height="10.74" fill="#6CCB3F"/>
<rect x="379.45" y="57.85" width="6.3" height="26.95" fill="#FFCF50"/>
<rect x="386.45" y="80.19" width="6.3" height="4.61" fill="#F47C7C"/>
<rect x="402.7" y="23.40" width="44.2" height="61.4" fill="#FCFCFC" stroke="#C4C4C4" stroke-width="0.6"/>
<rect x="404.15" y="77.00" width="6.3" height="7.80" fill="#1E90FF"/>
<rect x="411.15" y="77.00" width="6.3" height="7.80" fill="#00BFFF"/>
<rect x="418.15" y="79.89" width="6.3" height="4.91" fill="#6CCB3F"/>
<rect x="425.15" y="82.90" width="6.3" height="1.90" fill="#FFCF50"/>
<rect x="432.15" y="76.88" width="6.3" height="7.92" fill="#F47C7C"/>
<rect x="439.15" y="54.84" width="6.3" height="29.96" fill="#A80C0C"/>
<rect x="448.5" y="23.40" width="44.2" height="61.4" fill="#FCFCFC" stroke="#C4C4C4" stroke-width="0.6"/>
<rect x="449.95" y="71.05" width="6.3" height="13.75" fill="#1E90FF"/>
<rect x="456.95" y="80.19" width="6.3" height="4.61" fill="#00BFFF"/>
<rect x="463.95" y="81.18" width="6.3" height="3.62" fill="#6CCB3F"/>
<rect x="470.95" y="65.21" width="6.3" height="19.59" fill="#FFCF50"/>
<rect x="477.95" y="70.25" width="6.3" height="14.55" fill="#F47C7C"/>
<rect x="484.95" y="80.99" width="6.3" height="3.81" fill="#A80C0C"/>
<rect x="494.2" y="23.40" width="44.2" height="61.4" fill="#FCFCFC" stroke="#C4C4C4" stroke-width="0.6"/>
<rect x="495.65" y="71.35" width="6.3" height="13.45" fill="#1E90FF"/>
<rect x="502.65" y="41.94" width="6.3" height="42.86" fill="#00BFFF"/>
<rect x="509.65" y="80.69" width="6.3" height="4.11" fill="#6CCB3F"/>
<rect x="538.9" y="23.40" width="8.0" height="61.4" fill="#D9D9D9" stroke="#B0B0B0" stroke-width="0.5"/>
<text transform="translate(540.7,54.10) rotate(90)" font-size="5.9" fill="#1a1a1a" text-anchor="middle" stroke="#1a1a1a" style="stroke-width:0.08px">2015</text>
<text x="307.8" y="25.55" font-size="5.9" fill="#4d4d4d" text-anchor="end" stroke="#4d4d4d" style="stroke-width:0.08px">100%</text>
<rect x="309.4" y="23.15" width="1.8" height="0.5" fill="#888"/>
<text x="307.8" y="41.00" font-size="5.9" fill="#4d4d4d" text-anchor="end" stroke="#4d4d4d" style="stroke-width:0.08px">75%</text>
<rect x="309.4" y="38.50" width="1.8" height="0.5" fill="#888"/>
<text x="307.8" y="56.35" font-size="5.9" fill="#4d4d4d" text-anchor="end" stroke="#4d4d4d" style="stroke-width:0.08px">50%</text>
<rect x="309.4" y="53.85" width="1.8" height="0.5" fill="#888"/>
<text x="307.8" y="71.70" font-size="5.9" fill="#4d4d4d" text-anchor="end" stroke="#4d4d4d" style="stroke-width:0.08px">25%</text>
<rect x="309.4" y="69.20" width="1.8" height="0.5" fill="#888"/>
<text x="307.8" y="83.50" font-size="5.9" fill="#4d4d4d" text-anchor="end" stroke="#4d4d4d" style="stroke-width:0.08px">0%</text>
<rect x="309.4" y="84.55" width="1.8" height="0.5" fill="#888"/>
<rect x="311.2" y="86.75" width="44.2" height="61.4" fill="#FCFCFC" stroke="#C4C4C4" stroke-width="0.6"/>
<rect x="312.65" y="114.93" width="6.3" height="33.22" fill="#1E90FF"/>
<rect x="319.65" y="120.52" width="6.3" height="27.63" fill="#00BFFF"/>
<rect x="326.65" y="147.90" width="6.3" height="0.25" fill="#6CCB3F"/>
<rect x="357.0" y="86.75" width="44.2" height="61.4" fill="#FCFCFC" stroke="#C4C4C4" stroke-width="0.6"/>
<rect x="358.45" y="138.69" width="6.3" height="9.46" fill="#1E90FF"/>
<rect x="365.45" y="139.86" width="6.3" height="8.29" fill="#00BFFF"/>
<rect x="372.45" y="138.45" width="6.3" height="9.70" fill="#6CCB3F"/>
<rect x="379.45" y="119.78" width="6.3" height="28.37" fill="#FFCF50"/>
<rect x="386.45" y="142.87" width="6.3" height="5.28" fill="#F47C7C"/>
<rect x="402.7" y="86.75" width="44.2" height="61.4" fill="#FCFCFC" stroke="#C4C4C4" stroke-width="0.6"/>
<rect x="404.15" y="138.39" width="6.3" height="9.76" fill="#1E90FF"/>
<rect x="411.15" y="141.33" width="6.3" height="6.82" fill="#00BFFF"/>
<rect x="418.15" y="143.97" width="6.3" height="4.18" fill="#6CCB3F"/>
<rect x="425.15" y="145.63" width="6.3" height="2.52" fill="#FFCF50"/>
<rect x="432.15" y="137.34" width="6.3" height="10.81" fill="#F47C7C"/>
<rect x="439.15" y="121.13" width="6.3" height="27.02" fill="#A80C0C"/>
<rect x="448.5" y="86.75" width="44.2" height="61.4" fill="#FCFCFC" stroke="#C4C4C4" stroke-width="0.6"/>
<rect x="449.95" y="132.25" width="6.3" height="15.90" fill="#1E90FF"/>
<rect x="456.95" y="144.16" width="6.3" height="3.99" fill="#00BFFF"/>
<rect x="463.95" y="144.47" width="6.3" height="3.68" fill="#6CCB3F"/>
<rect x="470.95" y="126.11" width="6.3" height="22.04" fill="#FFCF50"/>
<rect x="477.95" y="134.15" width="6.3" height="14.00" fill="#F47C7C"/>
<rect x="484.95" y="146.12" width="6.3" height="2.03" fill="#A80C0C"/>
<rect x="494.2" y="86.75" width="44.2" height="61.4" fill="#FCFCFC" stroke="#C4C4C4" stroke-width="0.6"/>
<rect x="495.65" y="133.97" width="6.3" height="14.18" fill="#1E90FF"/>
<rect x="502.65" y="103.14" width="6.3" height="45.01" fill="#00BFFF"/>
<rect x="509.65" y="146.55" width="6.3" height="1.60" fill="#6CCB3F"/>
<rect x="538.9" y="86.75" width="8.0" height="61.4" fill="#D9D9D9" stroke="#B0B0B0" stroke-width="0.5"/>
<text transform="translate(540.7,117.45) rotate(90)" font-size="5.9" fill="#1a1a1a" text-anchor="middle" stroke="#1a1a1a" style="stroke-width:0.08px">2016</text>
<text x="307.8" y="89.75" font-size="5.9" fill="#4d4d4d" text-anchor="end" stroke="#4d4d4d" style="stroke-width:0.08px">100%</text>
<rect x="309.4" y="86.50" width="1.8" height="0.5" fill="#888"/>
<text x="307.8" y="104.35" font-size="5.9" fill="#4d4d4d" text-anchor="end" stroke="#4d4d4d" style="stroke-width:0.08px">75%</text>
<rect x="309.4" y="101.85" width="1.8" height="0.5" fill="#888"/>
<text x="307.8" y="119.70" font-size="5.9" fill="#4d4d4d" text-anchor="end" stroke="#4d4d4d" style="stroke-width:0.08px">50%</text>
<rect x="309.4" y="117.20" width="1.8" height="0.5" fill="#888"/>
<text x="307.8" y="135.05" font-size="5.9" fill="#4d4d4d" text-anchor="end" stroke="#4d4d4d" style="stroke-width:0.08px">25%</text>
<rect x="309.4" y="132.55" width="1.8" height="0.5" fill="#888"/>
<text x="307.8" y="148.60" font-size="5.9" fill="#4d4d4d" text-anchor="end" stroke="#4d4d4d" style="stroke-width:0.08px">0%</text>
<rect x="309.4" y="147.90" width="1.8" height="0.5" fill="#888"/>
<rect x="311.2" y="150.10" width="44.2" height="61.4" fill="#FCFCFC" stroke="#C4C4C4" stroke-width="0.6"/>
<rect x="312.65" y="160.60" width="6.3" height="50.90" fill="#1E90FF"/>
<rect x="319.65" y="206.04" width="6.3" height="5.46" fill="#00BFFF"/>
<rect x="326.65" y="207.20" width="6.3" height="4.30" fill="#6CCB3F"/>
<rect x="357.0" y="150.10" width="44.2" height="61.4" fill="#FCFCFC" stroke="#C4C4C4" stroke-width="0.6"/>
<rect x="358.45" y="199.83" width="6.3" height="11.67" fill="#1E90FF"/>
<rect x="365.45" y="203.03" width="6.3" height="8.47" fill="#00BFFF"/>
<rect x="372.45" y="198.73" width="6.3" height="12.77" fill="#6CCB3F"/>
<rect x="379.45" y="187.86" width="6.3" height="23.64" fill="#FFCF50"/>
<rect x="386.45" y="207.39" width="6.3" height="4.11" fill="#F47C7C"/>
<rect x="402.7" y="150.10" width="44.2" height="61.4" fill="#FCFCFC" stroke="#C4C4C4" stroke-width="0.6"/>
<rect x="404.15" y="200.20" width="6.3" height="11.30" fill="#1E90FF"/>
<rect x="411.15" y="204.93" width="6.3" height="6.57" fill="#00BFFF"/>
<rect x="418.15" y="207.20" width="6.3" height="4.30" fill="#6CCB3F"/>
<rect x="425.15" y="208.74" width="6.3" height="2.76" fill="#FFCF50"/>
<rect x="432.15" y="197.32" width="6.3" height="14.18" fill="#F47C7C"/>
<rect x="439.15" y="189.83" width="6.3" height="21.67" fill="#A80C0C"/>
<rect x="448.5" y="150.10" width="44.2" height="61.4" fill="#FCFCFC" stroke="#C4C4C4" stroke-width="0.6"/>
<rect x="449.95" y="194.74" width="6.3" height="16.76" fill="#1E90FF"/>
<rect x="456.95" y="207.69" width="6.3" height="3.81" fill="#00BFFF"/>
<rect x="463.95" y="206.71" width="6.3" height="4.79" fill="#6CCB3F"/>
<rect x="470.95" y="190.01" width="6.3" height="21.49" fill="#FFCF50"/>
<rect x="477.95" y="201.25" width="6.3" height="10.25" fill="#F47C7C"/>
<rect x="484.95" y="208.18" width="6.3" height="3.32" fill="#A80C0C"/>
<rect x="494.2" y="150.10" width="44.2" height="61.4" fill="#FCFCFC" stroke="#C4C4C4" stroke-width="0.6"/>
<rect x="495.65" y="185.04" width="6.3" height="26.46" fill="#1E90FF"/>
<rect x="502.65" y="182.83" width="6.3" height="28.67" fill="#00BFFF"/>
<rect x="509.65" y="207.69" width="6.3" height="3.81" fill="#6CCB3F"/>
<rect x="516.65" y="209.72" width="6.3" height="1.78" fill="#FFCF50"/>
<rect x="538.9" y="150.10" width="8.0" height="61.4" fill="#D9D9D9" stroke="#B0B0B0" stroke-width="0.5"/>
<text transform="translate(540.7,180.80) rotate(90)" font-size="5.9" fill="#1a1a1a" text-anchor="middle" stroke="#1a1a1a" style="stroke-width:0.08px">2017</text>
<text x="307.8" y="154.85" font-size="5.9" fill="#4d4d4d" text-anchor="end" stroke="#4d4d4d" style="stroke-width:0.08px">100%</text>
<rect x="309.4" y="149.85" width="1.8" height="0.5" fill="#888"/>
<text x="307.8" y="167.70" font-size="5.9" fill="#4d4d4d" text-anchor="end" stroke="#4d4d4d" style="stroke-width:0.08px">75%</text>
<rect x="309.4" y="165.20" width="1.8" height="0.5" fill="#888"/>
<text x="307.8" y="183.05" font-size="5.9" fill="#4d4d4d" text-anchor="end" stroke="#4d4d4d" style="stroke-width:0.08px">50%</text>
<rect x="309.4" y="180.55" width="1.8" height="0.5" fill="#888"/>
<text x="307.8" y="198.40" font-size="5.9" fill="#4d4d4d" text-anchor="end" stroke="#4d4d4d" style="stroke-width:0.08px">25%</text>
<rect x="309.4" y="195.90" width="1.8" height="0.5" fill="#888"/>
<text x="307.8" y="212.70" font-size="5.9" fill="#4d4d4d" text-anchor="end" stroke="#4d4d4d" style="stroke-width:0.08px">0%</text>
<rect x="309.4" y="211.25" width="1.8" height="0.5" fill="#888"/>
<rect x="311.2" y="213.45" width="44.2" height="61.4" fill="#FCFCFC" stroke="#C4C4C4" stroke-width="0.6"/>
<rect x="312.65" y="215.11" width="6.3" height="59.74" fill="#1E90FF"/>
<rect x="319.65" y="272.89" width="6.3" height="1.96" fill="#00BFFF"/>
<rect x="357.0" y="213.45" width="44.2" height="61.4" fill="#FCFCFC" stroke="#C4C4C4" stroke-width="0.6"/>
<rect x="358.45" y="264.41" width="6.3" height="10.44" fill="#1E90FF"/>
<rect x="365.45" y="267.24" width="6.3" height="7.61" fill="#00BFFF"/>
<rect x="372.45" y="267.24" width="6.3" height="7.61" fill="#6CCB3F"/>
<rect x="379.45" y="245.38" width="6.3" height="29.47" fill="#FFCF50"/>
<rect x="386.45" y="268.71" width="6.3" height="6.14" fill="#F47C7C"/>
<rect x="402.7" y="213.45" width="44.2" height="61.4" fill="#FCFCFC" stroke="#C4C4C4" stroke-width="0.6"/>
<rect x="404.15" y="264.53" width="6.3" height="10.32" fill="#1E90FF"/>
<rect x="411.15" y="269.02" width="6.3" height="5.83" fill="#00BFFF"/>
<rect x="418.15" y="269.69" width="6.3" height="5.16" fill="#6CCB3F"/>
<rect x="425.15" y="273.68" width="6.3" height="1.17" fill="#FFCF50"/>
<rect x="432.15" y="259.81" width="6.3" height="15.04" fill="#F47C7C"/>
<rect x="439.15" y="252.01" width="6.3" height="22.84" fill="#A80C0C"/>
<rect x="448.5" y="213.45" width="44.2" height="61.4" fill="#FCFCFC" stroke="#C4C4C4" stroke-width="0.6"/>
<rect x="449.95" y="255.82" width="6.3" height="19.03" fill="#1E90FF"/>
<rect x="456.95" y="273.19" width="6.3" height="1.66" fill="#00BFFF"/>
<rect x="463.95" y="272.03" width="6.3" height="2.82" fill="#6CCB3F"/>
<rect x="470.95" y="249.37" width="6.3" height="25.48" fill="#FFCF50"/>
<rect x="477.95" y="263.49" width="6.3" height="11.36" fill="#F47C7C"/>
<rect x="484.95" y="274.24" width="6.3" height="0.61" fill="#A80C0C"/>
<rect x="494.2" y="213.45" width="44.2" height="61.4" fill="#FCFCFC" stroke="#C4C4C4" stroke-width="0.6"/>
<rect x="495.65" y="241.88" width="6.3" height="32.97" fill="#1E90FF"/>
<rect x="502.65" y="247.04" width="6.3" height="27.81" fill="#00BFFF"/>
<rect x="538.9" y="213.45" width="8.0" height="61.4" fill="#D9D9D9" stroke="#B0B0B0" stroke-width="0.5"/>
<text transform="translate(540.7,244.15) rotate(90)" font-size="5.9" fill="#1a1a1a" text-anchor="middle" stroke="#1a1a1a" style="stroke-width:0.08px">2018</text>
<text x="307.8" y="219.25" font-size="5.9" fill="#4d4d4d" text-anchor="end" stroke="#4d4d4d" style="stroke-width:0.08px">100%</text>
<rect x="309.4" y="213.20" width="1.8" height="0.5" fill="#888"/>
<text x="307.8" y="231.05" font-size="5.9" fill="#4d4d4d" text-anchor="end" stroke="#4d4d4d" style="stroke-width:0.08px">75%</text>
<rect x="309.4" y="228.55" width="1.8" height="0.5" fill="#888"/>
<text x="307.8" y="246.40" font-size="5.9" fill="#4d4d4d" text-anchor="end" stroke="#4d4d4d" style="stroke-width:0.08px">50%</text>
<rect x="309.4" y="243.90" width="1.8" height="0.5" fill="#888"/>
<text x="307.8" y="261.75" font-size="5.9" fill="#4d4d4d" text-anchor="end" stroke="#4d4d4d" style="stroke-width:0.08px">25%</text>
<rect x="309.4" y="259.25" width="1.8" height="0.5" fill="#888"/>
<text x="307.8" y="275.35" font-size="5.9" fill="#4d4d4d" text-anchor="end" stroke="#4d4d4d" style="stroke-width:0.08px">0%</text>
<rect x="309.4" y="274.60" width="1.8" height="0.5" fill="#888"/>
<rect x="311.2" y="276.80" width="44.2" height="61.4" fill="#FCFCFC" stroke="#C4C4C4" stroke-width="0.6"/>
<rect x="312.65" y="280.12" width="6.3" height="58.08" fill="#1E90FF"/>
<rect x="319.65" y="335.74" width="6.3" height="2.46" fill="#00BFFF"/>
<rect x="326.65" y="337.09" width="6.3" height="1.11" fill="#6CCB3F"/>
<rect x="357.0" y="276.80" width="44.2" height="61.4" fill="#FCFCFC" stroke="#C4C4C4" stroke-width="0.6"/>
<rect x="358.45" y="326.23" width="6.3" height="11.97" fill="#1E90FF"/>
<rect x="365.45" y="331.51" width="6.3" height="6.69" fill="#00BFFF"/>
<rect x="372.45" y="327.52" width="6.3" height="10.68" fill="#6CCB3F"/>
<rect x="379.45" y="312.04" width="6.3" height="26.16" fill="#FFCF50"/>
<rect x="386.45" y="332.43" width="6.3" height="5.77" fill="#F47C7C"/>
<rect x="402.7" y="276.80" width="44.2" height="61.4" fill="#FCFCFC" stroke="#C4C4C4" stroke-width="0.6"/>
<rect x="404.15" y="326.90" width="6.3" height="11.30" fill="#1E90FF"/>
<rect x="411.15" y="332.43" width="6.3" height="5.77" fill="#00BFFF"/>
<rect x="418.15" y="333.72" width="6.3" height="4.48" fill="#6CCB3F"/>
<rect x="425.15" y="335.01" width="6.3" height="3.19" fill="#FFCF50"/>
<rect x="432.15" y="318.55" width="6.3" height="19.65" fill="#F47C7C"/>
<rect x="439.15" y="321.50" width="6.3" height="16.70" fill="#A80C0C"/>
<rect x="448.5" y="276.80" width="44.2" height="61.4" fill="#FCFCFC" stroke="#C4C4C4" stroke-width="0.6"/>
<rect x="449.95" y="319.35" width="6.3" height="18.85" fill="#1E90FF"/>
<rect x="456.95" y="335.62" width="6.3" height="2.58" fill="#00BFFF"/>
<rect x="463.95" y="334.70" width="6.3" height="3.50" fill="#6CCB3F"/>
<rect x="470.95" y="312.66" width="6.3" height="25.54" fill="#FFCF50"/>
<rect x="477.95" y="330.03" width="6.3" height="8.17" fill="#F47C7C"/>
<rect x="484.95" y="335.93" width="6.3" height="2.27" fill="#A80C0C"/>
<rect x="494.2" y="276.80" width="44.2" height="61.4" fill="#FCFCFC" stroke="#C4C4C4" stroke-width="0.6"/>
<rect x="495.65" y="294.30" width="6.3" height="43.90" fill="#1E90FF"/>
<rect x="502.65" y="322.05" width="6.3" height="16.15" fill="#00BFFF"/>
<rect x="509.65" y="337.09" width="6.3" height="1.11" fill="#6CCB3F"/>
<rect x="538.9" y="276.80" width="8.0" height="61.4" fill="#D9D9D9" stroke="#B0B0B0" stroke-width="0.5"/>
<text transform="translate(540.7,307.50) rotate(90)" font-size="5.9" fill="#1a1a1a" text-anchor="middle" stroke="#1a1a1a" style="stroke-width:0.08px">2019</text>
<text x="307.8" y="282.75" font-size="5.9" fill="#4d4d4d" text-anchor="end" stroke="#4d4d4d" style="stroke-width:0.08px">100%</text>
<rect x="309.4" y="276.55" width="1.8" height="0.5" fill="#888"/>
<text x="307.8" y="294.40" font-size="5.9" fill="#4d4d4d" text-anchor="end" stroke="#4d4d4d" style="stroke-width:0.08px">75%</text>
<rect x="309.4" y="291.90" width="1.8" height="0.5" fill="#888"/>
<text x="307.8" y="309.75" font-size="5.9" fill="#4d4d4d" text-anchor="end" stroke="#4d4d4d" style="stroke-width:0.08px">50%</text>
<rect x="309.4" y="307.25" width="1.8" height="0.5" fill="#888"/>
<text x="307.8" y="325.10" font-size="5.9" fill="#4d4d4d" text-anchor="end" stroke="#4d4d4d" style="stroke-width:0.08px">25%</text>
<rect x="309.4" y="322.60" width="1.8" height="0.5" fill="#888"/>
<text x="307.8" y="339.55" font-size="5.9" fill="#4d4d4d" text-anchor="end" stroke="#4d4d4d" style="stroke-width:0.08px">0%</text>
<rect x="309.4" y="337.95" width="1.8" height="0.5" fill="#888"/>
<text x="315.80" y="347.3" font-size="6.2" fill="#4d4d4d" text-anchor="middle" stroke="#4d4d4d" style="stroke-width:0.08px">a</text>
<rect x="315.55" y="338.8" width="0.5" height="1.6" fill="#aaa"/>
<text x="322.80" y="347.3" font-size="6.2" fill="#4d4d4d" text-anchor="middle" stroke="#4d4d4d" style="stroke-width:0.08px">b</text>
<rect x="322.55" y="338.8" width="0.5" height="1.6" fill="#aaa"/>
<text x="329.80" y="347.3" font-size="6.2" fill="#4d4d4d" text-anchor="middle" stroke="#4d4d4d" style="stroke-width:0.08px">c</text>
<rect x="329.55" y="338.8" width="0.5" height="1.6" fill="#aaa"/>
<text x="336.80" y="347.3" font-size="6.2" fill="#4d4d4d" text-anchor="middle" stroke="#4d4d4d" style="stroke-width:0.08px">d</text>
<rect x="336.55" y="338.8" width="0.5" height="1.6" fill="#aaa"/>
<text x="343.80" y="347.3" font-size="6.2" fill="#4d4d4d" text-anchor="middle" stroke="#4d4d4d" style="stroke-width:0.08px">e</text>
<rect x="343.55" y="338.8" width="0.5" height="1.6" fill="#aaa"/>
<text x="350.80" y="347.3" font-size="6.2" fill="#4d4d4d" text-anchor="middle" stroke="#4d4d4d" style="stroke-width:0.08px">f</text>
<rect x="350.55" y="338.8" width="0.5" height="1.6" fill="#aaa"/>
<text x="361.60" y="347.3" font-size="6.2" fill="#4d4d4d" text-anchor="middle" stroke="#4d4d4d" style="stroke-width:0.08px">a</text>
<rect x="361.35" y="338.8" width="0.5" height="1.6" fill="#aaa"/>
<text x="368.60" y="347.3" font-size="6.2" fill="#4d4d4d" text-anchor="middle" stroke="#4d4d4d" style="stroke-width:0.08px">b</text>
<rect x="368.35" y="338.8" width="0.5" height="1.6" fill="#aaa"/>
<text x="375.60" y="347.3" font-size="6.2" fill="#4d4d4d" text-anchor="middle" stroke="#4d4d4d" style="stroke-width:0.08px">c</text>
<rect x="375.35" y="338.8" width="0.5" height="1.6" fill="#aaa"/>
<text x="382.60" y="347.3" font-size="6.2" fill="#4d4d4d" text-anchor="middle" stroke="#4d4d4d" style="stroke-width:0.08px">d</text>
<rect x="382.35" y="338.8" width="0.5" height="1.6" fill="#aaa"/>
<text x="389.60" y="347.3" font-size="6.2" fill="#4d4d4d" text-anchor="middle" stroke="#4d4d4d" style="stroke-width:0.08px">e</text>
<rect x="389.35" y="338.8" width="0.5" height="1.6" fill="#aaa"/>
<text x="396.60" y="347.3" font-size="6.2" fill="#4d4d4d" text-anchor="middle" stroke="#4d4d4d" style="stroke-width:0.08px">f</text>
<rect x="396.35" y="338.8" width="0.5" height="1.6" fill="#aaa"/>
<text x="407.30" y="347.3" font-size="6.2" fill="#4d4d4d" text-anchor="middle" stroke="#4d4d4d" style="stroke-width:0.08px">a</text>
<rect x="407.05" y="338.8" width="0.5" height="1.6" fill="#aaa"/>
<text x="414.30" y="347.3" font-size="6.2" fill="#4d4d4d" text-anchor="middle" stroke="#4d4d4d" style="stroke-width:0.08px">b</text>
<rect x="414.05" y="338.8" width="0.5" height="1.6" fill="#aaa"/>
<text x="421.30" y="347.3" font-size="6.2" fill="#4d4d4d" text-anchor="middle" stroke="#4d4d4d" style="stroke-width:0.08px">c</text>
<rect x="421.05" y="338.8" width="0.5" height="1.6" fill="#aaa"/>
<text x="428.30" y="347.3" font-size="6.2" fill="#4d4d4d" text-anchor="middle" stroke="#4d4d4d" style="stroke-width:0.08px">d</text>
<rect x="428.05" y="338.8" width="0.5" height="1.6" fill="#aaa"/>
<text x="435.30" y="347.3" font-size="6.2" fill="#4d4d4d" text-anchor="middle" stroke="#4d4d4d" style="stroke-width:0.08px">e</text>
<rect x="435.05" y="338.8" width="0.5" height="1.6" fill="#aaa"/>
<text x="442.30" y="347.3" font-size="6.2" fill="#4d4d4d" text-anchor="middle" stroke="#4d4d4d" style="stroke-width:0.08px">f</text>
<rect x="442.05" y="338.8" width="0.5" height="1.6" fill="#aaa"/>
<text x="453.10" y="347.3" font-size="6.2" fill="#4d4d4d" text-anchor="middle" stroke="#4d4d4d" style="stroke-width:0.08px">a</text>
<rect x="452.85" y="338.8" width="0.5" height="1.6" fill="#aaa"/>
<text x="460.10" y="347.3" font-size="6.2" fill="#4d4d4d" text-anchor="middle" stroke="#4d4d4d" style="stroke-width:0.08px">b</text>
<rect x="459.85" y="338.8" width="0.5" height="1.6" fill="#aaa"/>
<text x="467.10" y="347.3" font-size="6.2" fill="#4d4d4d" text-anchor="middle" stroke="#4d4d4d" style="stroke-width:0.08px">c</text>
<rect x="466.85" y="338.8" width="0.5" height="1.6" fill="#aaa"/>
<text x="474.10" y="347.3" font-size="6.2" fill="#4d4d4d" text-anchor="middle" stroke="#4d4d4d" style="stroke-width:0.08px">d</text>
<rect x="473.85" y="338.8" width="0.5" height="1.6" fill="#aaa"/>
<text x="481.10" y="347.3" font-size="6.2" fill="#4d4d4d" text-anchor="middle" stroke="#4d4d4d" style="stroke-width:0.08px">e</text>
<rect x="480.85" y="338.8" width="0.5" height="1.6" fill="#aaa"/>
<text x="488.10" y="347.3" font-size="6.2" fill="#4d4d4d" text-anchor="middle" stroke="#4d4d4d" style="stroke-width:0.08px">f</text>
<rect x="487.85" y="338.8" width="0.5" height="1.6" fill="#aaa"/>
<text x="498.80" y="347.3" font-size="6.2" fill="#4d4d4d" text-anchor="middle" stroke="#4d4d4d" style="stroke-width:0.08px">a</text>
<rect x="498.55" y="338.8" width="0.5" height="1.6" fill="#aaa"/>
<text x="505.80" y="347.3" font-size="6.2" fill="#4d4d4d" text-anchor="middle" stroke="#4d4d4d" style="stroke-width:0.08px">b</text>
<rect x="505.55" y="338.8" width="0.5" height="1.6" fill="#aaa"/>
<text x="512.80" y="347.3" font-size="6.2" fill="#4d4d4d" text-anchor="middle" stroke="#4d4d4d" style="stroke-width:0.08px">c</text>
<rect x="512.55" y="338.8" width="0.5" height="1.6" fill="#aaa"/>
<text x="519.80" y="347.3" font-size="6.2" fill="#4d4d4d" text-anchor="middle" stroke="#4d4d4d" style="stroke-width:0.08px">d</text>
<rect x="519.55" y="338.8" width="0.5" height="1.6" fill="#aaa"/>
<text x="526.80" y="347.3" font-size="6.2" fill="#4d4d4d" text-anchor="middle" stroke="#4d4d4d" style="stroke-width:0.08px">e</text>
<rect x="526.55" y="338.8" width="0.5" height="1.6" fill="#aaa"/>
<text x="533.80" y="347.3" font-size="6.2" fill="#4d4d4d" text-anchor="middle" stroke="#4d4d4d" style="stroke-width:0.08px">f</text>
<rect x="533.55" y="338.8" width="0.5" height="1.6" fill="#aaa"/>
<text x="429.3" y="362.3" font-size="10" fill="#1a1a1a" text-anchor="middle" stroke="#1a1a1a">Symbol</text>
<text x="429.6" y="389.6" font-size="11" font-weight="bold" font-family='"Liberation Serif", serif' fill="#000" text-anchor="middle" transform="translate(429.6,0) scale(1.08,1) translate(-429.6,0)" stroke="#000">(b)</text>
</svg></body></html>
